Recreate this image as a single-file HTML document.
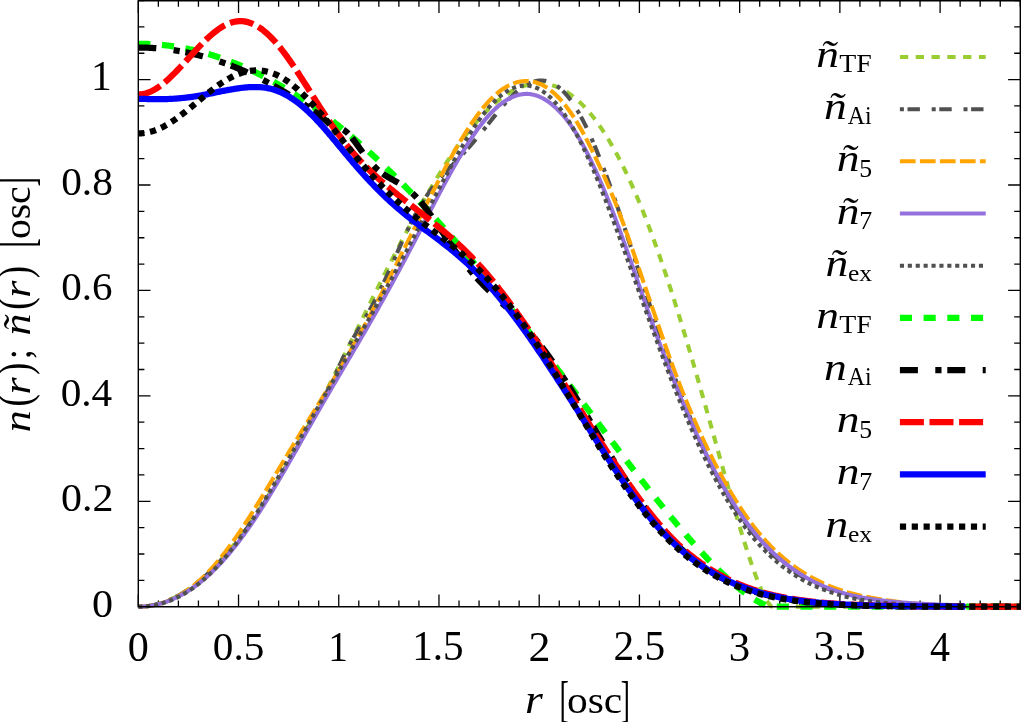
<!DOCTYPE html>
<html lang="en"><head><meta charset="utf-8"><title>density profiles</title>
<style>html,body{margin:0;padding:0;background:#fff}svg{display:block}text{font-family:"Liberation Serif",serif;fill:#000}.it{font-style:italic}</style></head><body>
<svg width="1021" height="722" viewBox="0 0 1021 722">
<rect width="1021" height="722" fill="#fff"/>
<defs><clipPath id="cp"><rect x="138.3" y="0.7" width="882.7" height="609.3"/></clipPath></defs>
<path d="M138.30,606.7 v-12.2 M138.30,0.7 v12.2 M158.35,606.7 v-6.1 M158.35,0.7 v6.1 M178.39,606.7 v-6.1 M178.39,0.7 v6.1 M198.44,606.7 v-6.1 M198.44,0.7 v6.1 M218.48,606.7 v-6.1 M218.48,0.7 v6.1 M238.53,606.7 v-12.2 M238.53,0.7 v12.2 M258.57,606.7 v-6.1 M258.57,0.7 v6.1 M278.62,606.7 v-6.1 M278.62,0.7 v6.1 M298.66,606.7 v-6.1 M298.66,0.7 v6.1 M318.71,606.7 v-6.1 M318.71,0.7 v6.1 M338.75,606.7 v-12.2 M338.75,0.7 v12.2 M358.80,606.7 v-6.1 M358.80,0.7 v6.1 M378.84,606.7 v-6.1 M378.84,0.7 v6.1 M398.88,606.7 v-6.1 M398.88,0.7 v6.1 M418.93,606.7 v-6.1 M418.93,0.7 v6.1 M438.97,606.7 v-12.2 M438.97,0.7 v12.2 M459.02,606.7 v-6.1 M459.02,0.7 v6.1 M479.06,606.7 v-6.1 M479.06,0.7 v6.1 M499.11,606.7 v-6.1 M499.11,0.7 v6.1 M519.15,606.7 v-6.1 M519.15,0.7 v6.1 M539.20,606.7 v-12.2 M539.20,0.7 v12.2 M559.25,606.7 v-6.1 M559.25,0.7 v6.1 M579.29,606.7 v-6.1 M579.29,0.7 v6.1 M599.33,606.7 v-6.1 M599.33,0.7 v6.1 M619.38,606.7 v-6.1 M619.38,0.7 v6.1 M639.42,606.7 v-12.2 M639.42,0.7 v12.2 M659.47,606.7 v-6.1 M659.47,0.7 v6.1 M679.52,606.7 v-6.1 M679.52,0.7 v6.1 M699.56,606.7 v-6.1 M699.56,0.7 v6.1 M719.61,606.7 v-6.1 M719.61,0.7 v6.1 M739.65,606.7 v-12.2 M739.65,0.7 v12.2 M759.69,606.7 v-6.1 M759.69,0.7 v6.1 M779.74,606.7 v-6.1 M779.74,0.7 v6.1 M799.78,606.7 v-6.1 M799.78,0.7 v6.1 M819.83,606.7 v-6.1 M819.83,0.7 v6.1 M839.88,606.7 v-12.2 M839.88,0.7 v12.2 M859.92,606.7 v-6.1 M859.92,0.7 v6.1 M879.96,606.7 v-6.1 M879.96,0.7 v6.1 M900.01,606.7 v-6.1 M900.01,0.7 v6.1 M920.05,606.7 v-6.1 M920.05,0.7 v6.1 M940.10,606.7 v-12.2 M940.10,0.7 v12.2 M960.14,606.7 v-6.1 M960.14,0.7 v6.1 M980.19,606.7 v-6.1 M980.19,0.7 v6.1 M1000.23,606.7 v-6.1 M1000.23,0.7 v6.1 M1020.28,606.7 v-6.1 M1020.28,0.7 v6.1 M138.3,606.70 h12.2 M1020.3,606.70 h-12.2 M138.3,580.35 h6.1 M1020.3,580.35 h-6.1 M138.3,553.99 h6.1 M1020.3,553.99 h-6.1 M138.3,527.63 h6.1 M1020.3,527.63 h-6.1 M138.3,501.28 h12.2 M1020.3,501.28 h-12.2 M138.3,474.93 h6.1 M1020.3,474.93 h-6.1 M138.3,448.57 h6.1 M1020.3,448.57 h-6.1 M138.3,422.22 h6.1 M1020.3,422.22 h-6.1 M138.3,395.86 h12.2 M1020.3,395.86 h-12.2 M138.3,369.50 h6.1 M1020.3,369.50 h-6.1 M138.3,343.15 h6.1 M1020.3,343.15 h-6.1 M138.3,316.80 h6.1 M1020.3,316.80 h-6.1 M138.3,290.44 h12.2 M1020.3,290.44 h-12.2 M138.3,264.09 h6.1 M1020.3,264.09 h-6.1 M138.3,237.73 h6.1 M1020.3,237.73 h-6.1 M138.3,211.38 h6.1 M1020.3,211.38 h-6.1 M138.3,185.02 h12.2 M1020.3,185.02 h-12.2 M138.3,158.66 h6.1 M1020.3,158.66 h-6.1 M138.3,132.31 h6.1 M1020.3,132.31 h-6.1 M138.3,105.95 h6.1 M1020.3,105.95 h-6.1 M138.3,79.60 h12.2 M1020.3,79.60 h-12.2 M138.3,53.25 h6.1 M1020.3,53.25 h-6.1 M138.3,26.89 h6.1 M1020.3,26.89 h-6.1 M138.3,0.53 h6.1 M1020.3,0.53 h-6.1" stroke="#000" stroke-width="1.3" fill="none"/>
<g clip-path="url(#cp)" fill="none" stroke-linejoin="round">
<path d="M138.30,606.70 L139.30,606.69 L140.30,606.67 L141.31,606.64 L142.31,606.59 L143.31,606.52 L144.31,606.45 L145.32,606.36 L146.32,606.25 L147.32,606.13 L148.32,606.00 L149.32,605.85 L150.33,605.69 L151.33,605.51 L152.33,605.32 L153.33,605.12 L154.34,604.90 L155.34,604.67 L156.34,604.42 L157.34,604.16 L158.35,603.89 L159.35,603.60 L160.35,603.30 L161.35,602.98 L162.35,602.66 L163.36,602.31 L164.36,601.96 L165.36,601.58 L166.36,601.20 L167.37,600.80 L168.37,600.39 L169.37,599.96 L170.37,599.52 L171.37,599.07 L172.38,598.60 L173.38,598.12 L174.38,597.62 L175.38,597.12 L176.39,596.59 L177.39,596.06 L178.39,595.51 L179.39,594.95 L180.39,594.37 L181.40,593.78 L182.40,593.18 L183.40,592.56 L184.40,591.93 L185.41,591.28 L186.41,590.63 L187.41,589.96 L188.41,589.27 L189.41,588.58 L190.42,587.86 L191.42,587.14 L192.42,586.40 L193.42,585.65 L194.43,584.89 L195.43,584.12 L196.43,583.33 L197.43,582.52 L198.44,581.71 L199.44,580.88 L200.44,580.04 L201.44,579.19 L202.44,578.32 L203.45,577.44 L204.45,576.55 L205.45,575.64 L206.45,574.72 L207.46,573.79 L208.46,572.85 L209.46,571.90 L210.46,570.93 L211.46,569.95 L212.47,568.95 L213.47,567.95 L214.47,566.93 L215.47,565.90 L216.48,564.86 L217.48,563.81 L218.48,562.74 L219.48,561.66 L220.48,560.57 L221.49,559.47 L222.49,558.36 L223.49,557.23 L224.49,556.09 L225.50,554.94 L226.50,553.78 L227.50,552.61 L228.50,551.42 L229.50,550.23 L230.51,549.02 L231.51,547.80 L232.51,546.57 L233.51,545.33 L234.52,544.08 L235.52,542.81 L236.52,541.54 L237.52,540.25 L238.53,538.95 L239.53,537.64 L240.53,536.33 L241.53,535.00 L242.53,533.65 L243.54,532.30 L244.54,530.94 L245.54,529.57 L246.54,528.19 L247.55,526.79 L248.55,525.39 L249.55,523.97 L250.55,522.55 L251.55,521.11 L252.56,519.67 L253.56,518.21 L254.56,516.75 L255.56,515.27 L256.57,513.79 L257.57,512.29 L258.57,510.79 L259.57,509.28 L260.57,507.75 L261.58,506.22 L262.58,504.68 L263.58,503.13 L264.58,501.57 L265.59,500.00 L266.59,498.42 L267.59,496.83 L268.59,495.23 L269.59,493.63 L270.60,492.01 L271.60,490.39 L272.60,488.76 L273.60,487.12 L274.61,485.47 L275.61,483.81 L276.61,482.14 L277.61,480.47 L278.62,478.79 L279.62,477.10 L280.62,475.40 L281.62,473.69 L282.62,471.98 L283.63,470.26 L284.63,468.53 L285.63,466.79 L286.63,465.05 L287.64,463.30 L288.64,461.54 L289.64,459.77 L290.64,458.00 L291.64,456.22 L292.65,454.43 L293.65,452.64 L294.65,450.84 L295.65,449.03 L296.66,447.22 L297.66,445.40 L298.66,443.57 L299.66,441.74 L300.66,439.90 L301.67,438.05 L302.67,436.20 L303.67,434.34 L304.67,432.48 L305.68,430.61 L306.68,428.74 L307.68,426.86 L308.68,424.97 L309.68,423.08 L310.69,421.18 L311.69,419.28 L312.69,417.38 L313.69,415.46 L314.70,413.55 L315.70,411.63 L316.70,409.70 L317.70,407.77 L318.71,405.84 L319.71,403.90 L320.71,401.95 L321.71,400.01 L322.71,398.06 L323.72,396.10 L324.72,394.14 L325.72,392.18 L326.72,390.21 L327.73,388.24 L328.73,386.27 L329.73,384.29 L330.73,382.31 L331.73,380.33 L332.74,378.34 L333.74,376.35 L334.74,374.36 L335.74,372.37 L336.75,370.37 L337.75,368.37 L338.75,366.37 L339.75,364.37 L340.75,362.36 L341.76,360.35 L342.76,358.34 L343.76,356.33 L344.76,354.32 L345.77,352.30 L346.77,350.29 L347.77,348.27 L348.77,346.25 L349.77,344.23 L350.78,342.21 L351.78,340.19 L352.78,338.17 L353.78,336.14 L354.79,334.12 L355.79,332.09 L356.79,330.07 L357.79,328.05 L358.80,326.02 L359.80,324.00 L360.80,321.97 L361.80,319.95 L362.80,317.92 L363.81,315.90 L364.81,313.88 L365.81,311.86 L366.81,309.83 L367.82,307.81 L368.82,305.79 L369.82,303.78 L370.82,301.76 L371.82,299.75 L372.83,297.73 L373.83,295.72 L374.83,293.71 L375.83,291.70 L376.84,289.70 L377.84,287.69 L378.84,285.69 L379.84,283.69 L380.84,281.70 L381.85,279.70 L382.85,277.71 L383.85,275.73 L384.85,273.74 L385.86,271.76 L386.86,269.78 L387.86,267.81 L388.86,265.83 L389.86,263.87 L390.87,261.90 L391.87,259.94 L392.87,257.99 L393.87,256.04 L394.88,254.09 L395.88,252.15 L396.88,250.21 L397.88,248.27 L398.88,246.35 L399.89,244.42 L400.89,242.50 L401.89,240.59 L402.89,238.68 L403.90,236.78 L404.90,234.88 L405.90,232.99 L406.90,231.10 L407.91,229.22 L408.91,227.35 L409.91,225.48 L410.91,223.62 L411.91,221.77 L412.92,219.92 L413.92,218.08 L414.92,216.24 L415.92,214.42 L416.93,212.59 L417.93,210.78 L418.93,208.98 L419.93,207.18 L420.93,205.39 L421.94,203.60 L422.94,201.83 L423.94,200.06 L424.94,198.30 L425.95,196.55 L426.95,194.81 L427.95,193.08 L428.95,191.35 L429.95,189.64 L430.96,187.93 L431.96,186.23 L432.96,184.54 L433.96,182.86 L434.97,181.19 L435.97,179.53 L436.97,177.88 L437.97,176.24 L438.97,174.61 L439.98,172.99 L440.98,171.38 L441.98,169.77 L442.98,168.18 L443.99,166.61 L444.99,165.04 L445.99,163.48 L446.99,161.93 L448.00,160.40 L449.00,158.87 L450.00,157.36 L451.00,155.86 L452.00,154.37 L453.01,152.89 L454.01,151.42 L455.01,149.97 L456.01,148.53 L457.02,147.10 L458.02,145.68 L459.02,144.27 L460.02,142.88 L461.02,141.50 L462.03,140.14 L463.03,138.78 L464.03,137.44 L465.03,136.12 L466.04,134.80 L467.04,133.50 L468.04,132.22 L469.04,130.95 L470.04,129.69 L471.05,128.44 L472.05,127.21 L473.05,126.00 L474.05,124.80 L475.06,123.61 L476.06,122.44 L477.06,121.28 L478.06,120.14 L479.06,119.01 L480.07,117.90 L481.07,116.80 L482.07,115.72 L483.07,114.65 L484.08,113.60 L485.08,112.57 L486.08,111.55 L487.08,110.55 L488.09,109.56 L489.09,108.59 L490.09,107.64 L491.09,106.70 L492.09,105.78 L493.10,104.88 L494.10,103.99 L495.10,103.12 L496.10,102.27 L497.11,101.44 L498.11,100.62 L499.11,99.82 L500.11,99.04 L501.11,98.27 L502.12,97.52 L503.12,96.79 L504.12,96.08 L505.12,95.39 L506.13,94.72 L507.13,94.06 L508.13,93.42 L509.13,92.80 L510.13,92.20 L511.14,91.62 L512.14,91.06 L513.14,90.51 L514.14,89.99 L515.15,89.49 L516.15,89.00 L517.15,88.53 L518.15,88.09 L519.15,87.66 L520.16,87.25 L521.16,86.87 L522.16,86.50 L523.16,86.15 L524.17,85.83 L525.17,85.52 L526.17,85.23 L527.17,84.97 L528.18,84.72 L529.18,84.50 L530.18,84.30 L531.18,84.12 L532.18,83.96 L533.19,83.82 L534.19,83.70 L535.19,83.60 L536.19,83.52 L537.20,83.47 L538.20,83.44 L539.20,83.43 L540.20,83.44 L541.20,83.47 L542.21,83.52 L543.21,83.60 L544.21,83.70 L545.21,83.82 L546.22,83.97 L547.22,84.13 L548.22,84.32 L549.22,84.53 L550.22,84.77 L551.23,85.02 L552.23,85.30 L553.23,85.60 L554.23,85.93 L555.24,86.28 L556.24,86.65 L557.24,87.04 L558.24,87.46 L559.25,87.90 L560.25,88.37 L561.25,88.85 L562.25,89.37 L563.25,89.90 L564.26,90.46 L565.26,91.04 L566.26,91.65 L567.26,92.28 L568.27,92.94 L569.27,93.61 L570.27,94.32 L571.27,95.04 L572.27,95.80 L573.28,96.57 L574.28,97.37 L575.28,98.19 L576.28,99.04 L577.29,99.92 L578.29,100.81 L579.29,101.73 L580.29,102.68 L581.29,103.65 L582.30,104.65 L583.30,105.67 L584.30,106.71 L585.30,107.78 L586.31,108.88 L587.31,110.00 L588.31,111.14 L589.31,112.31 L590.31,113.51 L591.32,114.73 L592.32,115.97 L593.32,117.24 L594.32,118.54 L595.33,119.86 L596.33,121.20 L597.33,122.57 L598.33,123.97 L599.34,125.39 L600.34,126.83 L601.34,128.30 L602.34,129.80 L603.34,131.32 L604.35,132.86 L605.35,134.44 L606.35,136.03 L607.35,137.65 L608.36,139.30 L609.36,140.97 L610.36,142.67 L611.36,144.39 L612.36,146.14 L613.37,147.91 L614.37,149.71 L615.37,151.53 L616.37,153.38 L617.38,155.26 L618.38,157.15 L619.38,159.08 L620.38,161.02 L621.38,163.00 L622.39,164.99 L623.39,167.02 L624.39,169.06 L625.39,171.14 L626.40,173.23 L627.40,175.35 L628.40,177.50 L629.40,179.67 L630.40,181.87 L631.41,184.09 L632.41,186.33 L633.41,188.60 L634.41,190.89 L635.42,193.21 L636.42,195.55 L637.42,197.91 L638.42,200.30 L639.42,202.71 L640.43,205.15 L641.43,207.61 L642.43,210.09 L643.43,212.60 L644.44,215.13 L645.44,217.68 L646.44,220.25 L647.44,222.85 L648.45,225.47 L649.45,228.12 L650.45,230.79 L651.45,233.48 L652.45,236.19 L653.46,238.92 L654.46,241.68 L655.46,244.45 L656.46,247.25 L657.47,250.08 L658.47,252.92 L659.47,255.78 L660.47,258.67 L661.47,261.57 L662.48,264.50 L663.48,267.45 L664.48,270.41 L665.48,273.40 L666.49,276.41 L667.49,279.43 L668.49,282.48 L669.49,285.55 L670.49,288.63 L671.50,291.74 L672.50,294.86 L673.50,298.00 L674.50,301.16 L675.51,304.34 L676.51,307.53 L677.51,310.74 L678.51,313.97 L679.52,317.22 L680.52,320.48 L681.52,323.76 L682.52,327.05 L683.52,330.36 L684.53,333.69 L685.53,337.03 L686.53,340.38 L687.53,343.75 L688.54,347.14 L689.54,350.53 L690.54,353.94 L691.54,357.37 L692.54,360.80 L693.55,364.25 L694.55,367.71 L695.55,371.18 L696.55,374.66 L697.56,378.15 L698.56,381.66 L699.56,385.17 L700.56,388.69 L701.56,392.22 L702.57,395.76 L703.57,399.30 L704.57,402.85 L705.57,406.41 L706.58,409.98 L707.58,413.55 L708.58,417.12 L709.58,420.70 L710.58,424.29 L711.59,427.88 L712.59,431.47 L713.59,435.06 L714.59,438.65 L715.60,442.25 L716.60,445.84 L717.60,449.43 L718.60,453.03 L719.61,456.62 L720.61,460.20 L721.61,463.79 L722.61,467.37 L723.61,470.94 L724.62,474.51 L725.62,478.07 L726.62,481.62 L727.62,485.16 L728.63,488.69 L729.63,492.22 L730.63,495.73 L731.63,499.22 L732.63,502.71 L733.64,506.17 L734.64,509.62 L735.64,513.06 L736.64,516.47 L737.65,519.87 L738.65,523.24 L739.65,526.59 L740.65,529.92 L741.65,533.22 L742.66,536.49 L743.66,539.73 L744.66,542.94 L745.66,546.12 L746.67,549.26 L747.67,552.37 L748.67,555.44 L749.67,558.47 L750.67,561.45 L751.68,564.39 L752.68,567.28 L753.68,570.11 L754.68,572.90 L755.69,575.62 L756.69,578.28 L757.69,580.88 L758.69,583.41 L759.69,585.87 L760.70,588.24 L761.70,590.54 L762.70,592.74 L763.70,594.84 L764.71,596.84 L765.71,598.72 L766.71,600.47 L767.71,602.08 L768.72,603.53 L769.72,604.79 L770.72,605.83 L771.72,606.55 L772.72,606.70 L773.73,606.70 L774.73,606.70 L775.73,606.70 L776.73,606.70 L777.74,606.70 L778.74,606.70 L779.74,606.70 L780.74,606.70 L781.74,606.70 L782.75,606.70 L783.75,606.70 L784.75,606.70 L785.75,606.70 L786.76,606.70 L787.76,606.70 L788.76,606.70 L789.76,606.70 L790.76,606.70 L791.77,606.70 L792.77,606.70 L793.77,606.70 L794.77,606.70 L795.78,606.70 L796.78,606.70 L797.78,606.70 L798.78,606.70 L799.79,606.70 L800.79,606.70 L801.79,606.70 L802.79,606.70 L803.79,606.70 L804.80,606.70 L805.80,606.70 L806.80,606.70 L807.80,606.70 L808.81,606.70 L809.81,606.70 L810.81,606.70 L811.81,606.70 L812.81,606.70 L813.82,606.70 L814.82,606.70 L815.82,606.70 L816.82,606.70 L817.83,606.70 L818.83,606.70 L819.83,606.70 L820.83,606.70 L821.83,606.70 L822.84,606.70 L823.84,606.70 L824.84,606.70 L825.84,606.70 L826.85,606.70 L827.85,606.70 L828.85,606.70 L829.85,606.70 L830.85,606.70 L831.86,606.70 L832.86,606.70 L833.86,606.70 L834.86,606.70 L835.87,606.70 L836.87,606.70 L837.87,606.70 L838.87,606.70 L839.88,606.70 L840.88,606.70 L841.88,606.70 L842.88,606.70 L843.88,606.70 L844.89,606.70 L845.89,606.70 L846.89,606.70 L847.89,606.70 L848.90,606.70 L849.90,606.70 L850.90,606.70 L851.90,606.70 L852.90,606.70 L853.91,606.70 L854.91,606.70 L855.91,606.70 L856.91,606.70 L857.92,606.70 L858.92,606.70 L859.92,606.70 L860.92,606.70 L861.92,606.70 L862.93,606.70 L863.93,606.70 L864.93,606.70 L865.93,606.70 L866.94,606.70 L867.94,606.70 L868.94,606.70 L869.94,606.70 L870.94,606.70 L871.95,606.70 L872.95,606.70 L873.95,606.70 L874.95,606.70 L875.96,606.70 L876.96,606.70 L877.96,606.70 L878.96,606.70 L879.96,606.70 L880.97,606.70 L881.97,606.70 L882.97,606.70 L883.97,606.70 L884.98,606.70 L885.98,606.70 L886.98,606.70 L887.98,606.70 L888.99,606.70 L889.99,606.70 L890.99,606.70 L891.99,606.70 L892.99,606.70 L894.00,606.70 L895.00,606.70 L896.00,606.70 L897.00,606.70 L898.01,606.70 L899.01,606.70 L900.01,606.70 L901.01,606.70 L902.01,606.70 L903.02,606.70 L904.02,606.70 L905.02,606.70 L906.02,606.70 L907.03,606.70 L908.03,606.70 L909.03,606.70 L910.03,606.70 L911.03,606.70 L912.04,606.70 L913.04,606.70 L914.04,606.70 L915.04,606.70 L916.05,606.70 L917.05,606.70 L918.05,606.70 L919.05,606.70 L920.05,606.70 L921.06,606.70 L922.06,606.70 L923.06,606.70 L924.06,606.70 L925.07,606.70 L926.07,606.70 L927.07,606.70 L928.07,606.70 L929.08,606.70 L930.08,606.70 L931.08,606.70 L932.08,606.70 L933.08,606.70 L934.09,606.70 L935.09,606.70 L936.09,606.70 L937.09,606.70 L938.10,606.70 L939.10,606.70 L940.10,606.70 L941.10,606.70 L942.10,606.70 L943.11,606.70 L944.11,606.70 L945.11,606.70 L946.11,606.70 L947.12,606.70 L948.12,606.70 L949.12,606.70 L950.12,606.70 L951.12,606.70 L952.13,606.70 L953.13,606.70 L954.13,606.70 L955.13,606.70 L956.14,606.70 L957.14,606.70 L958.14,606.70 L959.14,606.70 L960.14,606.70 L961.15,606.70 L962.15,606.70 L963.15,606.70 L964.15,606.70 L965.16,606.70 L966.16,606.70 L967.16,606.70 L968.16,606.70 L969.17,606.70 L970.17,606.70 L971.17,606.70 L972.17,606.70 L973.17,606.70 L974.18,606.70 L975.18,606.70 L976.18,606.70 L977.18,606.70 L978.19,606.70 L979.19,606.70 L980.19,606.70 L981.19,606.70 L982.19,606.70 L983.20,606.70 L984.20,606.70 L985.20,606.70 L986.20,606.70 L987.21,606.70 L988.21,606.70 L989.21,606.70 L990.21,606.70 L991.21,606.70 L992.22,606.70 L993.22,606.70 L994.22,606.70 L995.22,606.70 L996.23,606.70 L997.23,606.70 L998.23,606.70 L999.23,606.70 L1000.23,606.70 L1001.24,606.70 L1002.24,606.70 L1003.24,606.70 L1004.24,606.70 L1005.25,606.70 L1006.25,606.70 L1007.25,606.70 L1008.25,606.70 L1009.26,606.70 L1010.26,606.70 L1011.26,606.70 L1012.26,606.70 L1013.26,606.70 L1014.27,606.70 L1015.27,606.70 L1016.27,606.70 L1017.27,606.70 L1018.28,606.70 L1019.28,606.70 L1020.28,606.70 L1021.28,606.70 L1022.28,606.70 L1023.29,606.70 L1024.29,606.70" stroke="#9acd32" stroke-width="4.1" stroke-dasharray="8.3 7.5"/>
<path d="M138.30,606.70 L139.30,606.69 L140.30,606.67 L141.31,606.64 L142.31,606.59 L143.31,606.53 L144.31,606.45 L145.32,606.36 L146.32,606.25 L147.32,606.13 L148.32,606.00 L149.32,605.85 L150.33,605.69 L151.33,605.52 L152.33,605.33 L153.33,605.13 L154.34,604.91 L155.34,604.68 L156.34,604.44 L157.34,604.18 L158.35,603.91 L159.35,603.62 L160.35,603.32 L161.35,603.01 L162.35,602.68 L163.36,602.34 L164.36,601.99 L165.36,601.62 L166.36,601.24 L167.37,600.84 L168.37,600.43 L169.37,600.01 L170.37,599.57 L171.37,599.12 L172.38,598.66 L173.38,598.18 L174.38,597.69 L175.38,597.18 L176.39,596.66 L177.39,596.13 L178.39,595.58 L179.39,595.03 L180.39,594.45 L181.40,593.87 L182.40,593.27 L183.40,592.65 L184.40,592.03 L185.41,591.39 L186.41,590.74 L187.41,590.07 L188.41,589.39 L189.41,588.70 L190.42,587.99 L191.42,587.27 L192.42,586.54 L193.42,585.80 L194.43,585.04 L195.43,584.27 L196.43,583.49 L197.43,582.69 L198.44,581.88 L199.44,581.06 L200.44,580.22 L201.44,579.37 L202.44,578.51 L203.45,577.64 L204.45,576.75 L205.45,575.86 L206.45,574.94 L207.46,574.02 L208.46,573.08 L209.46,572.14 L210.46,571.18 L211.46,570.20 L212.47,569.22 L213.47,568.22 L214.47,567.21 L215.47,566.19 L216.48,565.15 L217.48,564.10 L218.48,563.05 L219.48,561.98 L220.48,560.89 L221.49,559.80 L222.49,558.69 L223.49,557.58 L224.49,556.45 L225.50,555.30 L226.50,554.15 L227.50,552.99 L228.50,551.81 L229.50,550.62 L230.51,549.43 L231.51,548.22 L232.51,546.99 L233.51,545.76 L234.52,544.52 L235.52,543.26 L236.52,542.00 L237.52,540.72 L238.53,539.43 L239.53,538.14 L240.53,536.83 L241.53,535.51 L242.53,534.18 L243.54,532.83 L244.54,531.48 L245.54,530.12 L246.54,528.75 L247.55,527.36 L248.55,525.97 L249.55,524.57 L250.55,523.15 L251.55,521.73 L252.56,520.30 L253.56,518.85 L254.56,517.40 L255.56,515.93 L256.57,514.46 L257.57,512.98 L258.57,511.49 L259.57,509.98 L260.57,508.47 L261.58,506.95 L262.58,505.42 L263.58,503.88 L264.58,502.34 L265.59,500.78 L266.59,499.21 L267.59,497.64 L268.59,496.05 L269.59,494.46 L270.60,492.86 L271.60,491.25 L272.60,489.63 L273.60,488.00 L274.61,486.37 L275.61,484.72 L276.61,483.07 L277.61,481.41 L278.62,479.74 L279.62,478.07 L280.62,476.38 L281.62,474.69 L282.62,472.99 L283.63,471.28 L284.63,469.57 L285.63,467.85 L286.63,466.12 L287.64,464.38 L288.64,462.64 L289.64,460.89 L290.64,459.13 L291.64,457.36 L292.65,455.59 L293.65,453.81 L294.65,452.03 L295.65,450.24 L296.66,448.44 L297.66,446.64 L298.66,444.82 L299.66,443.01 L300.66,441.18 L301.67,439.36 L302.67,437.52 L303.67,435.68 L304.67,433.83 L305.68,431.98 L306.68,430.12 L307.68,428.26 L308.68,426.39 L309.68,424.52 L310.69,422.64 L311.69,420.76 L312.69,418.87 L313.69,416.98 L314.70,415.08 L315.70,413.18 L316.70,411.27 L317.70,409.36 L318.71,407.44 L319.71,405.53 L320.71,403.62 L321.71,401.73 L322.71,399.84 L323.72,397.95 L324.72,396.05 L325.72,394.15 L326.72,392.24 L327.73,390.30 L328.73,388.34 L329.73,386.35 L330.73,384.33 L331.73,382.28 L332.74,380.19 L333.74,378.08 L334.74,375.93 L335.74,373.76 L336.75,371.58 L337.75,369.37 L338.75,367.17 L339.75,364.96 L340.75,362.76 L341.76,360.58 L342.76,358.42 L343.76,356.29 L344.76,354.20 L345.77,352.15 L346.77,350.15 L347.77,348.19 L348.77,346.28 L349.77,344.41 L350.78,342.57 L351.78,340.75 L352.78,338.96 L353.78,337.20 L354.79,335.45 L355.79,333.73 L356.79,332.02 L357.79,330.32 L358.80,328.63 L359.80,326.95 L360.80,325.27 L361.80,323.59 L362.80,321.91 L363.81,320.22 L364.81,318.52 L365.81,316.82 L366.81,315.10 L367.82,313.36 L368.82,311.61 L369.82,309.83 L370.82,308.04 L371.82,306.22 L372.83,304.37 L373.83,302.50 L374.83,300.61 L375.83,298.69 L376.84,296.74 L377.84,294.76 L378.84,292.76 L379.84,290.73 L380.84,288.67 L381.85,286.59 L382.85,284.49 L383.85,282.36 L384.85,280.21 L385.86,278.04 L386.86,275.85 L387.86,273.65 L388.86,271.43 L389.86,269.20 L390.87,266.95 L391.87,264.70 L392.87,262.44 L393.87,260.18 L394.88,257.92 L395.88,255.65 L396.88,253.39 L397.88,251.14 L398.88,248.89 L399.89,246.65 L400.89,244.42 L401.89,242.20 L402.89,240.00 L403.90,237.82 L404.90,235.66 L405.90,233.52 L406.90,231.40 L407.91,229.30 L408.91,227.23 L409.91,225.19 L410.91,223.18 L411.91,221.19 L412.92,219.24 L413.92,217.31 L414.92,215.42 L415.92,213.56 L416.93,211.74 L417.93,209.94 L418.93,208.18 L419.93,206.46 L420.93,204.77 L421.94,203.11 L422.94,201.49 L423.94,199.89 L424.94,198.34 L425.95,196.81 L426.95,195.32 L427.95,193.85 L428.95,192.42 L429.95,191.02 L430.96,189.64 L431.96,188.30 L432.96,186.98 L433.96,185.68 L434.97,184.41 L435.97,183.17 L436.97,181.94 L437.97,180.74 L438.97,179.56 L439.98,178.39 L440.98,177.24 L441.98,176.11 L442.98,174.99 L443.99,173.89 L444.99,172.79 L445.99,171.71 L446.99,170.64 L448.00,169.57 L449.00,168.51 L450.00,167.46 L451.00,166.41 L452.00,165.36 L453.01,164.32 L454.01,163.28 L455.01,162.23 L456.01,161.19 L457.02,160.14 L458.02,159.09 L459.02,158.04 L460.02,156.98 L461.02,155.92 L462.03,154.85 L463.03,153.77 L464.03,152.69 L465.03,151.60 L466.04,150.50 L467.04,149.39 L468.04,148.28 L469.04,147.15 L470.04,146.02 L471.05,144.87 L472.05,143.72 L473.05,142.56 L474.05,141.39 L475.06,140.21 L476.06,139.02 L477.06,137.82 L478.06,136.61 L479.06,135.40 L480.07,134.17 L481.07,132.94 L482.07,131.71 L483.07,130.47 L484.08,129.22 L485.08,127.97 L486.08,126.71 L487.08,125.45 L488.09,124.19 L489.09,122.93 L490.09,121.66 L491.09,120.40 L492.09,119.14 L493.10,117.88 L494.10,116.62 L495.10,115.37 L496.10,114.13 L497.11,112.89 L498.11,111.66 L499.11,110.44 L500.11,109.23 L501.11,108.03 L502.12,106.84 L503.12,105.66 L504.12,104.50 L505.12,103.36 L506.13,102.23 L507.13,101.13 L508.13,100.04 L509.13,98.97 L510.13,97.92 L511.14,96.89 L512.14,95.89 L513.14,94.92 L514.14,93.96 L515.15,93.04 L516.15,92.14 L517.15,91.27 L518.15,90.43 L519.15,89.62 L520.16,88.84 L521.16,88.09 L522.16,87.37 L523.16,86.68 L524.17,86.03 L525.17,85.41 L526.17,84.82 L527.17,84.27 L528.18,83.76 L529.18,83.28 L530.18,82.84 L531.18,82.43 L532.18,82.06 L533.19,81.73 L534.19,81.44 L535.19,81.19 L536.19,80.97 L537.20,80.79 L538.20,80.66 L539.20,80.56 L540.20,80.50 L541.20,80.49 L542.21,80.51 L543.21,80.58 L544.21,80.69 L545.21,80.85 L546.22,81.04 L547.22,81.28 L548.22,81.56 L549.22,81.89 L550.22,82.27 L551.23,82.68 L552.23,83.15 L553.23,83.66 L554.23,84.21 L555.24,84.82 L556.24,85.46 L557.24,86.16 L558.24,86.91 L559.25,87.70 L560.25,88.54 L561.25,89.43 L562.25,90.37 L563.25,91.36 L564.26,92.39 L565.26,93.48 L566.26,94.61 L567.26,95.80 L568.27,97.03 L569.27,98.31 L570.27,99.64 L571.27,101.01 L572.27,102.44 L573.28,103.91 L574.28,105.43 L575.28,107.00 L576.28,108.61 L577.29,110.27 L578.29,111.98 L579.29,113.73 L580.29,115.53 L581.29,117.37 L582.30,119.25 L583.30,121.18 L584.30,123.14 L585.30,125.15 L586.31,127.20 L587.31,129.29 L588.31,131.42 L589.31,133.59 L590.31,135.80 L591.32,138.04 L592.32,140.32 L593.32,142.63 L594.32,144.98 L595.33,147.36 L596.33,149.78 L597.33,152.22 L598.33,154.70 L599.34,157.21 L600.34,159.75 L601.34,162.31 L602.34,164.91 L603.34,167.53 L604.35,170.18 L605.35,172.85 L606.35,175.55 L607.35,178.27 L608.36,181.01 L609.36,183.78 L610.36,186.57 L611.36,189.38 L612.36,192.20 L613.37,195.05 L614.37,197.92 L615.37,200.80 L616.37,203.70 L617.38,206.61 L618.38,209.54 L619.38,212.48 L620.38,215.44 L621.38,218.41 L622.39,221.39 L623.39,224.38 L624.39,227.39 L625.39,230.40 L626.40,233.42 L627.40,236.45 L628.40,239.49 L629.40,242.53 L630.40,245.58 L631.41,248.64 L632.41,251.70 L633.41,254.76 L634.41,257.83 L635.42,260.90 L636.42,263.97 L637.42,267.04 L638.42,270.12 L639.42,273.19 L640.43,276.26 L641.43,279.34 L642.43,282.41 L643.43,285.48 L644.44,288.54 L645.44,291.60 L646.44,294.66 L647.44,297.71 L648.45,300.76 L649.45,303.81 L650.45,306.84 L651.45,309.87 L652.45,312.89 L653.46,315.91 L654.46,318.92 L655.46,321.91 L656.46,324.90 L657.47,327.88 L658.47,330.85 L659.47,333.81 L660.47,336.76 L661.47,339.69 L662.48,342.62 L663.48,345.53 L664.48,348.43 L665.48,351.32 L666.49,354.19 L667.49,357.05 L668.49,359.90 L669.49,362.73 L670.49,365.55 L671.50,368.35 L672.50,371.14 L673.50,373.91 L674.50,376.67 L675.51,379.41 L676.51,382.13 L677.51,384.84 L678.51,387.53 L679.52,390.20 L680.52,392.86 L681.52,395.50 L682.52,398.12 L683.52,400.72 L684.53,403.30 L685.53,405.87 L686.53,408.42 L687.53,410.95 L688.54,413.46 L689.54,415.95 L690.54,418.42 L691.54,420.88 L692.54,423.31 L693.55,425.72 L694.55,428.12 L695.55,430.49 L696.55,432.85 L697.56,435.18 L698.56,437.50 L699.56,439.79 L700.56,442.07 L701.56,444.32 L702.57,446.55 L703.57,448.77 L704.57,450.96 L705.57,453.13 L706.58,455.29 L707.58,457.42 L708.58,459.53 L709.58,461.62 L710.58,463.69 L711.59,465.74 L712.59,467.77 L713.59,469.78 L714.59,471.77 L715.60,473.74 L716.60,475.68 L717.60,477.61 L718.60,479.52 L719.61,481.41 L720.61,483.27 L721.61,485.12 L722.61,486.94 L723.61,488.75 L724.62,490.53 L725.62,492.30 L726.62,494.04 L727.62,495.77 L728.63,497.48 L729.63,499.16 L730.63,500.83 L731.63,502.48 L732.63,504.10 L733.64,505.71 L734.64,507.30 L735.64,508.87 L736.64,510.42 L737.65,511.95 L738.65,513.46 L739.65,514.96 L740.65,516.43 L741.65,517.89 L742.66,519.33 L743.66,520.75 L744.66,522.15 L745.66,523.53 L746.67,524.90 L747.67,526.25 L748.67,527.58 L749.67,528.89 L750.67,530.18 L751.68,531.46 L752.68,532.72 L753.68,533.97 L754.68,535.19 L755.69,536.40 L756.69,537.60 L757.69,538.77 L758.69,539.93 L759.69,541.08 L760.70,542.21 L761.70,543.32 L762.70,544.42 L763.70,545.50 L764.71,546.56 L765.71,547.61 L766.71,548.65 L767.71,549.67 L768.72,550.67 L769.72,551.66 L770.72,552.64 L771.72,553.60 L772.72,554.55 L773.73,555.48 L774.73,556.40 L775.73,557.30 L776.73,558.20 L777.74,559.07 L778.74,559.94 L779.74,560.79 L780.74,561.63 L781.74,562.45 L782.75,563.26 L783.75,564.06 L784.75,564.85 L785.75,565.62 L786.76,566.39 L787.76,567.14 L788.76,567.88 L789.76,568.60 L790.76,569.32 L791.77,570.02 L792.77,570.71 L793.77,571.39 L794.77,572.06 L795.78,572.72 L796.78,573.37 L797.78,574.00 L798.78,574.63 L799.79,575.25 L800.79,575.85 L801.79,576.45 L802.79,577.03 L803.79,577.61 L804.80,578.17 L805.80,578.73 L806.80,579.28 L807.80,579.82 L808.81,580.34 L809.81,580.86 L810.81,581.37 L811.81,581.87 L812.81,582.37 L813.82,582.85 L814.82,583.33 L815.82,583.79 L816.82,584.25 L817.83,584.70 L818.83,585.14 L819.83,585.58 L820.83,586.01 L821.83,586.43 L822.84,586.84 L823.84,587.24 L824.84,587.64 L825.84,588.03 L826.85,588.41 L827.85,588.79 L828.85,589.16 L829.85,589.52 L830.85,589.87 L831.86,590.22 L832.86,590.56 L833.86,590.90 L834.86,591.23 L835.87,591.55 L836.87,591.87 L837.87,592.18 L838.87,592.49 L839.88,592.79 L840.88,593.08 L841.88,593.37 L842.88,593.65 L843.88,593.93 L844.89,594.20 L845.89,594.47 L846.89,594.73 L847.89,594.99 L848.90,595.24 L849.90,595.49 L850.90,595.73 L851.90,595.97 L852.90,596.20 L853.91,596.43 L854.91,596.65 L855.91,596.87 L856.91,597.09 L857.92,597.30 L858.92,597.50 L859.92,597.70 L860.92,597.90 L861.92,598.10 L862.93,598.29 L863.93,598.47 L864.93,598.66 L865.93,598.84 L866.94,599.01 L867.94,599.18 L868.94,599.35 L869.94,599.52 L870.94,599.68 L871.95,599.83 L872.95,599.99 L873.95,600.14 L874.95,600.29 L875.96,600.44 L876.96,600.58 L877.96,600.72 L878.96,600.85 L879.96,600.99 L880.97,601.12 L881.97,601.25 L882.97,601.37 L883.97,601.49 L884.98,601.61 L885.98,601.73 L886.98,601.85 L887.98,601.96 L888.99,602.07 L889.99,602.18 L890.99,602.28 L891.99,602.39 L892.99,602.49 L894.00,602.59 L895.00,602.68 L896.00,602.78 L897.00,602.87 L898.01,602.96 L899.01,603.05 L900.01,603.13 L901.01,603.22 L902.01,603.30 L903.02,603.38 L904.02,603.46 L905.02,603.54 L906.02,603.61 L907.03,603.69 L908.03,603.76 L909.03,603.83 L910.03,603.90 L911.03,603.97 L912.04,604.03 L913.04,604.10 L914.04,604.16 L915.04,604.22 L916.05,604.28 L917.05,604.34 L918.05,604.40 L919.05,604.46 L920.05,604.51 L921.06,604.57 L922.06,604.62 L923.06,604.67 L924.06,604.72 L925.07,604.77 L926.07,604.82 L927.07,604.86 L928.07,604.91 L929.08,604.95 L930.08,605.00 L931.08,605.04 L932.08,605.08 L933.08,605.12 L934.09,605.16 L935.09,605.20 L936.09,605.24 L937.09,605.27 L938.10,605.31 L939.10,605.34 L940.10,605.38 L941.10,605.41 L942.10,605.45 L943.11,605.48 L944.11,605.51 L945.11,605.54 L946.11,605.57 L947.12,605.60 L948.12,605.63 L949.12,605.65 L950.12,605.68 L951.12,605.71 L952.13,605.73 L953.13,605.76 L954.13,605.78 L955.13,605.81 L956.14,605.83 L957.14,605.85 L958.14,605.87 L959.14,605.89 L960.14,605.92 L961.15,605.94 L962.15,605.96 L963.15,605.98 L964.15,605.99 L965.16,606.01 L966.16,606.03 L967.16,606.05 L968.16,606.07 L969.17,606.08 L970.17,606.10 L971.17,606.11 L972.17,606.13 L973.17,606.15 L974.18,606.16 L975.18,606.17 L976.18,606.19 L977.18,606.20 L978.19,606.22 L979.19,606.23 L980.19,606.24 L981.19,606.25 L982.19,606.27 L983.20,606.28 L984.20,606.29 L985.20,606.30 L986.20,606.31 L987.21,606.32 L988.21,606.33 L989.21,606.34 L990.21,606.35 L991.21,606.36 L992.22,606.37 L993.22,606.38 L994.22,606.39 L995.22,606.40 L996.23,606.40 L997.23,606.41 L998.23,606.42 L999.23,606.43 L1000.23,606.44 L1001.24,606.44 L1002.24,606.45 L1003.24,606.46 L1004.24,606.46 L1005.25,606.47 L1006.25,606.48 L1007.25,606.48 L1008.25,606.49 L1009.26,606.50 L1010.26,606.50 L1011.26,606.51 L1012.26,606.51 L1013.26,606.52 L1014.27,606.52 L1015.27,606.53 L1016.27,606.53 L1017.27,606.54 L1018.28,606.54 L1019.28,606.55 L1020.28,606.55 L1021.28,606.55 L1022.28,606.56 L1023.29,606.56 L1024.29,606.57" stroke="#505050" stroke-width="4.1" stroke-dasharray="4 3.6 12.4 11.8"/>
<path d="M138.30,606.70 L139.30,606.69 L140.30,606.67 L141.31,606.64 L142.31,606.60 L143.31,606.54 L144.31,606.47 L145.32,606.39 L146.32,606.29 L147.32,606.18 L148.32,606.06 L149.32,605.92 L150.33,605.77 L151.33,605.61 L152.33,605.44 L153.33,605.25 L154.34,605.05 L155.34,604.83 L156.34,604.60 L157.34,604.36 L158.35,604.10 L159.35,603.83 L160.35,603.55 L161.35,603.25 L162.35,602.94 L163.36,602.61 L164.36,602.27 L165.36,601.92 L166.36,601.55 L167.37,601.16 L168.37,600.76 L169.37,600.35 L170.37,599.92 L171.37,599.48 L172.38,599.02 L173.38,598.55 L174.38,598.06 L175.38,597.56 L176.39,597.04 L177.39,596.50 L178.39,595.95 L179.39,595.38 L180.39,594.80 L181.40,594.20 L182.40,593.59 L183.40,592.96 L184.40,592.31 L185.41,591.65 L186.41,590.97 L187.41,590.28 L188.41,589.56 L189.41,588.84 L190.42,588.09 L191.42,587.33 L192.42,586.55 L193.42,585.76 L194.43,584.95 L195.43,584.12 L196.43,583.27 L197.43,582.41 L198.44,581.53 L199.44,580.64 L200.44,579.73 L201.44,578.80 L202.44,577.85 L203.45,576.89 L204.45,575.91 L205.45,574.92 L206.45,573.91 L207.46,572.88 L208.46,571.83 L209.46,570.77 L210.46,569.70 L211.46,568.60 L212.47,567.49 L213.47,566.37 L214.47,565.23 L215.47,564.07 L216.48,562.89 L217.48,561.71 L218.48,560.50 L219.48,559.28 L220.48,558.05 L221.49,556.80 L222.49,555.54 L223.49,554.26 L224.49,552.97 L225.50,551.66 L226.50,550.34 L227.50,549.01 L228.50,547.66 L229.50,546.30 L230.51,544.93 L231.51,543.55 L232.51,542.15 L233.51,540.74 L234.52,539.32 L235.52,537.88 L236.52,536.44 L237.52,534.98 L238.53,533.51 L239.53,532.03 L240.53,530.55 L241.53,529.05 L242.53,527.54 L243.54,526.03 L244.54,524.50 L245.54,522.97 L246.54,521.43 L247.55,519.88 L248.55,518.32 L249.55,516.76 L250.55,515.18 L251.55,513.60 L252.56,512.02 L253.56,510.43 L254.56,508.83 L255.56,507.22 L256.57,505.61 L257.57,503.99 L258.57,502.37 L259.57,500.74 L260.57,499.11 L261.58,497.47 L262.58,495.83 L263.58,494.19 L264.58,492.54 L265.59,490.89 L266.59,489.24 L267.59,487.59 L268.59,485.93 L269.59,484.27 L270.60,482.61 L271.60,480.95 L272.60,479.28 L273.60,477.62 L274.61,475.95 L275.61,474.29 L276.61,472.62 L277.61,470.95 L278.62,469.29 L279.62,467.62 L280.62,465.96 L281.62,464.29 L282.62,462.62 L283.63,460.96 L284.63,459.30 L285.63,457.64 L286.63,455.98 L287.64,454.32 L288.64,452.66 L289.64,451.00 L290.64,449.35 L291.64,447.69 L292.65,446.04 L293.65,444.39 L294.65,442.74 L295.65,441.10 L296.66,439.45 L297.66,437.81 L298.66,436.17 L299.66,434.53 L300.66,432.89 L301.67,431.26 L302.67,429.62 L303.67,427.99 L304.67,426.36 L305.68,424.73 L306.68,423.10 L307.68,421.47 L308.68,419.85 L309.68,418.22 L310.69,416.60 L311.69,414.98 L312.69,413.35 L313.69,411.73 L314.70,410.11 L315.70,408.49 L316.70,406.87 L317.70,405.25 L318.71,403.62 L319.71,402.00 L320.71,400.38 L321.71,398.75 L322.71,397.12 L323.72,395.49 L324.72,393.86 L325.72,392.23 L326.72,390.60 L327.73,388.96 L328.73,387.32 L329.73,385.68 L330.73,384.03 L331.73,382.38 L332.74,380.73 L333.74,379.08 L334.74,377.42 L335.74,375.75 L336.75,374.08 L337.75,372.41 L338.75,370.73 L339.75,369.05 L340.75,367.36 L341.76,365.67 L342.76,363.97 L343.76,362.26 L344.76,360.55 L345.77,358.83 L346.77,357.11 L347.77,355.38 L348.77,353.65 L349.77,351.91 L350.78,350.16 L351.78,348.41 L352.78,346.65 L353.78,344.88 L354.79,343.11 L355.79,341.33 L356.79,339.54 L357.79,337.75 L358.80,335.95 L359.80,334.15 L360.80,332.34 L361.80,330.52 L362.80,328.69 L363.81,326.86 L364.81,325.03 L365.81,323.18 L366.81,321.33 L367.82,319.47 L368.82,317.61 L369.82,315.74 L370.82,313.86 L371.82,311.98 L372.83,310.09 L373.83,308.20 L374.83,306.30 L375.83,304.40 L376.84,302.49 L377.84,300.57 L378.84,298.65 L379.84,296.72 L380.84,294.79 L381.85,292.85 L382.85,290.91 L383.85,288.96 L384.85,287.01 L385.86,285.06 L386.86,283.10 L387.86,281.13 L388.86,279.16 L389.86,277.19 L390.87,275.22 L391.87,273.24 L392.87,271.26 L393.87,269.27 L394.88,267.29 L395.88,265.30 L396.88,263.31 L397.88,261.32 L398.88,259.33 L399.89,257.34 L400.89,255.34 L401.89,253.35 L402.89,251.35 L403.90,249.35 L404.90,247.35 L405.90,245.35 L406.90,243.35 L407.91,241.35 L408.91,239.35 L409.91,237.35 L410.91,235.34 L411.91,233.34 L412.92,231.34 L413.92,229.33 L414.92,227.33 L415.92,225.33 L416.93,223.33 L417.93,221.32 L418.93,219.32 L419.93,217.33 L420.93,215.33 L421.94,213.33 L422.94,211.34 L423.94,209.34 L424.94,207.35 L425.95,205.37 L426.95,203.38 L427.95,201.40 L428.95,199.42 L429.95,197.45 L430.96,195.48 L431.96,193.51 L432.96,191.55 L433.96,189.59 L434.97,187.64 L435.97,185.69 L436.97,183.75 L437.97,181.82 L438.97,179.89 L439.98,177.97 L440.98,176.05 L441.98,174.15 L442.98,172.25 L443.99,170.36 L444.99,168.49 L445.99,166.62 L446.99,164.76 L448.00,162.92 L449.00,161.08 L450.00,159.26 L451.00,157.44 L452.00,155.64 L453.01,153.85 L454.01,152.08 L455.01,150.32 L456.01,148.57 L457.02,146.83 L458.02,145.11 L459.02,143.40 L460.02,141.71 L461.02,140.04 L462.03,138.38 L463.03,136.73 L464.03,135.11 L465.03,133.50 L466.04,131.90 L467.04,130.33 L468.04,128.77 L469.04,127.23 L470.04,125.71 L471.05,124.21 L472.05,122.73 L473.05,121.27 L474.05,119.83 L475.06,118.41 L476.06,117.01 L477.06,115.63 L478.06,114.28 L479.06,112.94 L480.07,111.63 L481.07,110.34 L482.07,109.08 L483.07,107.85 L484.08,106.64 L485.08,105.45 L486.08,104.29 L487.08,103.16 L488.09,102.05 L489.09,100.97 L490.09,99.92 L491.09,98.90 L492.09,97.90 L493.10,96.93 L494.10,95.98 L495.10,95.07 L496.10,94.18 L497.11,93.33 L498.11,92.50 L499.11,91.70 L500.11,90.92 L501.11,90.18 L502.12,89.47 L503.12,88.78 L504.12,88.13 L505.12,87.50 L506.13,86.90 L507.13,86.33 L508.13,85.79 L509.13,85.28 L510.13,84.80 L511.14,84.35 L512.14,83.93 L513.14,83.54 L514.14,83.18 L515.15,82.84 L516.15,82.54 L517.15,82.27 L518.15,82.02 L519.15,81.80 L520.16,81.61 L521.16,81.45 L522.16,81.32 L523.16,81.22 L524.17,81.14 L525.17,81.09 L526.17,81.06 L527.17,81.07 L528.18,81.11 L529.18,81.18 L530.18,81.28 L531.18,81.41 L532.18,81.58 L533.19,81.77 L534.19,82.00 L535.19,82.25 L536.19,82.54 L537.20,82.87 L538.20,83.22 L539.20,83.61 L540.20,84.02 L541.20,84.48 L542.21,84.96 L543.21,85.48 L544.21,86.03 L545.21,86.61 L546.22,87.23 L547.22,87.88 L548.22,88.56 L549.22,89.28 L550.22,90.03 L551.23,90.81 L552.23,91.63 L553.23,92.48 L554.23,93.36 L555.24,94.28 L556.24,95.23 L557.24,96.21 L558.24,97.23 L559.25,98.28 L560.25,99.36 L561.25,100.48 L562.25,101.63 L563.25,102.82 L564.26,104.03 L565.26,105.28 L566.26,106.56 L567.26,107.88 L568.27,109.23 L569.27,110.61 L570.27,112.02 L571.27,113.46 L572.27,114.94 L573.28,116.45 L574.28,117.99 L575.28,119.55 L576.28,121.16 L577.29,122.79 L578.29,124.45 L579.29,126.14 L580.29,127.87 L581.29,129.63 L582.30,131.42 L583.30,133.25 L584.30,135.12 L585.30,137.01 L586.31,138.94 L587.31,140.91 L588.31,142.89 L589.31,144.89 L590.31,146.90 L591.32,148.93 L592.32,150.97 L593.32,153.03 L594.32,155.10 L595.33,157.18 L596.33,159.28 L597.33,161.40 L598.33,163.53 L599.34,165.67 L600.34,167.84 L601.34,170.02 L602.34,172.22 L603.34,174.44 L604.35,176.68 L605.35,178.94 L606.35,181.22 L607.35,183.52 L608.36,185.84 L609.36,188.19 L610.36,190.56 L611.36,192.95 L612.36,195.37 L613.37,197.82 L614.37,200.29 L615.37,202.79 L616.37,205.32 L617.38,207.88 L618.38,210.47 L619.38,213.09 L620.38,215.74 L621.38,218.42 L622.39,221.13 L623.39,223.86 L624.39,226.61 L625.39,229.39 L626.40,232.19 L627.40,235.02 L628.40,237.86 L629.40,240.71 L630.40,243.59 L631.41,246.48 L632.41,249.38 L633.41,252.30 L634.41,255.22 L635.42,258.16 L636.42,261.10 L637.42,264.05 L638.42,267.00 L639.42,269.96 L640.43,272.92 L641.43,275.88 L642.43,278.84 L643.43,281.80 L644.44,284.75 L645.44,287.70 L646.44,290.64 L647.44,293.57 L648.45,296.49 L649.45,299.40 L650.45,302.30 L651.45,305.21 L652.45,308.13 L653.46,311.05 L654.46,313.96 L655.46,316.88 L656.46,319.80 L657.47,322.72 L658.47,325.63 L659.47,328.54 L660.47,331.45 L661.47,334.35 L662.48,337.24 L663.48,340.12 L664.48,343.00 L665.48,345.86 L666.49,348.71 L667.49,351.55 L668.49,354.37 L669.49,357.17 L670.49,359.96 L671.50,362.73 L672.50,365.48 L673.50,368.22 L674.50,370.92 L675.51,373.61 L676.51,376.27 L677.51,378.90 L678.51,381.51 L679.52,384.09 L680.52,386.64 L681.52,389.18 L682.52,391.70 L683.52,394.20 L684.53,396.69 L685.53,399.15 L686.53,401.60 L687.53,404.03 L688.54,406.44 L689.54,408.83 L690.54,411.20 L691.54,413.56 L692.54,415.90 L693.55,418.21 L694.55,420.52 L695.55,422.80 L696.55,425.06 L697.56,427.31 L698.56,429.54 L699.56,431.75 L700.56,433.94 L701.56,436.12 L702.57,438.27 L703.57,440.41 L704.57,442.54 L705.57,444.64 L706.58,446.73 L707.58,448.80 L708.58,450.85 L709.58,452.89 L710.58,454.91 L711.59,456.91 L712.59,458.90 L713.59,460.87 L714.59,462.82 L715.60,464.76 L716.60,466.68 L717.60,468.59 L718.60,470.48 L719.61,472.36 L720.61,474.22 L721.61,476.07 L722.61,477.90 L723.61,479.72 L724.62,481.52 L725.62,483.31 L726.62,485.08 L727.62,486.83 L728.63,488.57 L729.63,490.29 L730.63,492.00 L731.63,493.69 L732.63,495.36 L733.64,497.01 L734.64,498.65 L735.64,500.27 L736.64,501.88 L737.65,503.46 L738.65,505.03 L739.65,506.58 L740.65,508.12 L741.65,509.63 L742.66,511.13 L743.66,512.61 L744.66,514.08 L745.66,515.52 L746.67,516.95 L747.67,518.36 L748.67,519.76 L749.67,521.13 L750.67,522.49 L751.68,523.83 L752.68,525.15 L753.68,526.46 L754.68,527.75 L755.69,529.02 L756.69,530.27 L757.69,531.50 L758.69,532.72 L759.69,533.92 L760.70,535.11 L761.70,536.28 L762.70,537.43 L763.70,538.57 L764.71,539.69 L765.71,540.80 L766.71,541.89 L767.71,542.97 L768.72,544.03 L769.72,545.08 L770.72,546.11 L771.72,547.13 L772.72,548.14 L773.73,549.12 L774.73,550.10 L775.73,551.06 L776.73,552.00 L777.74,552.93 L778.74,553.85 L779.74,554.75 L780.74,555.63 L781.74,556.51 L782.75,557.37 L783.75,558.22 L784.75,559.06 L785.75,559.89 L786.76,560.70 L787.76,561.51 L788.76,562.30 L789.76,563.08 L790.76,563.84 L791.77,564.60 L792.77,565.35 L793.77,566.08 L794.77,566.80 L795.78,567.52 L796.78,568.22 L797.78,568.91 L798.78,569.59 L799.79,570.26 L800.79,570.92 L801.79,571.57 L802.79,572.21 L803.79,572.84 L804.80,573.46 L805.80,574.07 L806.80,574.67 L807.80,575.26 L808.81,575.84 L809.81,576.41 L810.81,576.98 L811.81,577.53 L812.81,578.07 L813.82,578.61 L814.82,579.14 L815.82,579.66 L816.82,580.16 L817.83,580.67 L818.83,581.16 L819.83,581.64 L820.83,582.12 L821.83,582.59 L822.84,583.06 L823.84,583.51 L824.84,583.96 L825.84,584.41 L826.85,584.85 L827.85,585.28 L828.85,585.70 L829.85,586.12 L830.85,586.53 L831.86,586.93 L832.86,587.32 L833.86,587.71 L834.86,588.09 L835.87,588.47 L836.87,588.83 L837.87,589.19 L838.87,589.55 L839.88,589.89 L840.88,590.23 L841.88,590.56 L842.88,590.89 L843.88,591.21 L844.89,591.52 L845.89,591.82 L846.89,592.12 L847.89,592.41 L848.90,592.70 L849.90,592.98 L850.90,593.25 L851.90,593.52 L852.90,593.78 L853.91,594.04 L854.91,594.29 L855.91,594.53 L856.91,594.77 L857.92,595.01 L858.92,595.24 L859.92,595.46 L860.92,595.68 L861.92,595.90 L862.93,596.11 L863.93,596.32 L864.93,596.52 L865.93,596.73 L866.94,596.92 L867.94,597.12 L868.94,597.31 L869.94,597.50 L870.94,597.68 L871.95,597.86 L872.95,598.04 L873.95,598.22 L874.95,598.39 L875.96,598.56 L876.96,598.73 L877.96,598.90 L878.96,599.06 L879.96,599.22 L880.97,599.38 L881.97,599.54 L882.97,599.70 L883.97,599.85 L884.98,600.01 L885.98,600.16 L886.98,600.31 L887.98,600.46 L888.99,600.61 L889.99,600.75 L890.99,600.90 L891.99,601.04 L892.99,601.18 L894.00,601.32 L895.00,601.46 L896.00,601.59 L897.00,601.73 L898.01,601.86 L899.01,601.99 L900.01,602.11 L901.01,602.24 L902.01,602.36 L903.02,602.48 L904.02,602.60 L905.02,602.71 L906.02,602.82 L907.03,602.93 L908.03,603.04 L909.03,603.15 L910.03,603.25 L911.03,603.35 L912.04,603.44 L913.04,603.53 L914.04,603.62 L915.04,603.71 L916.05,603.79 L917.05,603.87 L918.05,603.95 L919.05,604.02 L920.05,604.09 L921.06,604.16 L922.06,604.22 L923.06,604.29 L924.06,604.35 L925.07,604.41 L926.07,604.47 L927.07,604.53 L928.07,604.59 L929.08,604.65 L930.08,604.70 L931.08,604.75 L932.08,604.81 L933.08,604.86 L934.09,604.91 L935.09,604.96 L936.09,605.01 L937.09,605.05 L938.10,605.10 L939.10,605.14 L940.10,605.19 L941.10,605.23 L942.10,605.27 L943.11,605.31 L944.11,605.35 L945.11,605.39 L946.11,605.42 L947.12,605.46 L948.12,605.49 L949.12,605.53 L950.12,605.56 L951.12,605.59 L952.13,605.62 L953.13,605.65 L954.13,605.68 L955.13,605.71 L956.14,605.74 L957.14,605.76 L958.14,605.79 L959.14,605.81 L960.14,605.83 L961.15,605.86 L962.15,605.88 L963.15,605.90 L964.15,605.92 L965.16,605.94 L966.16,605.96 L967.16,605.98 L968.16,606.00 L969.17,606.02 L970.17,606.04 L971.17,606.06 L972.17,606.08 L973.17,606.10 L974.18,606.11 L975.18,606.13 L976.18,606.15 L977.18,606.17 L978.19,606.18 L979.19,606.20 L980.19,606.21 L981.19,606.23 L982.19,606.25 L983.20,606.26 L984.20,606.28 L985.20,606.29 L986.20,606.30 L987.21,606.32 L988.21,606.33 L989.21,606.35 L990.21,606.36 L991.21,606.37 L992.22,606.38 L993.22,606.40 L994.22,606.41 L995.22,606.42 L996.23,606.43 L997.23,606.44 L998.23,606.46 L999.23,606.47 L1000.23,606.48 L1001.24,606.49 L1002.24,606.50 L1003.24,606.51 L1004.24,606.52 L1005.25,606.53 L1006.25,606.53 L1007.25,606.54 L1008.25,606.55 L1009.26,606.56 L1010.26,606.57 L1011.26,606.57 L1012.26,606.58 L1013.26,606.59 L1014.27,606.59 L1015.27,606.60 L1016.27,606.61 L1017.27,606.61 L1018.28,606.62 L1019.28,606.62 L1020.28,606.63 L1021.28,606.63 L1022.28,606.64 L1023.29,606.64 L1024.29,606.64" stroke="#ffa500" stroke-width="4.1" stroke-dasharray="15.7 4.3"/>
<path d="M138.30,606.70 L139.30,606.69 L140.30,606.67 L141.31,606.64 L142.31,606.60 L143.31,606.54 L144.31,606.47 L145.32,606.39 L146.32,606.29 L147.32,606.19 L148.32,606.07 L149.32,605.93 L150.33,605.79 L151.33,605.63 L152.33,605.46 L153.33,605.27 L154.34,605.08 L155.34,604.87 L156.34,604.64 L157.34,604.41 L158.35,604.16 L159.35,603.90 L160.35,603.63 L161.35,603.34 L162.35,603.05 L163.36,602.73 L164.36,602.41 L165.36,602.07 L166.36,601.73 L167.37,601.36 L168.37,600.99 L169.37,600.60 L170.37,600.20 L171.37,599.79 L172.38,599.36 L173.38,598.92 L174.38,598.47 L175.38,598.01 L176.39,597.53 L177.39,597.04 L178.39,596.53 L179.39,596.02 L180.39,595.49 L181.40,594.94 L182.40,594.39 L183.40,593.82 L184.40,593.24 L185.41,592.64 L186.41,592.04 L187.41,591.42 L188.41,590.78 L189.41,590.13 L190.42,589.47 L191.42,588.80 L192.42,588.11 L193.42,587.41 L194.43,586.70 L195.43,585.97 L196.43,585.23 L197.43,584.48 L198.44,583.71 L199.44,582.93 L200.44,582.14 L201.44,581.33 L202.44,580.51 L203.45,579.67 L204.45,578.82 L205.45,577.96 L206.45,577.09 L207.46,576.20 L208.46,575.29 L209.46,574.38 L210.46,573.45 L211.46,572.50 L212.47,571.55 L213.47,570.57 L214.47,569.59 L215.47,568.59 L216.48,567.58 L217.48,566.55 L218.48,565.51 L219.48,564.46 L220.48,563.39 L221.49,562.31 L222.49,561.22 L223.49,560.11 L224.49,558.99 L225.50,557.86 L226.50,556.71 L227.50,555.55 L228.50,554.38 L229.50,553.19 L230.51,551.99 L231.51,550.77 L232.51,549.55 L233.51,548.31 L234.52,547.05 L235.52,545.78 L236.52,544.50 L237.52,543.21 L238.53,541.90 L239.53,540.58 L240.53,539.25 L241.53,537.90 L242.53,536.54 L243.54,535.17 L244.54,533.79 L245.54,532.39 L246.54,530.98 L247.55,529.56 L248.55,528.13 L249.55,526.68 L250.55,525.23 L251.55,523.76 L252.56,522.28 L253.56,520.79 L254.56,519.29 L255.56,517.78 L256.57,516.25 L257.57,514.72 L258.57,513.17 L259.57,511.61 L260.57,510.05 L261.58,508.47 L262.58,506.89 L263.58,505.29 L264.58,503.69 L265.59,502.08 L266.59,500.46 L267.59,498.83 L268.59,497.19 L269.59,495.55 L270.60,493.90 L271.60,492.24 L272.60,490.58 L273.60,488.90 L274.61,487.23 L275.61,485.54 L276.61,483.85 L277.61,482.15 L278.62,480.45 L279.62,478.74 L280.62,477.03 L281.62,475.32 L282.62,473.59 L283.63,471.87 L284.63,470.14 L285.63,468.40 L286.63,466.67 L287.64,464.92 L288.64,463.18 L289.64,461.43 L290.64,459.68 L291.64,457.93 L292.65,456.18 L293.65,454.42 L294.65,452.66 L295.65,450.90 L296.66,449.14 L297.66,447.38 L298.66,445.61 L299.66,443.85 L300.66,442.08 L301.67,440.32 L302.67,438.55 L303.67,436.79 L304.67,435.02 L305.68,433.26 L306.68,431.50 L307.68,429.73 L308.68,427.97 L309.68,426.21 L310.69,424.45 L311.69,422.70 L312.69,420.94 L313.69,419.19 L314.70,417.44 L315.70,415.69 L316.70,413.94 L317.70,412.19 L318.71,410.45 L319.71,408.71 L320.71,406.97 L321.71,405.23 L322.71,403.50 L323.72,401.77 L324.72,400.04 L325.72,398.31 L326.72,396.59 L327.73,394.86 L328.73,393.15 L329.73,391.43 L330.73,389.71 L331.73,388.00 L332.74,386.29 L333.74,384.58 L334.74,382.88 L335.74,381.17 L336.75,379.47 L337.75,377.77 L338.75,376.07 L339.75,374.37 L340.75,372.67 L341.76,370.97 L342.76,369.27 L343.76,367.57 L344.76,365.87 L345.77,364.17 L346.77,362.47 L347.77,360.77 L348.77,359.06 L349.77,357.36 L350.78,355.65 L351.78,353.95 L352.78,352.24 L353.78,350.53 L354.79,348.82 L355.79,347.11 L356.79,345.40 L357.79,343.68 L358.80,341.96 L359.80,340.24 L360.80,338.52 L361.80,336.80 L362.80,335.07 L363.81,333.35 L364.81,331.62 L365.81,329.88 L366.81,328.15 L367.82,326.41 L368.82,324.67 L369.82,322.92 L370.82,321.18 L371.82,319.43 L372.83,317.68 L373.83,315.92 L374.83,314.16 L375.83,312.40 L376.84,310.63 L377.84,308.87 L378.84,307.09 L379.84,305.32 L380.84,303.54 L381.85,301.76 L382.85,299.97 L383.85,298.18 L384.85,296.38 L385.86,294.58 L386.86,292.77 L387.86,290.96 L388.86,289.15 L389.86,287.33 L390.87,285.51 L391.87,283.68 L392.87,281.85 L393.87,280.01 L394.88,278.17 L395.88,276.32 L396.88,274.47 L397.88,272.61 L398.88,270.75 L399.89,268.89 L400.89,267.02 L401.89,265.15 L402.89,263.27 L403.90,261.39 L404.90,259.50 L405.90,257.61 L406.90,255.72 L407.91,253.82 L408.91,251.92 L409.91,250.02 L410.91,248.11 L411.91,246.20 L412.92,244.28 L413.92,242.37 L414.92,240.45 L415.92,238.53 L416.93,236.60 L417.93,234.68 L418.93,232.75 L419.93,230.82 L420.93,228.89 L421.94,226.96 L422.94,225.03 L423.94,223.09 L424.94,221.16 L425.95,219.23 L426.95,217.29 L427.95,215.36 L428.95,213.43 L429.95,211.50 L430.96,209.57 L431.96,207.65 L432.96,205.73 L433.96,203.81 L434.97,201.89 L435.97,199.97 L436.97,198.07 L437.97,196.16 L438.97,194.26 L439.98,192.37 L440.98,190.48 L441.98,188.60 L442.98,186.72 L443.99,184.86 L444.99,183.00 L445.99,181.15 L446.99,179.31 L448.00,177.48 L449.00,175.66 L450.00,173.84 L451.00,172.04 L452.00,170.25 L453.01,168.47 L454.01,166.70 L455.01,164.94 L456.01,163.20 L457.02,161.46 L458.02,159.74 L459.02,158.04 L460.02,156.35 L461.02,154.67 L462.03,153.00 L463.03,151.35 L464.03,149.72 L465.03,148.10 L466.04,146.50 L467.04,144.91 L468.04,143.34 L469.04,141.79 L470.04,140.26 L471.05,138.74 L472.05,137.24 L473.05,135.77 L474.05,134.31 L475.06,132.87 L476.06,131.45 L477.06,130.05 L478.06,128.67 L479.06,127.31 L480.07,125.97 L481.07,124.66 L482.07,123.37 L483.07,122.11 L484.08,120.87 L485.08,119.65 L486.08,118.47 L487.08,117.30 L488.09,116.16 L489.09,115.05 L490.09,113.97 L491.09,112.91 L492.09,111.88 L493.10,110.87 L494.10,109.90 L495.10,108.95 L496.10,108.02 L497.11,107.13 L498.11,106.26 L499.11,105.43 L500.11,104.62 L501.11,103.84 L502.12,103.09 L503.12,102.36 L504.12,101.67 L505.12,101.00 L506.13,100.37 L507.13,99.76 L508.13,99.19 L509.13,98.64 L510.13,98.12 L511.14,97.64 L512.14,97.18 L513.14,96.75 L514.14,96.35 L515.15,95.98 L516.15,95.64 L517.15,95.34 L518.15,95.06 L519.15,94.81 L520.16,94.59 L521.16,94.40 L522.16,94.24 L523.16,94.11 L524.17,94.01 L525.17,93.95 L526.17,93.91 L527.17,93.92 L528.18,93.95 L529.18,94.02 L530.18,94.12 L531.18,94.26 L532.18,94.43 L533.19,94.64 L534.19,94.88 L535.19,95.15 L536.19,95.46 L537.20,95.80 L538.20,96.17 L539.20,96.58 L540.20,97.02 L541.20,97.49 L542.21,97.99 L543.21,98.53 L544.21,99.10 L545.21,99.69 L546.22,100.32 L547.22,100.98 L548.22,101.67 L549.22,102.39 L550.22,103.14 L551.23,103.92 L552.23,104.73 L553.23,105.57 L554.23,106.44 L555.24,107.34 L556.24,108.27 L557.24,109.23 L558.24,110.22 L559.25,111.24 L560.25,112.29 L561.25,113.36 L562.25,114.47 L563.25,115.61 L564.26,116.78 L565.26,117.99 L566.26,119.22 L567.26,120.49 L568.27,121.79 L569.27,123.12 L570.27,124.49 L571.27,125.90 L572.27,127.33 L573.28,128.81 L574.28,130.32 L575.28,131.87 L576.28,133.46 L577.29,135.09 L578.29,136.75 L579.29,138.46 L580.29,140.21 L581.29,141.99 L582.30,143.80 L583.30,145.64 L584.30,147.51 L585.30,149.41 L586.31,151.34 L587.31,153.30 L588.31,155.29 L589.31,157.30 L590.31,159.34 L591.32,161.42 L592.32,163.51 L593.32,165.64 L594.32,167.79 L595.33,169.96 L596.33,172.17 L597.33,174.40 L598.33,176.65 L599.34,178.93 L600.34,181.23 L601.34,183.56 L602.34,185.92 L603.34,188.29 L604.35,190.70 L605.35,193.12 L606.35,195.57 L607.35,198.05 L608.36,200.55 L609.36,203.07 L610.36,205.62 L611.36,208.19 L612.36,210.78 L613.37,213.40 L614.37,216.04 L615.37,218.71 L616.37,221.40 L617.38,224.10 L618.38,226.82 L619.38,229.55 L620.38,232.30 L621.38,235.06 L622.39,237.84 L623.39,240.63 L624.39,243.44 L625.39,246.26 L626.40,249.08 L627.40,251.92 L628.40,254.77 L629.40,257.63 L630.40,260.49 L631.41,263.36 L632.41,266.24 L633.41,269.12 L634.41,272.01 L635.42,274.90 L636.42,277.79 L637.42,280.69 L638.42,283.58 L639.42,286.48 L640.43,289.37 L641.43,292.27 L642.43,295.16 L643.43,298.04 L644.44,300.92 L645.44,303.80 L646.44,306.67 L647.44,309.53 L648.45,312.38 L649.45,315.23 L650.45,318.06 L651.45,320.89 L652.45,323.70 L653.46,326.50 L654.46,329.28 L655.46,332.05 L656.46,334.80 L657.47,337.54 L658.47,340.26 L659.47,342.96 L660.47,345.65 L661.47,348.33 L662.48,350.99 L663.48,353.65 L664.48,356.30 L665.48,358.94 L666.49,361.57 L667.49,364.19 L668.49,366.79 L669.49,369.39 L670.49,371.97 L671.50,374.54 L672.50,377.10 L673.50,379.65 L674.50,382.18 L675.51,384.70 L676.51,387.21 L677.51,389.71 L678.51,392.19 L679.52,394.66 L680.52,397.11 L681.52,399.55 L682.52,401.97 L683.52,404.38 L684.53,406.78 L685.53,409.16 L686.53,411.52 L687.53,413.87 L688.54,416.20 L689.54,418.52 L690.54,420.82 L691.54,423.11 L692.54,425.38 L693.55,427.63 L694.55,429.87 L695.55,432.09 L696.55,434.29 L697.56,436.48 L698.56,438.64 L699.56,440.80 L700.56,442.93 L701.56,445.05 L702.57,447.15 L703.57,449.23 L704.57,451.29 L705.57,453.34 L706.58,455.37 L707.58,457.38 L708.58,459.38 L709.58,461.35 L710.58,463.31 L711.59,465.25 L712.59,467.17 L713.59,469.08 L714.59,470.96 L715.60,472.83 L716.60,474.68 L717.60,476.51 L718.60,478.32 L719.61,480.12 L720.61,481.90 L721.61,483.66 L722.61,485.41 L723.61,487.15 L724.62,488.87 L725.62,490.58 L726.62,492.27 L727.62,493.94 L728.63,495.60 L729.63,497.25 L730.63,498.88 L731.63,500.49 L732.63,502.09 L733.64,503.67 L734.64,505.24 L735.64,506.79 L736.64,508.32 L737.65,509.84 L738.65,511.34 L739.65,512.82 L740.65,514.28 L741.65,515.73 L742.66,517.17 L743.66,518.58 L744.66,519.98 L745.66,521.36 L746.67,522.73 L747.67,524.07 L748.67,525.41 L749.67,526.72 L750.67,528.02 L751.68,529.30 L752.68,530.56 L753.68,531.81 L754.68,533.04 L755.69,534.25 L756.69,535.45 L757.69,536.63 L758.69,537.79 L759.69,538.94 L760.70,540.07 L761.70,541.18 L762.70,542.28 L763.70,543.37 L764.71,544.44 L765.71,545.50 L766.71,546.54 L767.71,547.57 L768.72,548.58 L769.72,549.58 L770.72,550.57 L771.72,551.54 L772.72,552.49 L773.73,553.44 L774.73,554.36 L775.73,555.28 L776.73,556.18 L777.74,557.06 L778.74,557.94 L779.74,558.79 L780.74,559.64 L781.74,560.48 L782.75,561.30 L783.75,562.11 L784.75,562.91 L785.75,563.70 L786.76,564.49 L787.76,565.25 L788.76,566.01 L789.76,566.76 L790.76,567.50 L791.77,568.23 L792.77,568.95 L793.77,569.65 L794.77,570.35 L795.78,571.04 L796.78,571.71 L797.78,572.38 L798.78,573.04 L799.79,573.69 L800.79,574.32 L801.79,574.95 L802.79,575.57 L803.79,576.18 L804.80,576.77 L805.80,577.36 L806.80,577.94 L807.80,578.51 L808.81,579.07 L809.81,579.62 L810.81,580.16 L811.81,580.69 L812.81,581.22 L813.82,581.73 L814.82,582.23 L815.82,582.73 L816.82,583.21 L817.83,583.69 L818.83,584.16 L819.83,584.61 L820.83,585.06 L821.83,585.50 L822.84,585.94 L823.84,586.37 L824.84,586.78 L825.84,587.20 L826.85,587.60 L827.85,587.99 L828.85,588.38 L829.85,588.75 L830.85,589.12 L831.86,589.48 L832.86,589.84 L833.86,590.19 L834.86,590.53 L835.87,590.87 L836.87,591.20 L837.87,591.52 L838.87,591.84 L839.88,592.15 L840.88,592.45 L841.88,592.75 L842.88,593.04 L843.88,593.33 L844.89,593.61 L845.89,593.88 L846.89,594.15 L847.89,594.41 L848.90,594.66 L849.90,594.91 L850.90,595.16 L851.90,595.40 L852.90,595.63 L853.91,595.86 L854.91,596.08 L855.91,596.30 L856.91,596.51 L857.92,596.72 L858.92,596.92 L859.92,597.12 L860.92,597.31 L861.92,597.50 L862.93,597.68 L863.93,597.86 L864.93,598.04 L865.93,598.21 L866.94,598.38 L867.94,598.55 L868.94,598.71 L869.94,598.87 L870.94,599.03 L871.95,599.18 L872.95,599.33 L873.95,599.47 L874.95,599.62 L875.96,599.76 L876.96,599.89 L877.96,600.03 L878.96,600.16 L879.96,600.29 L880.97,600.41 L881.97,600.53 L882.97,600.65 L883.97,600.77 L884.98,600.89 L885.98,601.00 L886.98,601.11 L887.98,601.22 L888.99,601.32 L889.99,601.42 L890.99,601.52 L891.99,601.62 L892.99,601.72 L894.00,601.81 L895.00,601.91 L896.00,602.00 L897.00,602.09 L898.01,602.17 L899.01,602.26 L900.01,602.34 L901.01,602.42 L902.01,602.50 L903.02,602.58 L904.02,602.66 L905.02,602.73 L906.02,602.80 L907.03,602.88 L908.03,602.95 L909.03,603.01 L910.03,603.08 L911.03,603.15 L912.04,603.21 L913.04,603.28 L914.04,603.34 L915.04,603.40 L916.05,603.46 L917.05,603.52 L918.05,603.58 L919.05,603.64 L920.05,603.69 L921.06,603.75 L922.06,603.80 L923.06,603.85 L924.06,603.91 L925.07,603.96 L926.07,604.01 L927.07,604.06 L928.07,604.10 L929.08,604.15 L930.08,604.20 L931.08,604.24 L932.08,604.29 L933.08,604.33 L934.09,604.38 L935.09,604.42 L936.09,604.46 L937.09,604.50 L938.10,604.54 L939.10,604.58 L940.10,604.62 L941.10,604.66 L942.10,604.70 L943.11,604.74 L944.11,604.78 L945.11,604.81 L946.11,604.85 L947.12,604.88 L948.12,604.92 L949.12,604.95 L950.12,604.99 L951.12,605.02 L952.13,605.05 L953.13,605.08 L954.13,605.12 L955.13,605.15 L956.14,605.18 L957.14,605.21 L958.14,605.24 L959.14,605.27 L960.14,605.30 L961.15,605.33 L962.15,605.36 L963.15,605.38 L964.15,605.41 L965.16,605.44" stroke="#9370db" stroke-width="4.1"/>
<path d="M138.30,606.70 L139.30,606.69 L140.30,606.68 L141.31,606.65 L142.31,606.61 L143.31,606.55 L144.31,606.49 L145.32,606.41 L146.32,606.32 L147.32,606.22 L148.32,606.11 L149.32,605.98 L150.33,605.85 L151.33,605.70 L152.33,605.54 L153.33,605.36 L154.34,605.18 L155.34,604.98 L156.34,604.77 L157.34,604.55 L158.35,604.31 L159.35,604.06 L160.35,603.80 L161.35,603.53 L162.35,603.25 L163.36,602.95 L164.36,602.64 L165.36,602.32 L166.36,601.98 L167.37,601.63 L168.37,601.27 L169.37,600.89 L170.37,600.50 L171.37,600.10 L172.38,599.69 L173.38,599.26 L174.38,598.82 L175.38,598.36 L176.39,597.89 L177.39,597.41 L178.39,596.91 L179.39,596.40 L180.39,595.87 L181.40,595.33 L182.40,594.78 L183.40,594.21 L184.40,593.63 L185.41,593.03 L186.41,592.42 L187.41,591.80 L188.41,591.16 L189.41,590.50 L190.42,589.84 L191.42,589.15 L192.42,588.45 L193.42,587.74 L194.43,587.01 L195.43,586.27 L196.43,585.51 L197.43,584.74 L198.44,583.95 L199.44,583.14 L200.44,582.32 L201.44,581.49 L202.44,580.64 L203.45,579.78 L204.45,578.90 L205.45,578.00 L206.45,577.09 L207.46,576.16 L208.46,575.22 L209.46,574.27 L210.46,573.29 L211.46,572.31 L212.47,571.30 L213.47,570.29 L214.47,569.25 L215.47,568.21 L216.48,567.14 L217.48,566.07 L218.48,564.97 L219.48,563.87 L220.48,562.74 L221.49,561.61 L222.49,560.45 L223.49,559.29 L224.49,558.11 L225.50,556.91 L226.50,555.70 L227.50,554.48 L228.50,553.24 L229.50,551.99 L230.51,550.73 L231.51,549.45 L232.51,548.15 L233.51,546.85 L234.52,545.53 L235.52,544.19 L236.52,542.85 L237.52,541.48 L238.53,540.11 L239.53,538.72 L240.53,537.32 L241.53,535.91 L242.53,534.49 L243.54,533.05 L244.54,531.61 L245.54,530.15 L246.54,528.67 L247.55,527.19 L248.55,525.70 L249.55,524.19 L250.55,522.68 L251.55,521.15 L252.56,519.61 L253.56,518.07 L254.56,516.51 L255.56,514.94 L256.57,513.36 L257.57,511.77 L258.57,510.17 L259.57,508.57 L260.57,506.95 L261.58,505.33 L262.58,503.69 L263.58,502.05 L264.58,500.41 L265.59,498.75 L266.59,497.09 L267.59,495.42 L268.59,493.74 L269.59,492.06 L270.60,490.37 L271.60,488.67 L272.60,486.97 L273.60,485.27 L274.61,483.55 L275.61,481.84 L276.61,480.12 L277.61,478.39 L278.62,476.66 L279.62,474.92 L280.62,473.18 L281.62,471.44 L282.62,469.70 L283.63,467.95 L284.63,466.19 L285.63,464.44 L286.63,462.68 L287.64,460.92 L288.64,459.16 L289.64,457.40 L290.64,455.63 L291.64,453.86 L292.65,452.09 L293.65,450.32 L294.65,448.55 L295.65,446.78 L296.66,445.00 L297.66,443.23 L298.66,441.46 L299.66,439.68 L300.66,437.91 L301.67,436.13 L302.67,434.36 L303.67,432.58 L304.67,430.81 L305.68,429.03 L306.68,427.26 L307.68,425.49 L308.68,423.71 L309.68,421.94 L310.69,420.17 L311.69,418.40 L312.69,416.63 L313.69,414.86 L314.70,413.10 L315.70,411.33 L316.70,409.57 L317.70,407.81 L318.71,406.05 L319.71,404.29 L320.71,402.53 L321.71,400.77 L322.71,399.02 L323.72,397.27 L324.72,395.51 L325.72,393.77 L326.72,392.02 L327.73,390.27 L328.73,388.53 L329.73,386.78 L330.73,385.04 L331.73,383.30 L332.74,381.56 L333.74,379.83 L334.74,378.09 L335.74,376.36 L336.75,374.63 L337.75,372.90 L338.75,371.17 L339.75,369.44 L340.75,367.71 L341.76,365.98 L342.76,364.25 L343.76,362.53 L344.76,360.80 L345.77,359.07 L346.77,357.35 L347.77,355.62 L348.77,353.89 L349.77,352.16 L350.78,350.44 L351.78,348.71 L352.78,346.98 L353.78,345.25 L354.79,343.52 L355.79,341.79 L356.79,340.06 L357.79,338.33 L358.80,336.59 L359.80,334.86 L360.80,333.12 L361.80,331.39 L362.80,329.65 L363.81,327.91 L364.81,326.17 L365.81,324.42 L366.81,322.68 L367.82,320.93 L368.82,319.18 L369.82,317.43 L370.82,315.67 L371.82,313.92 L372.83,312.16 L373.83,310.40 L374.83,308.64 L375.83,306.87 L376.84,305.10 L377.84,303.33 L378.84,301.56 L379.84,299.78 L380.84,298.00 L381.85,296.22 L382.85,294.43 L383.85,292.64 L384.85,290.85 L385.86,289.05 L386.86,287.25 L387.86,285.44 L388.86,283.63 L389.86,281.81 L390.87,279.99 L391.87,278.17 L392.87,276.34 L393.87,274.51 L394.88,272.68 L395.88,270.84 L396.88,268.99 L397.88,267.14 L398.88,265.29 L399.89,263.43 L400.89,261.57 L401.89,259.71 L402.89,257.84 L403.90,255.96 L404.90,254.09 L405.90,252.20 L406.90,250.32 L407.91,248.43 L408.91,246.53 L409.91,244.64 L410.91,242.74 L411.91,240.83 L412.92,238.93 L413.92,237.02 L414.92,235.10 L415.92,233.19 L416.93,231.27 L417.93,229.35 L418.93,227.42 L419.93,225.50 L420.93,223.57 L421.94,221.64 L422.94,219.71 L423.94,217.78 L424.94,215.84 L425.95,213.91 L426.95,211.97 L427.95,210.04 L428.95,208.10 L429.95,206.17 L430.96,204.24 L431.96,202.30 L432.96,200.37 L433.96,198.44 L434.97,196.51 L435.97,194.58 L436.97,192.66 L437.97,190.74 L438.97,188.82 L439.98,186.91 L440.98,185.00 L441.98,183.09 L442.98,181.20 L443.99,179.30 L444.99,177.42 L445.99,175.54 L446.99,173.67 L448.00,171.80 L449.00,169.95 L450.00,168.10 L451.00,166.26 L452.00,164.43 L453.01,162.61 L454.01,160.80 L455.01,159.00 L456.01,157.21 L457.02,155.43 L458.02,153.66 L459.02,151.91 L460.02,150.17 L461.02,148.44 L462.03,146.72 L463.03,145.02 L464.03,143.34 L465.03,141.66 L466.04,140.01 L467.04,138.37 L468.04,136.74 L469.04,135.13 L470.04,133.54 L471.05,131.97 L472.05,130.41 L473.05,128.87 L474.05,127.36 L475.06,125.86 L476.06,124.38 L477.06,122.92 L478.06,121.48 L479.06,120.06 L480.07,118.66 L481.07,117.29 L482.07,115.94 L483.07,114.62 L484.08,113.32 L485.08,112.05 L486.08,110.80 L487.08,109.58 L488.09,108.39 L489.09,107.22 L490.09,106.08 L491.09,104.97 L492.09,103.89 L493.10,102.83 L494.10,101.80 L495.10,100.81 L496.10,99.84 L497.11,98.90 L498.11,97.99 L499.11,97.11 L500.11,96.26 L501.11,95.44 L502.12,94.65 L503.12,93.90 L504.12,93.17 L505.12,92.48 L506.13,91.82 L507.13,91.19 L508.13,90.59 L509.13,90.03 L510.13,89.50 L511.14,89.00 L512.14,88.53 L513.14,88.10 L514.14,87.70 L515.15,87.34 L516.15,87.00 L517.15,86.71 L518.15,86.44 L519.15,86.21 L520.16,86.02 L521.16,85.86 L522.16,85.73 L523.16,85.64 L524.17,85.58 L525.17,85.56 L526.17,85.57 L527.17,85.62 L528.18,85.71 L529.18,85.84 L530.18,86.00 L531.18,86.20 L532.18,86.44 L533.19,86.72 L534.19,87.04 L535.19,87.40 L536.19,87.79 L537.20,88.22 L538.20,88.70 L539.20,89.21 L540.20,89.75 L541.20,90.34 L542.21,90.97 L543.21,91.63 L544.21,92.33 L545.21,93.07 L546.22,93.85 L547.22,94.66 L548.22,95.51 L549.22,96.41 L550.22,97.33 L551.23,98.30 L552.23,99.30 L553.23,100.34 L554.23,101.42 L555.24,102.54 L556.24,103.69 L557.24,104.87 L558.24,106.10 L559.25,107.36 L560.25,108.65 L561.25,109.98 L562.25,111.35 L563.25,112.75 L564.26,114.18 L565.26,115.65 L566.26,117.15 L567.26,118.69 L568.27,120.26 L569.27,121.86 L570.27,123.50 L571.27,125.17 L572.27,126.87 L573.28,128.60 L574.28,130.37 L575.28,132.16 L576.28,133.99 L577.29,135.84 L578.29,137.73 L579.29,139.65 L580.29,141.59 L581.29,143.58 L582.30,145.59 L583.30,147.64 L584.30,149.73 L585.30,151.84 L586.31,153.99 L587.31,156.16 L588.31,158.37 L589.31,160.60 L590.31,162.86 L591.32,165.15 L592.32,167.47 L593.32,169.81 L594.32,172.17 L595.33,174.56 L596.33,176.98 L597.33,179.41 L598.33,181.87 L599.34,184.34 L600.34,186.84 L601.34,189.36 L602.34,191.89 L603.34,194.44 L604.35,197.01 L605.35,199.60 L606.35,202.20 L607.35,204.82 L608.36,207.44 L609.36,210.09 L610.36,212.74 L611.36,215.41 L612.36,218.08 L613.37,220.77 L614.37,223.47 L615.37,226.18 L616.37,228.89 L617.38,231.61 L618.38,234.34 L619.38,237.07 L620.38,239.81 L621.38,242.56 L622.39,245.32 L623.39,248.08 L624.39,250.85 L625.39,253.63 L626.40,256.41 L627.40,259.19 L628.40,261.98 L629.40,264.78 L630.40,267.58 L631.41,270.38 L632.41,273.18 L633.41,275.99 L634.41,278.79 L635.42,281.60 L636.42,284.41 L637.42,287.22 L638.42,290.03 L639.42,292.84 L640.43,295.65 L641.43,298.46 L642.43,301.27 L643.43,304.07 L644.44,306.87 L645.44,309.67 L646.44,312.46 L647.44,315.25 L648.45,318.04 L649.45,320.82 L650.45,323.60 L651.45,326.37 L652.45,329.14 L653.46,331.90 L654.46,334.65 L655.46,337.40 L656.46,340.13 L657.47,342.87 L658.47,345.59 L659.47,348.31 L660.47,351.01 L661.47,353.71 L662.48,356.40 L663.48,359.08 L664.48,361.75 L665.48,364.41 L666.49,367.06 L667.49,369.70 L668.49,372.32 L669.49,374.94 L670.49,377.54 L671.50,380.14 L672.50,382.72 L673.50,385.29 L674.50,387.84 L675.51,390.38 L676.51,392.91 L677.51,395.43 L678.51,397.93 L679.52,400.42 L680.52,402.89 L681.52,405.35 L682.52,407.80 L683.52,410.23 L684.53,412.65 L685.53,415.05 L686.53,417.44 L687.53,419.81 L688.54,422.16 L689.54,424.50 L690.54,426.82 L691.54,429.13 L692.54,431.42 L693.55,433.70 L694.55,435.96 L695.55,438.20 L696.55,440.42 L697.56,442.63 L698.56,444.82 L699.56,446.99 L700.56,449.15 L701.56,451.29 L702.57,453.41 L703.57,455.52 L704.57,457.60 L705.57,459.67 L706.58,461.73 L707.58,463.76 L708.58,465.78 L709.58,467.77 L710.58,469.76 L711.59,471.72 L712.59,473.66 L713.59,475.59 L714.59,477.50 L715.60,479.39 L716.60,481.26 L717.60,483.11 L718.60,484.95 L719.61,486.77 L720.61,488.57 L721.61,490.35 L722.61,492.12 L723.61,493.87 L724.62,495.60 L725.62,497.32 L726.62,499.02 L727.62,500.71 L728.63,502.37 L729.63,504.02 L730.63,505.65 L731.63,507.26 L732.63,508.86 L733.64,510.43 L734.64,511.99 L735.64,513.53 L736.64,515.05 L737.65,516.56 L738.65,518.04 L739.65,519.51 L740.65,520.96 L741.65,522.39 L742.66,523.80 L743.66,525.20 L744.66,526.57 L745.66,527.93 L746.67,529.27 L747.67,530.59 L748.67,531.90 L749.67,533.18 L750.67,534.45 L751.68,535.70 L752.68,536.93 L753.68,538.15 L754.68,539.34 L755.69,540.52 L756.69,541.69 L757.69,542.83 L758.69,543.96 L759.69,545.07 L760.70,546.16 L761.70,547.24 L762.70,548.31 L763.70,549.36 L764.71,550.39 L765.71,551.41 L766.71,552.41 L767.71,553.40 L768.72,554.38 L769.72,555.34 L770.72,556.29 L771.72,557.22 L772.72,558.14 L773.73,559.04 L774.73,559.93 L775.73,560.81 L776.73,561.68 L777.74,562.53 L778.74,563.37 L779.74,564.19 L780.74,565.00 L781.74,565.80 L782.75,566.59 L783.75,567.37 L784.75,568.13 L785.75,568.88 L786.76,569.62 L787.76,570.34 L788.76,571.06 L789.76,571.76 L790.76,572.45 L791.77,573.13 L792.77,573.80 L793.77,574.46 L794.77,575.11 L795.78,575.74 L796.78,576.37 L797.78,576.98 L798.78,577.59 L799.79,578.18 L800.79,578.77 L801.79,579.34 L802.79,579.90 L803.79,580.46 L804.80,581.00 L805.80,581.54 L806.80,582.06 L807.80,582.58 L808.81,583.09 L809.81,583.58 L810.81,584.07 L811.81,584.55 L812.81,585.03 L813.82,585.49 L814.82,585.94 L815.82,586.39 L816.82,586.83 L817.83,587.26 L818.83,587.68 L819.83,588.09 L820.83,588.50 L821.83,588.90 L822.84,589.30 L823.84,589.69 L824.84,590.07 L825.84,590.45 L826.85,590.82 L827.85,591.18 L828.85,591.54 L829.85,591.89 L830.85,592.24 L831.86,592.57 L832.86,592.91 L833.86,593.23 L834.86,593.55 L835.87,593.87 L836.87,594.17 L837.87,594.47 L838.87,594.77 L839.88,595.06 L840.88,595.34 L841.88,595.62 L842.88,595.89 L843.88,596.15 L844.89,596.41 L845.89,596.66 L846.89,596.91 L847.89,597.15 L848.90,597.39 L849.90,597.62 L850.90,597.84 L851.90,598.06 L852.90,598.27 L853.91,598.48 L854.91,598.69 L855.91,598.89 L856.91,599.08 L857.92,599.27 L858.92,599.45 L859.92,599.63 L860.92,599.81 L861.92,599.98 L862.93,600.14 L863.93,600.31 L864.93,600.47 L865.93,600.62 L866.94,600.78 L867.94,600.93 L868.94,601.07 L869.94,601.21 L870.94,601.35 L871.95,601.49 L872.95,601.62 L873.95,601.75 L874.95,601.88 L875.96,602.00 L876.96,602.12 L877.96,602.24 L878.96,602.36 L879.96,602.47 L880.97,602.58 L881.97,602.69 L882.97,602.79 L883.97,602.89 L884.98,602.99 L885.98,603.09 L886.98,603.19 L887.98,603.28 L888.99,603.37 L889.99,603.46 L890.99,603.54 L891.99,603.63 L892.99,603.71 L894.00,603.79 L895.00,603.87 L896.00,603.94 L897.00,604.02 L898.01,604.09 L899.01,604.16 L900.01,604.23 L901.01,604.30 L902.01,604.36 L903.02,604.43 L904.02,604.49 L905.02,604.55 L906.02,604.61 L907.03,604.67 L908.03,604.72 L909.03,604.78 L910.03,604.83 L911.03,604.88 L912.04,604.93 L913.04,604.98 L914.04,605.03 L915.04,605.08 L916.05,605.12 L917.05,605.17 L918.05,605.21 L919.05,605.25 L920.05,605.29 L921.06,605.33 L922.06,605.37 L923.06,605.41 L924.06,605.45 L925.07,605.48 L926.07,605.52 L927.07,605.55 L928.07,605.59 L929.08,605.62 L930.08,605.65 L931.08,605.68 L932.08,605.71 L933.08,605.74 L934.09,605.77 L935.09,605.79 L936.09,605.82 L937.09,605.85 L938.10,605.87 L939.10,605.90 L940.10,605.92 L941.10,605.94 L942.10,605.97 L943.11,605.99 L944.11,606.01 L945.11,606.03 L946.11,606.05 L947.12,606.07 L948.12,606.09 L949.12,606.11 L950.12,606.12 L951.12,606.14 L952.13,606.16 L953.13,606.17 L954.13,606.19 L955.13,606.21 L956.14,606.22 L957.14,606.24 L958.14,606.25 L959.14,606.26 L960.14,606.28 L961.15,606.29 L962.15,606.30 L963.15,606.32 L964.15,606.33 L965.16,606.34 L966.16,606.35 L967.16,606.36 L968.16,606.37 L969.17,606.38 L970.17,606.39 L971.17,606.40 L972.17,606.41 L973.17,606.42 L974.18,606.43 L975.18,606.44 L976.18,606.45 L977.18,606.45 L978.19,606.46 L979.19,606.47 L980.19,606.48 L981.19,606.48 L982.19,606.49 L983.20,606.50 L984.20,606.50 L985.20,606.51 L986.20,606.52 L987.21,606.52 L988.21,606.53 L989.21,606.53 L990.21,606.54 L991.21,606.54 L992.22,606.55 L993.22,606.55 L994.22,606.56 L995.22,606.56 L996.23,606.57 L997.23,606.57 L998.23,606.58 L999.23,606.58 L1000.23,606.58 L1001.24,606.59 L1002.24,606.59 L1003.24,606.60 L1004.24,606.60 L1005.25,606.60 L1006.25,606.61 L1007.25,606.61 L1008.25,606.61 L1009.26,606.61 L1010.26,606.62 L1011.26,606.62 L1012.26,606.62 L1013.26,606.63 L1014.27,606.63 L1015.27,606.63 L1016.27,606.63 L1017.27,606.64 L1018.28,606.64 L1019.28,606.64 L1020.28,606.64 L1021.28,606.64 L1022.28,606.65 L1023.29,606.65 L1024.29,606.65" stroke="#505050" stroke-width="4.1" stroke-dasharray="4.1 3.8"/>
<path d="M138.30,43.75 L139.30,43.75 L140.30,43.76 L141.31,43.77 L142.31,43.78 L143.31,43.80 L144.31,43.82 L145.32,43.85 L146.32,43.88 L147.32,43.92 L148.32,43.96 L149.32,44.00 L150.33,44.05 L151.33,44.10 L152.33,44.16 L153.33,44.22 L154.34,44.29 L155.34,44.36 L156.34,44.43 L157.34,44.51 L158.35,44.59 L159.35,44.68 L160.35,44.77 L161.35,44.86 L162.35,44.96 L163.36,45.07 L164.36,45.17 L165.36,45.29 L166.36,45.40 L167.37,45.52 L168.37,45.65 L169.37,45.77 L170.37,45.91 L171.37,46.04 L172.38,46.19 L173.38,46.33 L174.38,46.48 L175.38,46.63 L176.39,46.79 L177.39,46.96 L178.39,47.12 L179.39,47.29 L180.39,47.47 L181.40,47.65 L182.40,47.83 L183.40,48.02 L184.40,48.21 L185.41,48.40 L186.41,48.60 L187.41,48.81 L188.41,49.02 L189.41,49.23 L190.42,49.45 L191.42,49.67 L192.42,49.89 L193.42,50.12 L194.43,50.35 L195.43,50.59 L196.43,50.83 L197.43,51.08 L198.44,51.33 L199.44,51.58 L200.44,51.84 L201.44,52.11 L202.44,52.37 L203.45,52.64 L204.45,52.92 L205.45,53.20 L206.45,53.48 L207.46,53.77 L208.46,54.06 L209.46,54.36 L210.46,54.66 L211.46,54.96 L212.47,55.27 L213.47,55.58 L214.47,55.90 L215.47,56.22 L216.48,56.54 L217.48,56.87 L218.48,57.20 L219.48,57.54 L220.48,57.88 L221.49,58.23 L222.49,58.58 L223.49,58.93 L224.49,59.29 L225.50,59.65 L226.50,60.02 L227.50,60.39 L228.50,60.76 L229.50,61.14 L230.51,61.52 L231.51,61.91 L232.51,62.30 L233.51,62.69 L234.52,63.09 L235.52,63.49 L236.52,63.90 L237.52,64.31 L238.53,64.73 L239.53,65.14 L240.53,65.57 L241.53,65.99 L242.53,66.43 L243.54,66.86 L244.54,67.30 L245.54,67.74 L246.54,68.19 L247.55,68.64 L248.55,69.10 L249.55,69.56 L250.55,70.02 L251.55,70.49 L252.56,70.96 L253.56,71.43 L254.56,71.91 L255.56,72.40 L256.57,72.88 L257.57,73.38 L258.57,73.87 L259.57,74.37 L260.57,74.87 L261.58,75.38 L262.58,75.89 L263.58,76.41 L264.58,76.93 L265.59,77.45 L266.59,77.98 L267.59,78.51 L268.59,79.04 L269.59,79.58 L270.60,80.13 L271.60,80.67 L272.60,81.22 L273.60,81.78 L274.61,82.34 L275.61,82.90 L276.61,83.47 L277.61,84.04 L278.62,84.61 L279.62,85.19 L280.62,85.77 L281.62,86.36 L282.62,86.95 L283.63,87.54 L284.63,88.14 L285.63,88.74 L286.63,89.35 L287.64,89.96 L288.64,90.57 L289.64,91.19 L290.64,91.81 L291.64,92.44 L292.65,93.06 L293.65,93.70 L294.65,94.33 L295.65,94.97 L296.66,95.62 L297.66,96.26 L298.66,96.92 L299.66,97.57 L300.66,98.23 L301.67,98.89 L302.67,99.56 L303.67,100.23 L304.67,100.91 L305.68,101.58 L306.68,102.27 L307.68,102.95 L308.68,103.64 L309.68,104.33 L310.69,105.03 L311.69,105.73 L312.69,106.44 L313.69,107.15 L314.70,107.86 L315.70,108.57 L316.70,109.29 L317.70,110.01 L318.71,110.74 L319.71,111.47 L320.71,112.21 L321.71,112.94 L322.71,113.69 L323.72,114.43 L324.72,115.18 L325.72,115.93 L326.72,116.69 L327.73,117.45 L328.73,118.21 L329.73,118.98 L330.73,119.75 L331.73,120.52 L332.74,121.30 L333.74,122.08 L334.74,122.87 L335.74,123.66 L336.75,124.45 L337.75,125.24 L338.75,126.04 L339.75,126.85 L340.75,127.65 L341.76,128.46 L342.76,129.28 L343.76,130.09 L344.76,130.91 L345.77,131.74 L346.77,132.56 L347.77,133.40 L348.77,134.23 L349.77,135.07 L350.78,135.91 L351.78,136.75 L352.78,137.60 L353.78,138.46 L354.79,139.31 L355.79,140.17 L356.79,141.03 L357.79,141.90 L358.80,142.77 L359.80,143.64 L360.80,144.52 L361.80,145.39 L362.80,146.28 L363.81,147.16 L364.81,148.05 L365.81,148.95 L366.81,149.84 L367.82,150.74 L368.82,151.64 L369.82,152.55 L370.82,153.46 L371.82,154.37 L372.83,155.29 L373.83,156.21 L374.83,157.13 L375.83,158.06 L376.84,158.99 L377.84,159.92 L378.84,160.86 L379.84,161.80 L380.84,162.74 L381.85,163.68 L382.85,164.63 L383.85,165.58 L384.85,166.54 L385.86,167.50 L386.86,168.46 L387.86,169.42 L388.86,170.39 L389.86,171.36 L390.87,172.34 L391.87,173.32 L392.87,174.30 L393.87,175.28 L394.88,176.27 L395.88,177.26 L396.88,178.25 L397.88,179.25 L398.88,180.24 L399.89,181.25 L400.89,182.25 L401.89,183.26 L402.89,184.27 L403.90,185.29 L404.90,186.30 L405.90,187.32 L406.90,188.35 L407.91,189.37 L408.91,190.40 L409.91,191.44 L410.91,192.47 L411.91,193.51 L412.92,194.55 L413.92,195.59 L414.92,196.64 L415.92,197.69 L416.93,198.74 L417.93,199.80 L418.93,200.86 L419.93,201.92 L420.93,202.98 L421.94,204.05 L422.94,205.12 L423.94,206.19 L424.94,207.27 L425.95,208.35 L426.95,209.43 L427.95,210.51 L428.95,211.60 L429.95,212.69 L430.96,213.78 L431.96,214.88 L432.96,215.97 L433.96,217.08 L434.97,218.18 L435.97,219.28 L436.97,220.39 L437.97,221.50 L438.97,222.62 L439.98,223.73 L440.98,224.85 L441.98,225.97 L442.98,227.10 L443.99,228.23 L444.99,229.35 L445.99,230.49 L446.99,231.62 L448.00,232.76 L449.00,233.90 L450.00,235.04 L451.00,236.18 L452.00,237.33 L453.01,238.48 L454.01,239.63 L455.01,240.79 L456.01,241.95 L457.02,243.10 L458.02,244.27 L459.02,245.43 L460.02,246.60 L461.02,247.77 L462.03,248.94 L463.03,250.11 L464.03,251.29 L465.03,252.47 L466.04,253.65 L467.04,254.83 L468.04,256.01 L469.04,257.20 L470.04,258.39 L471.05,259.58 L472.05,260.78 L473.05,261.97 L474.05,263.17 L475.06,264.37 L476.06,265.58 L477.06,266.78 L478.06,267.99 L479.06,269.20 L480.07,270.41 L481.07,271.62 L482.07,272.84 L483.07,274.06 L484.08,275.28 L485.08,276.50 L486.08,277.72 L487.08,278.95 L488.09,280.18 L489.09,281.41 L490.09,282.64 L491.09,283.87 L492.09,285.11 L493.10,286.34 L494.10,287.58 L495.10,288.83 L496.10,290.07 L497.11,291.31 L498.11,292.56 L499.11,293.81 L500.11,295.06 L501.11,296.31 L502.12,297.57 L503.12,298.82 L504.12,300.08 L505.12,301.34 L506.13,302.60 L507.13,303.86 L508.13,305.13 L509.13,306.39 L510.13,307.66 L511.14,308.93 L512.14,310.20 L513.14,311.48 L514.14,312.75 L515.15,314.03 L516.15,315.30 L517.15,316.58 L518.15,317.86 L519.15,319.14 L520.16,320.43 L521.16,321.71 L522.16,323.00 L523.16,324.29 L524.17,325.57 L525.17,326.86 L526.17,328.16 L527.17,329.45 L528.18,330.74 L529.18,332.04 L530.18,333.34 L531.18,334.63 L532.18,335.93 L533.19,337.23 L534.19,338.54 L535.19,339.84 L536.19,341.14 L537.20,342.45 L538.20,343.76 L539.20,345.06 L540.20,346.37 L541.20,347.68 L542.21,348.99 L543.21,350.30 L544.21,351.62 L545.21,352.93 L546.22,354.25 L547.22,355.56 L548.22,356.88 L549.22,358.20 L550.22,359.51 L551.23,360.83 L552.23,362.15 L553.23,363.48 L554.23,364.80 L555.24,366.12 L556.24,367.44 L557.24,368.77 L558.24,370.09 L559.25,371.42 L560.25,372.74 L561.25,374.07 L562.25,375.40 L563.25,376.73 L564.26,378.05 L565.26,379.38 L566.26,380.71 L567.26,382.04 L568.27,383.37 L569.27,384.71 L570.27,386.04 L571.27,387.37 L572.27,388.70 L573.28,390.03 L574.28,391.37 L575.28,392.70 L576.28,394.03 L577.29,395.37 L578.29,396.70 L579.29,398.04 L580.29,399.37 L581.29,400.71 L582.30,402.04 L583.30,403.38 L584.30,404.71 L585.30,406.05 L586.31,407.38 L587.31,408.72 L588.31,410.05 L589.31,411.39 L590.31,412.72 L591.32,414.06 L592.32,415.39 L593.32,416.73 L594.32,418.06 L595.33,419.39 L596.33,420.73 L597.33,422.06 L598.33,423.40 L599.34,424.73 L600.34,426.06 L601.34,427.39 L602.34,428.73 L603.34,430.06 L604.35,431.39 L605.35,432.72 L606.35,434.05 L607.35,435.38 L608.36,436.71 L609.36,438.03 L610.36,439.36 L611.36,440.69 L612.36,442.02 L613.37,443.34 L614.37,444.67 L615.37,445.99 L616.37,447.31 L617.38,448.63 L618.38,449.95 L619.38,451.28 L620.38,452.59 L621.38,453.91 L622.39,455.23 L623.39,456.55 L624.39,457.86 L625.39,459.17 L626.40,460.49 L627.40,461.80 L628.40,463.11 L629.40,464.42 L630.40,465.72 L631.41,467.03 L632.41,468.33 L633.41,469.64 L634.41,470.94 L635.42,472.24 L636.42,473.54 L637.42,474.83 L638.42,476.13 L639.42,477.42 L640.43,478.72 L641.43,480.01 L642.43,481.29 L643.43,482.58 L644.44,483.87 L645.44,485.15 L646.44,486.43 L647.44,487.71 L648.45,488.98 L649.45,490.26 L650.45,491.53 L651.45,492.80 L652.45,494.07 L653.46,495.33 L654.46,496.60 L655.46,497.86 L656.46,499.12 L657.47,500.37 L658.47,501.63 L659.47,502.88 L660.47,504.13 L661.47,505.37 L662.48,506.62 L663.48,507.86 L664.48,509.09 L665.48,510.33 L666.49,511.56 L667.49,512.79 L668.49,514.01 L669.49,515.24 L670.49,516.46 L671.50,517.67 L672.50,518.88 L673.50,520.09 L674.50,521.30 L675.51,522.50 L676.51,523.70 L677.51,524.90 L678.51,526.09 L679.52,527.28 L680.52,528.47 L681.52,529.65 L682.52,530.82 L683.52,532.00 L684.53,533.17 L685.53,534.33 L686.53,535.49 L687.53,536.65 L688.54,537.80 L689.54,538.95 L690.54,540.10 L691.54,541.24 L692.54,542.37 L693.55,543.50 L694.55,544.63 L695.55,545.75 L696.55,546.87 L697.56,547.98 L698.56,549.09 L699.56,550.19 L700.56,551.28 L701.56,552.37 L702.57,553.46 L703.57,554.54 L704.57,555.61 L705.57,556.68 L706.58,557.75 L707.58,558.80 L708.58,559.86 L709.58,560.90 L710.58,561.94 L711.59,562.98 L712.59,564.00 L713.59,565.02 L714.59,566.04 L715.60,567.05 L716.60,568.05 L717.60,569.04 L718.60,570.03 L719.61,571.01 L720.61,571.98 L721.61,572.95 L722.61,573.90 L723.61,574.85 L724.62,575.80 L725.62,576.73 L726.62,577.66 L727.62,578.58 L728.63,579.49 L729.63,580.39 L730.63,581.28 L731.63,582.17 L732.63,583.04 L733.64,583.91 L734.64,584.76 L735.64,585.61 L736.64,586.45 L737.65,587.27 L738.65,588.09 L739.65,588.90 L740.65,589.69 L741.65,590.48 L742.66,591.25 L743.66,592.01 L744.66,592.76 L745.66,593.50 L746.67,594.23 L747.67,594.94 L748.67,595.64 L749.67,596.33 L750.67,597.00 L751.68,597.66 L752.68,598.31 L753.68,598.94 L754.68,599.55 L755.69,600.15 L756.69,600.73 L757.69,601.29 L758.69,601.84 L759.69,602.36 L760.70,602.87 L761.70,603.36 L762.70,603.82 L763.70,604.26 L764.71,604.68 L765.71,605.07 L766.71,605.43 L767.71,605.76 L768.72,606.06 L769.72,606.32 L770.72,606.52 L771.72,606.67 L772.72,606.70 L773.73,606.70 L774.73,606.70 L775.73,606.70 L776.73,606.70 L777.74,606.70 L778.74,606.70 L779.74,606.70 L780.74,606.70 L781.74,606.70 L782.75,606.70 L783.75,606.70 L784.75,606.70 L785.75,606.70 L786.76,606.70 L787.76,606.70 L788.76,606.70 L789.76,606.70 L790.76,606.70 L791.77,606.70 L792.77,606.70 L793.77,606.70 L794.77,606.70 L795.78,606.70 L796.78,606.70 L797.78,606.70 L798.78,606.70 L799.79,606.70 L800.79,606.70 L801.79,606.70 L802.79,606.70 L803.79,606.70 L804.80,606.70 L805.80,606.70 L806.80,606.70 L807.80,606.70 L808.81,606.70 L809.81,606.70 L810.81,606.70 L811.81,606.70 L812.81,606.70 L813.82,606.70 L814.82,606.70 L815.82,606.70 L816.82,606.70 L817.83,606.70 L818.83,606.70 L819.83,606.70 L820.83,606.70 L821.83,606.70 L822.84,606.70 L823.84,606.70 L824.84,606.70 L825.84,606.70 L826.85,606.70 L827.85,606.70 L828.85,606.70 L829.85,606.70 L830.85,606.70 L831.86,606.70 L832.86,606.70 L833.86,606.70 L834.86,606.70 L835.87,606.70 L836.87,606.70 L837.87,606.70 L838.87,606.70 L839.88,606.70 L840.88,606.70 L841.88,606.70 L842.88,606.70 L843.88,606.70 L844.89,606.70 L845.89,606.70 L846.89,606.70 L847.89,606.70 L848.90,606.70 L849.90,606.70 L850.90,606.70 L851.90,606.70 L852.90,606.70 L853.91,606.70 L854.91,606.70 L855.91,606.70 L856.91,606.70 L857.92,606.70 L858.92,606.70 L859.92,606.70 L860.92,606.70 L861.92,606.70 L862.93,606.70 L863.93,606.70 L864.93,606.70 L865.93,606.70 L866.94,606.70 L867.94,606.70 L868.94,606.70 L869.94,606.70 L870.94,606.70 L871.95,606.70 L872.95,606.70 L873.95,606.70 L874.95,606.70 L875.96,606.70 L876.96,606.70 L877.96,606.70 L878.96,606.70 L879.96,606.70 L880.97,606.70 L881.97,606.70 L882.97,606.70 L883.97,606.70 L884.98,606.70 L885.98,606.70 L886.98,606.70 L887.98,606.70 L888.99,606.70 L889.99,606.70 L890.99,606.70 L891.99,606.70 L892.99,606.70 L894.00,606.70 L895.00,606.70 L896.00,606.70 L897.00,606.70 L898.01,606.70 L899.01,606.70 L900.01,606.70 L901.01,606.70 L902.01,606.70 L903.02,606.70 L904.02,606.70 L905.02,606.70 L906.02,606.70 L907.03,606.70 L908.03,606.70 L909.03,606.70 L910.03,606.70 L911.03,606.70 L912.04,606.70 L913.04,606.70 L914.04,606.70 L915.04,606.70 L916.05,606.70 L917.05,606.70 L918.05,606.70 L919.05,606.70 L920.05,606.70 L921.06,606.70 L922.06,606.70 L923.06,606.70 L924.06,606.70 L925.07,606.70 L926.07,606.70 L927.07,606.70 L928.07,606.70 L929.08,606.70 L930.08,606.70 L931.08,606.70 L932.08,606.70 L933.08,606.70 L934.09,606.70 L935.09,606.70 L936.09,606.70 L937.09,606.70 L938.10,606.70 L939.10,606.70 L940.10,606.70 L941.10,606.70 L942.10,606.70 L943.11,606.70 L944.11,606.70 L945.11,606.70 L946.11,606.70 L947.12,606.70 L948.12,606.70 L949.12,606.70 L950.12,606.70 L951.12,606.70 L952.13,606.70 L953.13,606.70 L954.13,606.70 L955.13,606.70 L956.14,606.70 L957.14,606.70 L958.14,606.70 L959.14,606.70 L960.14,606.70 L961.15,606.70 L962.15,606.70 L963.15,606.70 L964.15,606.70 L965.16,606.70 L966.16,606.70 L967.16,606.70 L968.16,606.70 L969.17,606.70 L970.17,606.70 L971.17,606.70 L972.17,606.70 L973.17,606.70 L974.18,606.70 L975.18,606.70 L976.18,606.70 L977.18,606.70 L978.19,606.70 L979.19,606.70 L980.19,606.70 L981.19,606.70 L982.19,606.70 L983.20,606.70 L984.20,606.70 L985.20,606.70 L986.20,606.70 L987.21,606.70 L988.21,606.70 L989.21,606.70 L990.21,606.70 L991.21,606.70 L992.22,606.70 L993.22,606.70 L994.22,606.70 L995.22,606.70 L996.23,606.70 L997.23,606.70 L998.23,606.70 L999.23,606.70 L1000.23,606.70 L1001.24,606.70 L1002.24,606.70 L1003.24,606.70 L1004.24,606.70 L1005.25,606.70 L1006.25,606.70 L1007.25,606.70 L1008.25,606.70 L1009.26,606.70 L1010.26,606.70 L1011.26,606.70 L1012.26,606.70 L1013.26,606.70 L1014.27,606.70 L1015.27,606.70 L1016.27,606.70 L1017.27,606.70 L1018.28,606.70 L1019.28,606.70 L1020.28,606.70 L1021.28,606.70 L1022.28,606.70 L1023.29,606.70 L1024.29,606.70" stroke="#00ff00" stroke-width="6.25" stroke-dasharray="12.1 11.6"/>
<path d="M138.30,47.54 L139.30,47.54 L140.30,47.55 L141.31,47.56 L142.31,47.58 L143.31,47.60 L144.31,47.62 L145.32,47.65 L146.32,47.68 L147.32,47.71 L148.32,47.75 L149.32,47.80 L150.33,47.85 L151.33,47.90 L152.33,47.96 L153.33,48.02 L154.34,48.08 L155.34,48.15 L156.34,48.23 L157.34,48.31 L158.35,48.39 L159.35,48.48 L160.35,48.57 L161.35,48.66 L162.35,48.76 L163.36,48.86 L164.36,48.97 L165.36,49.08 L166.36,49.20 L167.37,49.32 L168.37,49.45 L169.37,49.57 L170.37,49.71 L171.37,49.84 L172.38,49.99 L173.38,50.13 L174.38,50.28 L175.38,50.44 L176.39,50.59 L177.39,50.76 L178.39,50.92 L179.39,51.10 L180.39,51.27 L181.40,51.45 L182.40,51.63 L183.40,51.82 L184.40,52.01 L185.41,52.21 L186.41,52.41 L187.41,52.61 L188.41,52.82 L189.41,53.04 L190.42,53.25 L191.42,53.48 L192.42,53.70 L193.42,53.93 L194.43,54.16 L195.43,54.40 L196.43,54.65 L197.43,54.89 L198.44,55.14 L199.44,55.40 L200.44,55.66 L201.44,55.92 L202.44,56.19 L203.45,56.46 L204.45,56.73 L205.45,57.01 L206.45,57.30 L207.46,57.59 L208.46,57.88 L209.46,58.17 L210.46,58.48 L211.46,58.78 L212.47,59.09 L213.47,59.40 L214.47,59.72 L215.47,60.04 L216.48,60.37 L217.48,60.70 L218.48,61.03 L219.48,61.37 L220.48,61.71 L221.49,62.06 L222.49,62.41 L223.49,62.76 L224.49,63.12 L225.50,63.48 L226.50,63.85 L227.50,64.22 L228.50,64.59 L229.50,64.97 L230.51,65.36 L231.51,65.74 L232.51,66.13 L233.51,66.53 L234.52,66.93 L235.52,67.33 L236.52,67.74 L237.52,68.15 L238.53,68.57 L239.53,68.99 L240.53,69.41 L241.53,69.84 L242.53,70.27 L243.54,70.71 L244.54,71.15 L245.54,71.59 L246.54,72.04 L247.55,72.49 L248.55,72.95 L249.55,73.41 L250.55,73.88 L251.55,74.34 L252.56,74.82 L253.56,75.29 L254.56,75.77 L255.56,76.26 L256.57,76.75 L257.57,77.24 L258.57,77.74 L259.57,78.24 L260.57,78.74 L261.58,79.25 L262.58,79.76 L263.58,80.28 L264.58,80.80 L265.59,81.33 L266.59,81.85 L267.59,82.39 L268.59,82.92 L269.59,83.46 L270.60,84.01 L271.60,84.56 L272.60,85.11 L273.60,85.66 L274.61,86.22 L275.61,86.79 L276.61,87.36 L277.61,87.93 L278.62,88.50 L279.62,89.08 L280.62,89.67 L281.62,90.26 L282.62,90.85 L283.63,91.44 L284.63,92.04 L285.63,92.65 L286.63,93.25 L287.64,93.86 L288.64,94.48 L289.64,95.10 L290.64,95.72 L291.64,96.35 L292.65,96.98 L293.65,97.61 L294.65,98.25 L295.65,98.89 L296.66,99.54 L297.66,100.19 L298.66,100.84 L299.66,101.50 L300.66,102.16 L301.67,102.82 L302.67,103.49 L303.67,104.16 L304.67,104.84 L305.68,105.52 L306.68,106.20 L307.68,106.89 L308.68,107.58 L309.68,108.28 L310.69,108.98 L311.69,109.68 L312.69,110.38 L313.69,111.09 L314.70,111.81 L315.70,112.53 L316.70,113.25 L317.70,113.97 L318.71,114.70 L319.71,115.45 L320.71,116.24 L321.71,117.05 L322.71,117.89 L323.72,118.75 L324.72,119.60 L325.72,120.45 L326.72,121.27 L327.73,122.05 L328.73,122.80 L329.73,123.49 L330.73,124.13 L331.73,124.71 L332.74,125.23 L333.74,125.71 L334.74,126.14 L335.74,126.53 L336.75,126.90 L337.75,127.27 L338.75,127.63 L339.75,128.02 L340.75,128.43 L341.76,128.90 L342.76,129.42 L343.76,130.02 L344.76,130.70 L345.77,131.46 L346.77,132.31 L347.77,133.25 L348.77,134.29 L349.77,135.39 L350.78,136.55 L351.78,137.75 L352.78,139.00 L353.78,140.28 L354.79,141.60 L355.79,142.94 L356.79,144.31 L357.79,145.69 L358.80,147.08 L359.80,148.47 L360.80,149.87 L361.80,151.25 L362.80,152.63 L363.81,153.99 L364.81,155.33 L365.81,156.65 L366.81,157.94 L367.82,159.20 L368.82,160.43 L369.82,161.63 L370.82,162.79 L371.82,163.91 L372.83,164.99 L373.83,166.04 L374.83,167.04 L375.83,168.00 L376.84,168.93 L377.84,169.82 L378.84,170.67 L379.84,171.48 L380.84,172.27 L381.85,173.02 L382.85,173.73 L383.85,174.43 L384.85,175.09 L385.86,175.73 L386.86,176.36 L387.86,176.96 L388.86,177.55 L389.86,178.13 L390.87,178.70 L391.87,179.26 L392.87,179.82 L393.87,180.38 L394.88,180.94 L395.88,181.51 L396.88,182.08 L397.88,182.66 L398.88,183.25 L399.89,183.86 L400.89,184.49 L401.89,185.13 L402.89,185.79 L403.90,186.48 L404.90,187.18 L405.90,187.92 L406.90,188.68 L407.91,189.46 L408.91,190.27 L409.91,191.12 L410.91,191.99 L411.91,192.89 L412.92,193.82 L413.92,194.79 L414.92,195.78 L415.92,196.80 L416.93,197.85 L417.93,198.94 L418.93,200.05 L419.93,201.19 L420.93,202.36 L421.94,203.56 L422.94,204.78 L423.94,206.03 L424.94,207.30 L425.95,208.60 L426.95,209.92 L427.95,211.26 L428.95,212.62 L429.95,214.00 L430.96,215.39 L431.96,216.80 L432.96,218.23 L433.96,219.67 L434.97,221.12 L435.97,222.58 L436.97,224.05 L437.97,225.53 L438.97,227.02 L439.98,228.51 L440.98,230.00 L441.98,231.50 L442.98,232.99 L443.99,234.49 L444.99,235.98 L445.99,237.47 L446.99,238.96 L448.00,240.45 L449.00,241.92 L450.00,243.39 L451.00,244.86 L452.00,246.31 L453.01,247.76 L454.01,249.19 L455.01,250.61 L456.01,252.02 L457.02,253.42 L458.02,254.81 L459.02,256.18 L460.02,257.54 L461.02,258.89 L462.03,260.22 L463.03,261.53 L464.03,262.83 L465.03,264.12 L466.04,265.39 L467.04,266.64 L468.04,267.88 L469.04,269.11 L470.04,270.31 L471.05,271.51 L472.05,272.69 L473.05,273.85 L474.05,275.00 L475.06,276.13 L476.06,277.25 L477.06,278.36 L478.06,279.46 L479.06,280.54 L480.07,281.61 L481.07,282.66 L482.07,283.71 L483.07,284.75 L484.08,285.77 L485.08,286.79 L486.08,287.79 L487.08,288.79 L488.09,289.78 L489.09,290.77 L490.09,291.74 L491.09,292.72 L492.09,293.68 L493.10,294.64 L494.10,295.60 L495.10,296.56 L496.10,297.51 L497.11,298.46 L498.11,299.41 L499.11,300.37 L500.11,301.32 L501.11,302.27 L502.12,303.22 L503.12,304.18 L504.12,305.14 L505.12,306.10 L506.13,307.07 L507.13,308.04 L508.13,309.01 L509.13,310.00 L510.13,310.99 L511.14,311.98 L512.14,312.98 L513.14,313.99 L514.14,315.01 L515.15,316.04 L516.15,317.07 L517.15,318.11 L518.15,319.17 L519.15,320.23 L520.16,321.30 L521.16,322.38 L522.16,323.47 L523.16,324.57 L524.17,325.68 L525.17,326.80 L526.17,327.94 L527.17,329.08 L528.18,330.23 L529.18,331.40 L530.18,332.57 L531.18,333.76 L532.18,334.95 L533.19,336.16 L534.19,337.38 L535.19,338.61 L536.19,339.85 L537.20,341.10 L538.20,342.36 L539.20,343.63 L540.20,344.91 L541.20,346.21 L542.21,347.51 L543.21,348.82 L544.21,350.15 L545.21,351.49 L546.22,352.83 L547.22,354.19 L548.22,355.56 L549.22,356.94 L550.22,358.33 L551.23,359.73 L552.23,361.14 L553.23,362.57 L554.23,364.00 L555.24,365.44 L556.24,366.90 L557.24,368.36 L558.24,369.84 L559.25,371.33 L560.25,372.82 L561.25,374.33 L562.25,375.85 L563.25,377.37 L564.26,378.91 L565.26,380.46 L566.26,382.01 L567.26,383.58 L568.27,385.15 L569.27,386.74 L570.27,388.33 L571.27,389.93 L572.27,391.54 L573.28,393.15 L574.28,394.78 L575.28,396.41 L576.28,398.04 L577.29,399.69 L578.29,401.34 L579.29,402.99 L580.29,404.66 L581.29,406.32 L582.30,407.99 L583.30,409.67 L584.30,411.35 L585.30,413.03 L586.31,414.72 L587.31,416.41 L588.31,418.10 L589.31,419.79 L590.31,421.49 L591.32,423.18 L592.32,424.88 L593.32,426.58 L594.32,428.28 L595.33,429.98 L596.33,431.67 L597.33,433.37 L598.33,435.07 L599.34,436.76 L600.34,438.45 L601.34,440.14 L602.34,441.83 L603.34,443.51 L604.35,445.19 L605.35,446.87 L606.35,448.54 L607.35,450.21 L608.36,451.88 L609.36,453.54 L610.36,455.19 L611.36,456.84 L612.36,458.49 L613.37,460.12 L614.37,461.76 L615.37,463.38 L616.37,465.00 L617.38,466.62 L618.38,468.22 L619.38,469.82 L620.38,471.41 L621.38,472.99 L622.39,474.57 L623.39,476.14 L624.39,477.70 L625.39,479.25 L626.40,480.79 L627.40,482.32 L628.40,483.85 L629.40,485.36 L630.40,486.87 L631.41,488.36 L632.41,489.85 L633.41,491.33 L634.41,492.79 L635.42,494.25 L636.42,495.70 L637.42,497.13 L638.42,498.56 L639.42,499.98 L640.43,501.38 L641.43,502.78 L642.43,504.16 L643.43,505.53 L644.44,506.90 L645.44,508.25 L646.44,509.59 L647.44,510.91 L648.45,512.23 L649.45,513.54 L650.45,514.83 L651.45,516.12 L652.45,517.39 L653.46,518.65 L654.46,519.90 L655.46,521.13 L656.46,522.36 L657.47,523.57 L658.47,524.77 L659.47,525.96 L660.47,527.14 L661.47,528.31 L662.48,529.46 L663.48,530.61 L664.48,531.74 L665.48,532.86 L666.49,533.96 L667.49,535.06 L668.49,536.15 L669.49,537.22 L670.49,538.28 L671.50,539.33 L672.50,540.37 L673.50,541.39 L674.50,542.41 L675.51,543.41 L676.51,544.40 L677.51,545.38 L678.51,546.35 L679.52,547.30 L680.52,548.25 L681.52,549.18 L682.52,550.11 L683.52,551.02 L684.53,551.92 L685.53,552.81 L686.53,553.69 L687.53,554.55 L688.54,555.41 L689.54,556.25 L690.54,557.09 L691.54,557.91 L692.54,558.72 L693.55,559.53 L694.55,560.32 L695.55,561.10 L696.55,561.87 L697.56,562.63 L698.56,563.38 L699.56,564.12 L700.56,564.85 L701.56,565.57 L702.57,566.28 L703.57,566.98 L704.57,567.67 L705.57,568.35 L706.58,569.02 L707.58,569.68 L708.58,570.34 L709.58,570.98 L710.58,571.61 L711.59,572.23 L712.59,572.85 L713.59,573.45 L714.59,574.05 L715.60,574.64 L716.60,575.22 L717.60,575.79 L718.60,576.35 L719.61,576.90 L720.61,577.45 L721.61,577.98 L722.61,578.51 L723.61,579.03 L724.62,579.54 L725.62,580.05 L726.62,580.54 L727.62,581.03 L728.63,581.51 L729.63,581.99 L730.63,582.45 L731.63,582.91 L732.63,583.36 L733.64,583.80 L734.64,584.24 L735.64,584.67 L736.64,585.09 L737.65,585.50 L738.65,585.91 L739.65,586.31 L740.65,586.71 L741.65,587.10 L742.66,587.48 L743.66,587.85 L744.66,588.22 L745.66,588.58 L746.67,588.94 L747.67,589.29 L748.67,589.63 L749.67,589.97 L750.67,590.30 L751.68,590.63 L752.68,590.95 L753.68,591.27 L754.68,591.58 L755.69,591.88 L756.69,592.18 L757.69,592.47 L758.69,592.76 L759.69,593.04 L760.70,593.32 L761.70,593.59 L762.70,593.86 L763.70,594.13 L764.71,594.38 L765.71,594.64 L766.71,594.89 L767.71,595.13 L768.72,595.37 L769.72,595.61 L770.72,595.84 L771.72,596.06 L772.72,596.29 L773.73,596.51 L774.73,596.72 L775.73,596.93 L776.73,597.14 L777.74,597.34 L778.74,597.54 L779.74,597.73 L780.74,597.92 L781.74,598.11 L782.75,598.30 L783.75,598.48 L784.75,598.65 L785.75,598.83 L786.76,599.00 L787.76,599.16 L788.76,599.33 L789.76,599.49 L790.76,599.64 L791.77,599.80 L792.77,599.95 L793.77,600.10 L794.77,600.24 L795.78,600.38 L796.78,600.52 L797.78,600.66 L798.78,600.79 L799.79,600.92 L800.79,601.05 L801.79,601.18 L802.79,601.30 L803.79,601.42 L804.80,601.54 L805.80,601.66 L806.80,601.77 L807.80,601.88 L808.81,601.99 L809.81,602.10 L810.81,602.20 L811.81,602.30 L812.81,602.40 L813.82,602.50 L814.82,602.60 L815.82,602.69 L816.82,602.78 L817.83,602.87 L818.83,602.96 L819.83,603.05 L820.83,603.13 L821.83,603.21 L822.84,603.29 L823.84,603.37 L824.84,603.45 L825.84,603.53 L826.85,603.60 L827.85,603.67 L828.85,603.74 L829.85,603.81 L830.85,603.88 L831.86,603.95 L832.86,604.01 L833.86,604.08 L834.86,604.14 L835.87,604.20 L836.87,604.26 L837.87,604.32 L838.87,604.37 L839.88,604.43 L840.88,604.48 L841.88,604.54 L842.88,604.59 L843.88,604.64 L844.89,604.69 L845.89,604.74 L846.89,604.78 L847.89,604.83 L848.90,604.88 L849.90,604.92 L850.90,604.96 L851.90,605.01 L852.90,605.05 L853.91,605.09 L854.91,605.13 L855.91,605.17 L856.91,605.20 L857.92,605.24 L858.92,605.28 L859.92,605.31 L860.92,605.35 L861.92,605.38 L862.93,605.41 L863.93,605.44 L864.93,605.48 L865.93,605.51 L866.94,605.54 L867.94,605.57 L868.94,605.59 L869.94,605.62 L870.94,605.65 L871.95,605.68 L872.95,605.70 L873.95,605.73 L874.95,605.75 L875.96,605.77 L876.96,605.80 L877.96,605.82 L878.96,605.84 L879.96,605.87 L880.97,605.89 L881.97,605.91 L882.97,605.93 L883.97,605.95 L884.98,605.97 L885.98,605.99 L886.98,606.00 L887.98,606.02 L888.99,606.04 L889.99,606.06 L890.99,606.07 L891.99,606.09 L892.99,606.11 L894.00,606.12 L895.00,606.14 L896.00,606.15 L897.00,606.17 L898.01,606.18 L899.01,606.19 L900.01,606.21 L901.01,606.22 L902.01,606.23 L903.02,606.24 L904.02,606.26 L905.02,606.27 L906.02,606.28 L907.03,606.29 L908.03,606.30 L909.03,606.31 L910.03,606.32 L911.03,606.33 L912.04,606.34 L913.04,606.35 L914.04,606.36 L915.04,606.37 L916.05,606.38 L917.05,606.39 L918.05,606.40 L919.05,606.40 L920.05,606.41 L921.06,606.42 L922.06,606.43 L923.06,606.44 L924.06,606.44 L925.07,606.45 L926.07,606.46 L927.07,606.46 L928.07,606.47 L929.08,606.48 L930.08,606.48 L931.08,606.49 L932.08,606.49 L933.08,606.50 L934.09,606.50 L935.09,606.51 L936.09,606.52 L937.09,606.52 L938.10,606.53 L939.10,606.53 L940.10,606.53 L941.10,606.54 L942.10,606.54 L943.11,606.55 L944.11,606.55 L945.11,606.56 L946.11,606.56 L947.12,606.56 L948.12,606.57 L949.12,606.57 L950.12,606.58 L951.12,606.58 L952.13,606.58 L953.13,606.59 L954.13,606.59 L955.13,606.59 L956.14,606.60 L957.14,606.60 L958.14,606.60 L959.14,606.60 L960.14,606.61 L961.15,606.61 L962.15,606.61 L963.15,606.61 L964.15,606.62 L965.16,606.62 L966.16,606.62 L967.16,606.62 L968.16,606.63 L969.17,606.63 L970.17,606.63 L971.17,606.63 L972.17,606.63 L973.17,606.64 L974.18,606.64 L975.18,606.64 L976.18,606.64 L977.18,606.64 L978.19,606.64 L979.19,606.65 L980.19,606.65 L981.19,606.65 L982.19,606.65 L983.20,606.65 L984.20,606.65 L985.20,606.66 L986.20,606.66 L987.21,606.66 L988.21,606.66 L989.21,606.66 L990.21,606.66 L991.21,606.66 L992.22,606.66 L993.22,606.66 L994.22,606.67 L995.22,606.67 L996.23,606.67 L997.23,606.67 L998.23,606.67 L999.23,606.67 L1000.23,606.67 L1001.24,606.67 L1002.24,606.67 L1003.24,606.67 L1004.24,606.67 L1005.25,606.68 L1006.25,606.68 L1007.25,606.68 L1008.25,606.68 L1009.26,606.68 L1010.26,606.68 L1011.26,606.68 L1012.26,606.68 L1013.26,606.68 L1014.27,606.68 L1015.27,606.68 L1016.27,606.68 L1017.27,606.68 L1018.28,606.68 L1019.28,606.68 L1020.28,606.68 L1021.28,606.69 L1022.28,606.69 L1023.29,606.69 L1024.29,606.69" stroke="#000000" stroke-width="6.25" stroke-dasharray="18 17.4 6.2 5.8"/>
<path d="M138.30,94.41 L139.30,94.39 L140.30,94.32 L141.31,94.22 L142.31,94.08 L143.31,93.91 L144.31,93.70 L145.32,93.45 L146.32,93.16 L147.32,92.84 L148.32,92.49 L149.32,92.10 L150.33,91.68 L151.33,91.22 L152.33,90.73 L153.33,90.21 L154.34,89.66 L155.34,89.08 L156.34,88.47 L157.34,87.83 L158.35,87.16 L159.35,86.46 L160.35,85.74 L161.35,84.99 L162.35,84.22 L163.36,83.42 L164.36,82.61 L165.36,81.76 L166.36,80.90 L167.37,80.02 L168.37,79.12 L169.37,78.20 L170.37,77.26 L171.37,76.30 L172.38,75.33 L173.38,74.34 L174.38,73.34 L175.38,72.32 L176.39,71.29 L177.39,70.25 L178.39,69.19 L179.39,68.13 L180.39,67.06 L181.40,65.98 L182.40,64.90 L183.40,63.81 L184.40,62.72 L185.41,61.63 L186.41,60.53 L187.41,59.43 L188.41,58.33 L189.41,57.23 L190.42,56.14 L191.42,55.04 L192.42,53.94 L193.42,52.85 L194.43,51.77 L195.43,50.68 L196.43,49.61 L197.43,48.54 L198.44,47.47 L199.44,46.42 L200.44,45.37 L201.44,44.34 L202.44,43.31 L203.45,42.30 L204.45,41.31 L205.45,40.32 L206.45,39.35 L207.46,38.40 L208.46,37.47 L209.46,36.55 L210.46,35.65 L211.46,34.77 L212.47,33.91 L213.47,33.07 L214.47,32.26 L215.47,31.46 L216.48,30.69 L217.48,29.95 L218.48,29.23 L219.48,28.54 L220.48,27.87 L221.49,27.24 L222.49,26.63 L223.49,26.05 L224.49,25.51 L225.50,24.99 L226.50,24.50 L227.50,24.05 L228.50,23.63 L229.50,23.23 L230.51,22.88 L231.51,22.55 L232.51,22.26 L233.51,21.99 L234.52,21.77 L235.52,21.57 L236.52,21.41 L237.52,21.29 L238.53,21.19 L239.53,21.14 L240.53,21.12 L241.53,21.15 L242.53,21.21 L243.54,21.31 L244.54,21.45 L245.54,21.63 L246.54,21.84 L247.55,22.09 L248.55,22.37 L249.55,22.69 L250.55,23.05 L251.55,23.44 L252.56,23.86 L253.56,24.32 L254.56,24.81 L255.56,25.33 L256.57,25.89 L257.57,26.47 L258.57,27.09 L259.57,27.73 L260.57,28.41 L261.58,29.12 L262.58,29.87 L263.58,30.65 L264.58,31.46 L265.59,32.30 L266.59,33.17 L267.59,34.07 L268.59,35.00 L269.59,35.96 L270.60,36.95 L271.60,37.97 L272.60,39.01 L273.60,40.09 L274.61,41.19 L275.61,42.31 L276.61,43.46 L277.61,44.63 L278.62,45.83 L279.62,47.06 L280.62,48.30 L281.62,49.57 L282.62,50.85 L283.63,52.16 L284.63,53.49 L285.63,54.84 L286.63,56.21 L287.64,57.59 L288.64,58.99 L289.64,60.41 L290.64,61.84 L291.64,63.29 L292.65,64.76 L293.65,66.23 L294.65,67.72 L295.65,69.22 L296.66,70.73 L297.66,72.25 L298.66,73.79 L299.66,75.33 L300.66,76.88 L301.67,78.43 L302.67,79.99 L303.67,81.56 L304.67,83.14 L305.68,84.71 L306.68,86.29 L307.68,87.88 L308.68,89.46 L309.68,91.05 L310.69,92.64 L311.69,94.23 L312.69,95.81 L313.69,97.40 L314.70,98.98 L315.70,100.56 L316.70,102.14 L317.70,103.71 L318.71,105.28 L319.71,106.84 L320.71,108.39 L321.71,109.94 L322.71,111.48 L323.72,113.01 L324.72,114.53 L325.72,116.05 L326.72,117.55 L327.73,119.05 L328.73,120.54 L329.73,122.01 L330.73,123.48 L331.73,124.93 L332.74,126.37 L333.74,127.80 L334.74,129.22 L335.74,130.63 L336.75,132.02 L337.75,133.40 L338.75,134.76 L339.75,136.11 L340.75,137.45 L341.76,138.78 L342.76,140.09 L343.76,141.38 L344.76,142.66 L345.77,143.93 L346.77,145.18 L347.77,146.42 L348.77,147.65 L349.77,148.86 L350.78,150.06 L351.78,151.25 L352.78,152.42 L353.78,153.58 L354.79,154.73 L355.79,155.86 L356.79,156.98 L357.79,158.09 L358.80,159.19 L359.80,160.27 L360.80,161.34 L361.80,162.40 L362.80,163.45 L363.81,164.49 L364.81,165.51 L365.81,166.53 L366.81,167.53 L367.82,168.53 L368.82,169.51 L369.82,170.49 L370.82,171.45 L371.82,172.41 L372.83,173.35 L373.83,174.29 L374.83,175.22 L375.83,176.14 L376.84,177.05 L377.84,177.95 L378.84,178.85 L379.84,179.74 L380.84,180.62 L381.85,181.50 L382.85,182.37 L383.85,183.23 L384.85,184.08 L385.86,184.93 L386.86,185.78 L387.86,186.62 L388.86,187.45 L389.86,188.28 L390.87,189.11 L391.87,189.93 L392.87,190.75 L393.87,191.56 L394.88,192.38 L395.88,193.19 L396.88,194.00 L397.88,194.81 L398.88,195.61 L399.89,196.42 L400.89,197.22 L401.89,198.02 L402.89,198.82 L403.90,199.61 L404.90,200.41 L405.90,201.20 L406.90,201.99 L407.91,202.78 L408.91,203.57 L409.91,204.36 L410.91,205.15 L411.91,205.93 L412.92,206.72 L413.92,207.50 L414.92,208.29 L415.92,209.07 L416.93,209.85 L417.93,210.64 L418.93,211.42 L419.93,212.20 L420.93,212.98 L421.94,213.77 L422.94,214.55 L423.94,215.34 L424.94,216.12 L425.95,216.91 L426.95,217.70 L427.95,218.49 L428.95,219.28 L429.95,220.07 L430.96,220.86 L431.96,221.66 L432.96,222.46 L433.96,223.26 L434.97,224.07 L435.97,224.87 L436.97,225.68 L437.97,226.49 L438.97,227.31 L439.98,228.13 L440.98,228.96 L441.98,229.78 L442.98,230.62 L443.99,231.46 L444.99,232.30 L445.99,233.15 L446.99,234.01 L448.00,234.87 L449.00,235.74 L450.00,236.61 L451.00,237.49 L452.00,238.37 L453.01,239.26 L454.01,240.16 L455.01,241.07 L456.01,241.98 L457.02,242.89 L458.02,243.82 L459.02,244.75 L460.02,245.69 L461.02,246.63 L462.03,247.59 L463.03,248.55 L464.03,249.52 L465.03,250.49 L466.04,251.48 L467.04,252.47 L468.04,253.47 L469.04,254.47 L470.04,255.49 L471.05,256.51 L472.05,257.54 L473.05,258.58 L474.05,259.63 L475.06,260.69 L476.06,261.75 L477.06,262.83 L478.06,263.91 L479.06,265.00 L480.07,266.10 L481.07,267.21 L482.07,268.33 L483.07,269.45 L484.08,270.59 L485.08,271.74 L486.08,272.90 L487.08,274.07 L488.09,275.24 L489.09,276.43 L490.09,277.63 L491.09,278.83 L492.09,280.04 L493.10,281.27 L494.10,282.50 L495.10,283.74 L496.10,284.99 L497.11,286.25 L498.11,287.52 L499.11,288.80 L500.11,290.08 L501.11,291.37 L502.12,292.68 L503.12,293.98 L504.12,295.30 L505.12,296.63 L506.13,297.96 L507.13,299.30 L508.13,300.65 L509.13,302.00 L510.13,303.36 L511.14,304.73 L512.14,306.11 L513.14,307.49 L514.14,308.87 L515.15,310.27 L516.15,311.67 L517.15,313.07 L518.15,314.48 L519.15,315.90 L520.16,317.32 L521.16,318.74 L522.16,320.17 L523.16,321.61 L524.17,323.04 L525.17,324.48 L526.17,325.93 L527.17,327.38 L528.18,328.83 L529.18,330.29 L530.18,331.76 L531.18,333.23 L532.18,334.70 L533.19,336.18 L534.19,337.66 L535.19,339.15 L536.19,340.65 L537.20,342.14 L538.20,343.65 L539.20,345.15 L540.20,346.66 L541.20,348.18 L542.21,349.70 L543.21,351.22 L544.21,352.75 L545.21,354.28 L546.22,355.82 L547.22,357.36 L548.22,358.91 L549.22,360.45 L550.22,362.01 L551.23,363.56 L552.23,365.12 L553.23,366.68 L554.23,368.25 L555.24,369.82 L556.24,371.39 L557.24,372.96 L558.24,374.54 L559.25,376.12 L560.25,377.71 L561.25,379.29 L562.25,380.88 L563.25,382.47 L564.26,384.07 L565.26,385.66 L566.26,387.26 L567.26,388.86 L568.27,390.46 L569.27,392.06 L570.27,393.66 L571.27,395.26 L572.27,396.87 L573.28,398.48 L574.28,400.08 L575.28,401.69 L576.28,403.30 L577.29,404.91 L578.29,406.51 L579.29,408.12 L580.29,409.73 L581.29,411.34 L582.30,412.96 L583.30,414.57 L584.30,416.19 L585.30,417.80 L586.31,419.42 L587.31,421.04 L588.31,422.65 L589.31,424.26 L590.31,425.86 L591.32,427.45 L592.32,429.04 L593.32,430.62 L594.32,432.19 L595.33,433.76 L596.33,435.32 L597.33,436.87 L598.33,438.42 L599.34,439.96 L600.34,441.50 L601.34,443.03 L602.34,444.56 L603.34,446.08 L604.35,447.60 L605.35,449.11 L606.35,450.62 L607.35,452.13 L608.36,453.63 L609.36,455.13 L610.36,456.63 L611.36,458.13 L612.36,459.62 L613.37,461.11 L614.37,462.60 L615.37,464.09 L616.37,465.57 L617.38,467.06 L618.38,468.54 L619.38,470.03 L620.38,471.51 L621.38,473.00 L622.39,474.48 L623.39,475.96 L624.39,477.43 L625.39,478.91 L626.40,480.37 L627.40,481.84 L628.40,483.30 L629.40,484.76 L630.40,486.21 L631.41,487.65 L632.41,489.09 L633.41,490.52 L634.41,491.94 L635.42,493.36 L636.42,494.77 L637.42,496.17 L638.42,497.56 L639.42,498.94 L640.43,500.32 L641.43,501.68 L642.43,503.03 L643.43,504.38 L644.44,505.71 L645.44,507.03 L646.44,508.33 L647.44,509.63 L648.45,510.91 L649.45,512.18 L650.45,513.44 L651.45,514.69 L652.45,515.94 L653.46,517.17 L654.46,518.40 L655.46,519.62 L656.46,520.83 L657.47,522.03 L658.47,523.22 L659.47,524.41 L660.47,525.58 L661.47,526.74 L662.48,527.89 L663.48,529.03 L664.48,530.16 L665.48,531.28 L666.49,532.39 L667.49,533.48 L668.49,534.56 L669.49,535.64 L670.49,536.69 L671.50,537.74 L672.50,538.77 L673.50,539.79 L674.50,540.80 L675.51,541.79 L676.51,542.77 L677.51,543.74 L678.51,544.69 L679.52,545.63 L680.52,546.55 L681.52,547.46 L682.52,548.37 L683.52,549.26 L684.53,550.14 L685.53,551.00 L686.53,551.86 L687.53,552.71 L688.54,553.54 L689.54,554.37 L690.54,555.19 L691.54,555.99 L692.54,556.79 L693.55,557.57 L694.55,558.34 L695.55,559.11 L696.55,559.86 L697.56,560.61 L698.56,561.34 L699.56,562.07 L700.56,562.79 L701.56,563.49 L702.57,564.19 L703.57,564.88 L704.57,565.56 L705.57,566.23 L706.58,566.89 L707.58,567.55 L708.58,568.19 L709.58,568.83 L710.58,569.45 L711.59,570.07 L712.59,570.69 L713.59,571.29 L714.59,571.89 L715.60,572.47 L716.60,573.05 L717.60,573.63 L718.60,574.19 L719.61,574.75 L720.61,575.30 L721.61,575.85 L722.61,576.38 L723.61,576.91 L724.62,577.44 L725.62,577.95 L726.62,578.46 L727.62,578.96 L728.63,579.46 L729.63,579.95 L730.63,580.43 L731.63,580.90 L732.63,581.37 L733.64,581.83 L734.64,582.28 L735.64,582.73 L736.64,583.17 L737.65,583.60 L738.65,584.03 L739.65,584.45 L740.65,584.87 L741.65,585.27 L742.66,585.67 L743.66,586.07 L744.66,586.46 L745.66,586.84 L746.67,587.21 L747.67,587.58 L748.67,587.95 L749.67,588.30 L750.67,588.65 L751.68,589.00 L752.68,589.34 L753.68,589.67 L754.68,590.00 L755.69,590.32 L756.69,590.64 L757.69,590.95 L758.69,591.25 L759.69,591.55 L760.70,591.85 L761.70,592.14 L762.70,592.42 L763.70,592.70 L764.71,592.98 L765.71,593.25 L766.71,593.51 L767.71,593.77 L768.72,594.03 L769.72,594.28 L770.72,594.53 L771.72,594.77 L772.72,595.01 L773.73,595.24 L774.73,595.47 L775.73,595.69 L776.73,595.92 L777.74,596.13 L778.74,596.34 L779.74,596.55 L780.74,596.76 L781.74,596.96 L782.75,597.16 L783.75,597.35 L784.75,597.54 L785.75,597.73 L786.76,597.91 L787.76,598.09 L788.76,598.27 L789.76,598.44 L790.76,598.61 L791.77,598.78 L792.77,598.94 L793.77,599.10 L794.77,599.26 L795.78,599.42 L796.78,599.57 L797.78,599.72 L798.78,599.86 L799.79,600.01 L800.79,600.15 L801.79,600.29 L802.79,600.42 L803.79,600.56 L804.80,600.69 L805.80,600.81 L806.80,600.94 L807.80,601.06 L808.81,601.18 L809.81,601.30 L810.81,601.42 L811.81,601.53 L812.81,601.64 L813.82,601.75 L814.82,601.86 L815.82,601.97 L816.82,602.07 L817.83,602.17 L818.83,602.27 L819.83,602.36 L820.83,602.46 L821.83,602.55 L822.84,602.65 L823.84,602.74 L824.84,602.82 L825.84,602.91 L826.85,603.00 L827.85,603.08 L828.85,603.16 L829.85,603.24 L830.85,603.32 L831.86,603.40 L832.86,603.47 L833.86,603.55 L834.86,603.62 L835.87,603.69 L836.87,603.76 L837.87,603.83 L838.87,603.89 L839.88,603.96 L840.88,604.02 L841.88,604.08 L842.88,604.14 L843.88,604.20 L844.89,604.26 L845.89,604.31 L846.89,604.37 L847.89,604.42 L848.90,604.47 L849.90,604.52 L850.90,604.57 L851.90,604.62 L852.90,604.67 L853.91,604.71 L854.91,604.76 L855.91,604.80 L856.91,604.84 L857.92,604.89 L858.92,604.93 L859.92,604.97 L860.92,605.00 L861.92,605.04 L862.93,605.08 L863.93,605.12 L864.93,605.15 L865.93,605.19 L866.94,605.22 L867.94,605.25 L868.94,605.29 L869.94,605.32 L870.94,605.35 L871.95,605.38 L872.95,605.41 L873.95,605.44 L874.95,605.47 L875.96,605.50 L876.96,605.53 L877.96,605.55 L878.96,605.58 L879.96,605.61 L880.97,605.63 L881.97,605.66 L882.97,605.69 L883.97,605.71 L884.98,605.74 L885.98,605.76 L886.98,605.78 L887.98,605.81 L888.99,605.83 L889.99,605.85 L890.99,605.88 L891.99,605.90 L892.99,605.92 L894.00,605.94 L895.00,605.96 L896.00,605.99 L897.00,606.01 L898.01,606.03 L899.01,606.05 L900.01,606.06 L901.01,606.08 L902.01,606.10 L903.02,606.12 L904.02,606.14 L905.02,606.15 L906.02,606.17 L907.03,606.19 L908.03,606.20 L909.03,606.22 L910.03,606.23 L911.03,606.25 L912.04,606.26 L913.04,606.28 L914.04,606.29 L915.04,606.30 L916.05,606.31 L917.05,606.33 L918.05,606.34 L919.05,606.35 L920.05,606.36 L921.06,606.37 L922.06,606.38 L923.06,606.39 L924.06,606.39 L925.07,606.40 L926.07,606.41 L927.07,606.42 L928.07,606.43 L929.08,606.44 L930.08,606.44 L931.08,606.45 L932.08,606.46 L933.08,606.47 L934.09,606.47 L935.09,606.48 L936.09,606.49 L937.09,606.49 L938.10,606.50 L939.10,606.50 L940.10,606.51 L941.10,606.52 L942.10,606.52 L943.11,606.53 L944.11,606.53 L945.11,606.54 L946.11,606.54 L947.12,606.55 L948.12,606.55 L949.12,606.56 L950.12,606.56 L951.12,606.57 L952.13,606.57 L953.13,606.57 L954.13,606.58 L955.13,606.58 L956.14,606.58 L957.14,606.59 L958.14,606.59 L959.14,606.59 L960.14,606.60 L961.15,606.60 L962.15,606.60 L963.15,606.61 L964.15,606.61 L965.16,606.61 L966.16,606.61 L967.16,606.62 L968.16,606.62 L969.17,606.62 L970.17,606.62 L971.17,606.63 L972.17,606.63 L973.17,606.63 L974.18,606.63 L975.18,606.63 L976.18,606.64 L977.18,606.64 L978.19,606.64 L979.19,606.64 L980.19,606.64 L981.19,606.65 L982.19,606.65 L983.20,606.65 L984.20,606.65 L985.20,606.65 L986.20,606.66 L987.21,606.66 L988.21,606.66 L989.21,606.66 L990.21,606.66 L991.21,606.66 L992.22,606.67 L993.22,606.67 L994.22,606.67 L995.22,606.67 L996.23,606.67 L997.23,606.67 L998.23,606.67 L999.23,606.67 L1000.23,606.68 L1001.24,606.68 L1002.24,606.68 L1003.24,606.68 L1004.24,606.68 L1005.25,606.68 L1006.25,606.68 L1007.25,606.68 L1008.25,606.68 L1009.26,606.69 L1010.26,606.69 L1011.26,606.69 L1012.26,606.69 L1013.26,606.69 L1014.27,606.69 L1015.27,606.69 L1016.27,606.69 L1017.27,606.69 L1018.28,606.69 L1019.28,606.69 L1020.28,606.69 L1021.28,606.69 L1022.28,606.69 L1023.29,606.69 L1024.29,606.69" stroke="#ff0000" stroke-width="6.25" stroke-dasharray="24 5.6"/>
<path d="M138.30,98.81 L139.30,98.83 L140.30,98.85 L141.31,98.87 L142.31,98.89 L143.31,98.92 L144.31,98.94 L145.32,98.97 L146.32,99.00 L147.32,99.03 L148.32,99.05 L149.32,99.08 L150.33,99.10 L151.33,99.12 L152.33,99.14 L153.33,99.16 L154.34,99.17 L155.34,99.18 L156.34,99.19 L157.34,99.19 L158.35,99.19 L159.35,99.19 L160.35,99.18 L161.35,99.17 L162.35,99.16 L163.36,99.14 L164.36,99.12 L165.36,99.10 L166.36,99.07 L167.37,99.04 L168.37,99.00 L169.37,98.96 L170.37,98.91 L171.37,98.86 L172.38,98.81 L173.38,98.75 L174.38,98.68 L175.38,98.61 L176.39,98.54 L177.39,98.45 L178.39,98.37 L179.39,98.28 L180.39,98.19 L181.40,98.09 L182.40,97.99 L183.40,97.89 L184.40,97.78 L185.41,97.67 L186.41,97.56 L187.41,97.44 L188.41,97.32 L189.41,97.19 L190.42,97.06 L191.42,96.93 L192.42,96.79 L193.42,96.64 L194.43,96.50 L195.43,96.34 L196.43,96.18 L197.43,96.02 L198.44,95.85 L199.44,95.68 L200.44,95.50 L201.44,95.32 L202.44,95.13 L203.45,94.95 L204.45,94.75 L205.45,94.56 L206.45,94.36 L207.46,94.16 L208.46,93.96 L209.46,93.75 L210.46,93.54 L211.46,93.33 L212.47,93.12 L213.47,92.91 L214.47,92.69 L215.47,92.48 L216.48,92.27 L217.48,92.06 L218.48,91.85 L219.48,91.64 L220.48,91.43 L221.49,91.23 L222.49,91.03 L223.49,90.84 L224.49,90.65 L225.50,90.46 L226.50,90.27 L227.50,90.09 L228.50,89.91 L229.50,89.74 L230.51,89.57 L231.51,89.40 L232.51,89.24 L233.51,89.07 L234.52,88.91 L235.52,88.76 L236.52,88.60 L237.52,88.45 L238.53,88.30 L239.53,88.16 L240.53,88.02 L241.53,87.89 L242.53,87.77 L243.54,87.66 L244.54,87.55 L245.54,87.46 L246.54,87.37 L247.55,87.29 L248.55,87.22 L249.55,87.16 L250.55,87.11 L251.55,87.07 L252.56,87.04 L253.56,87.02 L254.56,87.01 L255.56,87.01 L256.57,87.03 L257.57,87.05 L258.57,87.09 L259.57,87.14 L260.57,87.20 L261.58,87.28 L262.58,87.38 L263.58,87.49 L264.58,87.63 L265.59,87.77 L266.59,87.94 L267.59,88.13 L268.59,88.33 L269.59,88.55 L270.60,88.79 L271.60,89.05 L272.60,89.33 L273.60,89.63 L274.61,89.94 L275.61,90.28 L276.61,90.63 L277.61,91.01 L278.62,91.40 L279.62,91.82 L280.62,92.25 L281.62,92.70 L282.62,93.17 L283.63,93.66 L284.63,94.17 L285.63,94.70 L286.63,95.25 L287.64,95.82 L288.64,96.40 L289.64,97.01 L290.64,97.64 L291.64,98.28 L292.65,98.94 L293.65,99.62 L294.65,100.32 L295.65,101.04 L296.66,101.78 L297.66,102.53 L298.66,103.30 L299.66,104.09 L300.66,104.90 L301.67,105.72 L302.67,106.57 L303.67,107.42 L304.67,108.30 L305.68,109.19 L306.68,110.09 L307.68,111.02 L308.68,111.95 L309.68,112.91 L310.69,113.88 L311.69,114.86 L312.69,115.86 L313.69,116.87 L314.70,117.90 L315.70,118.94 L316.70,119.99 L317.70,121.05 L318.71,122.13 L319.71,123.21 L320.71,124.31 L321.71,125.42 L322.71,126.54 L323.72,127.67 L324.72,128.81 L325.72,129.96 L326.72,131.11 L327.73,132.28 L328.73,133.45 L329.73,134.63 L330.73,135.81 L331.73,137.00 L332.74,138.20 L333.74,139.40 L334.74,140.60 L335.74,141.80 L336.75,143.01 L337.75,144.22 L338.75,145.44 L339.75,146.65 L340.75,147.86 L341.76,149.07 L342.76,150.28 L343.76,151.49 L344.76,152.69 L345.77,153.89 L346.77,155.09 L347.77,156.28 L348.77,157.47 L349.77,158.66 L350.78,159.84 L351.78,161.02 L352.78,162.19 L353.78,163.36 L354.79,164.52 L355.79,165.68 L356.79,166.83 L357.79,167.98 L358.80,169.12 L359.80,170.25 L360.80,171.38 L361.80,172.51 L362.80,173.62 L363.81,174.73 L364.81,175.84 L365.81,176.93 L366.81,178.03 L367.82,179.11 L368.82,180.19 L369.82,181.26 L370.82,182.32 L371.82,183.38 L372.83,184.43 L373.83,185.47 L374.83,186.51 L375.83,187.54 L376.84,188.56 L377.84,189.57 L378.84,190.58 L379.84,191.58 L380.84,192.57 L381.85,193.56 L382.85,194.54 L383.85,195.51 L384.85,196.47 L385.86,197.42 L386.86,198.37 L387.86,199.30 L388.86,200.23 L389.86,201.16 L390.87,202.07 L391.87,202.98 L392.87,203.88 L393.87,204.77 L394.88,205.66 L395.88,206.54 L396.88,207.41 L397.88,208.27 L398.88,209.13 L399.89,209.98 L400.89,210.83 L401.89,211.66 L402.89,212.50 L403.90,213.32 L404.90,214.14 L405.90,214.96 L406.90,215.77 L407.91,216.57 L408.91,217.37 L409.91,218.16 L410.91,218.95 L411.91,219.73 L412.92,220.51 L413.92,221.29 L414.92,222.06 L415.92,222.83 L416.93,223.60 L417.93,224.36 L418.93,225.12 L419.93,225.87 L420.93,226.63 L421.94,227.38 L422.94,228.13 L423.94,228.88 L424.94,229.62 L425.95,230.37 L426.95,231.12 L427.95,231.86 L428.95,232.60 L429.95,233.35 L430.96,234.09 L431.96,234.84 L432.96,235.58 L433.96,236.33 L434.97,237.08 L435.97,237.83 L436.97,238.58 L437.97,239.33 L438.97,240.09 L439.98,240.85 L440.98,241.61 L441.98,242.38 L442.98,243.15 L443.99,243.92 L444.99,244.70 L445.99,245.49 L446.99,246.28 L448.00,247.07 L449.00,247.87 L450.00,248.67 L451.00,249.48 L452.00,250.30 L453.01,251.12 L454.01,251.95 L455.01,252.78 L456.01,253.62 L457.02,254.47 L458.02,255.32 L459.02,256.18 L460.02,257.05 L461.02,257.92 L462.03,258.80 L463.03,259.69 L464.03,260.58 L465.03,261.49 L466.04,262.40 L467.04,263.31 L468.04,264.24 L469.04,265.17 L470.04,266.11 L471.05,267.06 L472.05,268.01 L473.05,268.98 L474.05,269.95 L475.06,270.93 L476.06,271.92 L477.06,272.92 L478.06,273.93 L479.06,274.94 L480.07,275.96 L481.07,277.00 L482.07,278.04 L483.07,279.10 L484.08,280.16 L485.08,281.23 L486.08,282.32 L487.08,283.41 L488.09,284.51 L489.09,285.62 L490.09,286.75 L491.09,287.88 L492.09,289.02 L493.10,290.17 L494.10,291.33 L495.10,292.50 L496.10,293.68 L497.11,294.87 L498.11,296.07 L499.11,297.27 L500.11,298.49 L501.11,299.71 L502.12,300.94 L503.12,302.19 L504.12,303.44 L505.12,304.69 L506.13,305.96 L507.13,307.23 L508.13,308.52 L509.13,309.81 L510.13,311.10 L511.14,312.41 L512.14,313.72 L513.14,315.04 L514.14,316.37 L515.15,317.70 L516.15,319.04 L517.15,320.39 L518.15,321.74 L519.15,323.10 L520.16,324.47 L521.16,325.84 L522.16,327.22 L523.16,328.60 L524.17,329.99 L525.17,331.39 L526.17,332.79 L527.17,334.20 L528.18,335.62 L529.18,337.05 L530.18,338.48 L531.18,339.92 L532.18,341.36 L533.19,342.81 L534.19,344.27 L535.19,345.73 L536.19,347.20 L537.20,348.68 L538.20,350.16 L539.20,351.64 L540.20,353.13 L541.20,354.62 L542.21,356.12 L543.21,357.62 L544.21,359.13 L545.21,360.63 L546.22,362.15 L547.22,363.66 L548.22,365.18 L549.22,366.70 L550.22,368.22 L551.23,369.74 L552.23,371.27 L553.23,372.80 L554.23,374.33 L555.24,375.86 L556.24,377.39 L557.24,378.93 L558.24,380.46 L559.25,382.00 L560.25,383.54 L561.25,385.08 L562.25,386.62 L563.25,388.17 L564.26,389.71 L565.26,391.26 L566.26,392.81 L567.26,394.36 L568.27,395.92 L569.27,397.47 L570.27,399.03 L571.27,400.59 L572.27,402.16 L573.28,403.73 L574.28,405.30 L575.28,406.87 L576.28,408.45 L577.29,410.03 L578.29,411.62 L579.29,413.21 L580.29,414.81 L581.29,416.40 L582.30,418.00 L583.30,419.60 L584.30,421.19 L585.30,422.79 L586.31,424.38 L587.31,425.98 L588.31,427.57 L589.31,429.16 L590.31,430.75 L591.32,432.34 L592.32,433.93 L593.32,435.51 L594.32,437.09 L595.33,438.67 L596.33,440.25 L597.33,441.83 L598.33,443.40 L599.34,444.97 L600.34,446.54 L601.34,448.11 L602.34,449.67 L603.34,451.23 L604.35,452.79 L605.35,454.34 L606.35,455.89 L607.35,457.44 L608.36,458.98 L609.36,460.52 L610.36,462.06 L611.36,463.60 L612.36,465.13 L613.37,466.66 L614.37,468.18 L615.37,469.71 L616.37,471.23 L617.38,472.74 L618.38,474.25 L619.38,475.75 L620.38,477.24 L621.38,478.73 L622.39,480.21 L623.39,481.69 L624.39,483.15 L625.39,484.62 L626.40,486.07 L627.40,487.52 L628.40,488.96 L629.40,490.39 L630.40,491.81 L631.41,493.23 L632.41,494.64 L633.41,496.04 L634.41,497.42 L635.42,498.80 L636.42,500.18 L637.42,501.54 L638.42,502.89 L639.42,504.23 L640.43,505.56 L641.43,506.88 L642.43,508.19 L643.43,509.49 L644.44,510.78 L645.44,512.06 L646.44,513.32 L647.44,514.58 L648.45,515.82 L649.45,517.05 L650.45,518.27 L651.45,519.48 L652.45,520.67 L653.46,521.85 L654.46,523.02 L655.46,524.18 L656.46,525.32 L657.47,526.45 L658.47,527.57 L659.47,528.67 L660.47,529.76 L661.47,530.84 L662.48,531.91 L663.48,532.97 L664.48,534.02 L665.48,535.06 L666.49,536.09 L667.49,537.11 L668.49,538.12 L669.49,539.11 L670.49,540.10 L671.50,541.08 L672.50,542.04 L673.50,543.00 L674.50,543.95 L675.51,544.88 L676.51,545.81 L677.51,546.73 L678.51,547.63 L679.52,548.53 L680.52,549.41 L681.52,550.29 L682.52,551.15 L683.52,552.01 L684.53,552.85 L685.53,553.69 L686.53,554.51 L687.53,555.33 L688.54,556.14 L689.54,556.93 L690.54,557.72 L691.54,558.50 L692.54,559.27 L693.55,560.02 L694.55,560.77 L695.55,561.51 L696.55,562.24 L697.56,562.96 L698.56,563.68 L699.56,564.38 L700.56,565.07 L701.56,565.76 L702.57,566.43 L703.57,567.10 L704.57,567.75 L705.57,568.40 L706.58,569.04 L707.58,569.67 L708.58,570.30 L709.58,570.91 L710.58,571.52 L711.59,572.11 L712.59,572.70 L713.59,573.28 L714.59,573.86 L715.60,574.42 L716.60,574.98 L717.60,575.52 L718.60,576.06 L719.61,576.60 L720.61,577.12 L721.61,577.64 L722.61,578.15 L723.61,578.66 L724.62,579.16 L725.62,579.65 L726.62,580.13 L727.62,580.61 L728.63,581.08 L729.63,581.55 L730.63,582.00 L731.63,582.46 L732.63,582.90 L733.64,583.34 L734.64,583.77 L735.64,584.20 L736.64,584.62 L737.65,585.03 L738.65,585.44 L739.65,585.84 L740.65,586.23 L741.65,586.62 L742.66,587.00 L743.66,587.38 L744.66,587.75 L745.66,588.11 L746.67,588.47 L747.67,588.82 L748.67,589.16 L749.67,589.50 L750.67,589.84 L751.68,590.17 L752.68,590.49 L753.68,590.81 L754.68,591.12 L755.69,591.43 L756.69,591.73 L757.69,592.02 L758.69,592.31 L759.69,592.60 L760.70,592.88 L761.70,593.15 L762.70,593.42 L763.70,593.69 L764.71,593.95 L765.71,594.21 L766.71,594.46 L767.71,594.71 L768.72,594.95 L769.72,595.19 L770.72,595.42 L771.72,595.65 L772.72,595.88 L773.73,596.10 L774.73,596.32 L775.73,596.53 L776.73,596.74 L777.74,596.94 L778.74,597.15 L779.74,597.34 L780.74,597.54 L781.74,597.73 L782.75,597.92 L783.75,598.10 L784.75,598.28 L785.75,598.46 L786.76,598.63 L787.76,598.80 L788.76,598.97 L789.76,599.14 L790.76,599.30 L791.77,599.46 L792.77,599.62 L793.77,599.77 L794.77,599.92 L795.78,600.07 L796.78,600.22 L797.78,600.36 L798.78,600.50 L799.79,600.64 L800.79,600.77 L801.79,600.90 L802.79,601.03 L803.79,601.16 L804.80,601.29 L805.80,601.41 L806.80,601.53 L807.80,601.65 L808.81,601.76 L809.81,601.87 L810.81,601.98 L811.81,602.09 L812.81,602.20 L813.82,602.30 L814.82,602.40 L815.82,602.50 L816.82,602.60 L817.83,602.70 L818.83,602.79 L819.83,602.88 L820.83,602.97 L821.83,603.05 L822.84,603.14 L823.84,603.22 L824.84,603.30 L825.84,603.38 L826.85,603.46 L827.85,603.54 L828.85,603.61 L829.85,603.68 L830.85,603.75 L831.86,603.82 L832.86,603.89 L833.86,603.96 L834.86,604.02 L835.87,604.09 L836.87,604.15 L837.87,604.21 L838.87,604.27 L839.88,604.32 L840.88,604.38 L841.88,604.44 L842.88,604.49 L843.88,604.54 L844.89,604.59 L845.89,604.64 L846.89,604.69 L847.89,604.74 L848.90,604.78 L849.90,604.83 L850.90,604.87 L851.90,604.92 L852.90,604.96 L853.91,605.00 L854.91,605.04 L855.91,605.08 L856.91,605.11 L857.92,605.15 L858.92,605.19 L859.92,605.22 L860.92,605.25 L861.92,605.29 L862.93,605.32 L863.93,605.35 L864.93,605.38 L865.93,605.41 L866.94,605.44 L867.94,605.47 L868.94,605.50 L869.94,605.52 L870.94,605.55 L871.95,605.58 L872.95,605.60 L873.95,605.63 L874.95,605.65 L875.96,605.67 L876.96,605.70 L877.96,605.72 L878.96,605.74 L879.96,605.76 L880.97,605.78 L881.97,605.80 L882.97,605.82 L883.97,605.84 L884.98,605.86 L885.98,605.88 L886.98,605.90 L887.98,605.92 L888.99,605.93 L889.99,605.95 L890.99,605.97 L891.99,605.98 L892.99,606.00 L894.00,606.01 L895.00,606.03 L896.00,606.04 L897.00,606.06 L898.01,606.07 L899.01,606.08 L900.01,606.10 L901.01,606.11 L902.01,606.12 L903.02,606.13 L904.02,606.15 L905.02,606.16 L906.02,606.17 L907.03,606.18 L908.03,606.19 L909.03,606.20 L910.03,606.21 L911.03,606.22 L912.04,606.23 L913.04,606.24 L914.04,606.25 L915.04,606.26 L916.05,606.27 L917.05,606.28 L918.05,606.29 L919.05,606.30 L920.05,606.30 L921.06,606.31 L922.06,606.32 L923.06,606.33 L924.06,606.34 L925.07,606.34 L926.07,606.35 L927.07,606.36 L928.07,606.37 L929.08,606.37 L930.08,606.38 L931.08,606.39 L932.08,606.39 L933.08,606.40 L934.09,606.41 L935.09,606.41 L936.09,606.42 L937.09,606.42 L938.10,606.43 L939.10,606.43 L940.10,606.44 L941.10,606.45 L942.10,606.45 L943.11,606.46 L944.11,606.46 L945.11,606.47 L946.11,606.47 L947.12,606.48 L948.12,606.48 L949.12,606.49 L950.12,606.49 L951.12,606.50 L952.13,606.50 L953.13,606.50 L954.13,606.51 L955.13,606.51 L956.14,606.52 L957.14,606.52 L958.14,606.53 L959.14,606.53 L960.14,606.53 L961.15,606.54 L962.15,606.54 L963.15,606.54 L964.15,606.55 L965.16,606.55" stroke="#0000ff" stroke-width="6.25"/>
<path d="M138.30,133.40 L139.30,133.39 L140.30,133.36 L141.31,133.31 L142.31,133.24 L143.31,133.14 L144.31,133.02 L145.32,132.88 L146.32,132.72 L147.32,132.53 L148.32,132.33 L149.32,132.10 L150.33,131.84 L151.33,131.57 L152.33,131.28 L153.33,130.96 L154.34,130.62 L155.34,130.26 L156.34,129.88 L157.34,129.48 L158.35,129.06 L159.35,128.62 L160.35,128.16 L161.35,127.68 L162.35,127.19 L163.36,126.68 L164.36,126.15 L165.36,125.60 L166.36,125.04 L167.37,124.46 L168.37,123.86 L169.37,123.25 L170.37,122.63 L171.37,121.99 L172.38,121.33 L173.38,120.66 L174.38,119.98 L175.38,119.28 L176.39,118.58 L177.39,117.86 L178.39,117.12 L179.39,116.38 L180.39,115.63 L181.40,114.87 L182.40,114.11 L183.40,113.33 L184.40,112.55 L185.41,111.77 L186.41,110.97 L187.41,110.17 L188.41,109.37 L189.41,108.56 L190.42,107.74 L191.42,106.92 L192.42,106.10 L193.42,105.27 L194.43,104.44 L195.43,103.61 L196.43,102.77 L197.43,101.93 L198.44,101.09 L199.44,100.25 L200.44,99.41 L201.44,98.57 L202.44,97.73 L203.45,96.90 L204.45,96.06 L205.45,95.24 L206.45,94.41 L207.46,93.59 L208.46,92.78 L209.46,91.97 L210.46,91.17 L211.46,90.38 L212.47,89.60 L213.47,88.82 L214.47,88.06 L215.47,87.30 L216.48,86.56 L217.48,85.83 L218.48,85.11 L219.48,84.40 L220.48,83.71 L221.49,83.03 L222.49,82.37 L223.49,81.73 L224.49,81.10 L225.50,80.48 L226.50,79.88 L227.50,79.30 L228.50,78.74 L229.50,78.19 L230.51,77.65 L231.51,77.14 L232.51,76.63 L233.51,76.15 L234.52,75.68 L235.52,75.23 L236.52,74.80 L237.52,74.38 L238.53,73.98 L239.53,73.60 L240.53,73.25 L241.53,72.91 L242.53,72.59 L243.54,72.30 L244.54,72.03 L245.54,71.78 L246.54,71.55 L247.55,71.34 L248.55,71.15 L249.55,70.99 L250.55,70.84 L251.55,70.72 L252.56,70.62 L253.56,70.54 L254.56,70.48 L255.56,70.44 L256.57,70.42 L257.57,70.42 L258.57,70.45 L259.57,70.49 L260.57,70.56 L261.58,70.65 L262.58,70.77 L263.58,70.91 L264.58,71.08 L265.59,71.27 L266.59,71.48 L267.59,71.72 L268.59,71.98 L269.59,72.27 L270.60,72.58 L271.60,72.91 L272.60,73.27 L273.60,73.66 L274.61,74.06 L275.61,74.49 L276.61,74.94 L277.61,75.42 L278.62,75.92 L279.62,76.44 L280.62,76.98 L281.62,77.55 L282.62,78.14 L283.63,78.75 L284.63,79.38 L285.63,80.03 L286.63,80.70 L287.64,81.40 L288.64,82.11 L289.64,82.85 L290.64,83.60 L291.64,84.38 L292.65,85.17 L293.65,85.98 L294.65,86.81 L295.65,87.66 L296.66,88.53 L297.66,89.41 L298.66,90.31 L299.66,91.23 L300.66,92.17 L301.67,93.11 L302.67,94.08 L303.67,95.06 L304.67,96.05 L305.68,97.06 L306.68,98.08 L307.68,99.11 L308.68,100.16 L309.68,101.22 L310.69,102.29 L311.69,103.38 L312.69,104.47 L313.69,105.58 L314.70,106.69 L315.70,107.82 L316.70,108.96 L317.70,110.10 L318.71,111.26 L319.71,112.42 L320.71,113.59 L321.71,114.77 L322.71,115.96 L323.72,117.15 L324.72,118.35 L325.72,119.56 L326.72,120.77 L327.73,121.99 L328.73,123.21 L329.73,124.44 L330.73,125.67 L331.73,126.91 L332.74,128.15 L333.74,129.39 L334.74,130.63 L335.74,131.88 L336.75,133.13 L337.75,134.38 L338.75,135.63 L339.75,136.88 L340.75,138.14 L341.76,139.39 L342.76,140.64 L343.76,141.88 L344.76,143.13 L345.77,144.37 L346.77,145.61 L347.77,146.85 L348.77,148.09 L349.77,149.32 L350.78,150.55 L351.78,151.78 L352.78,153.00 L353.78,154.22 L354.79,155.43 L355.79,156.64 L356.79,157.85 L357.79,159.05 L358.80,160.24 L359.80,161.43 L360.80,162.62 L361.80,163.80 L362.80,164.97 L363.81,166.14 L364.81,167.30 L365.81,168.46 L366.81,169.61 L367.82,170.75 L368.82,171.89 L369.82,173.02 L370.82,174.14 L371.82,175.26 L372.83,176.37 L373.83,177.47 L374.83,178.57 L375.83,179.66 L376.84,180.75 L377.84,181.82 L378.84,182.89 L379.84,183.96 L380.84,185.01 L381.85,186.06 L382.85,187.10 L383.85,188.13 L384.85,189.15 L385.86,190.17 L386.86,191.18 L387.86,192.18 L388.86,193.17 L389.86,194.15 L390.87,195.13 L391.87,196.10 L392.87,197.06 L393.87,198.01 L394.88,198.96 L395.88,199.90 L396.88,200.83 L397.88,201.75 L398.88,202.67 L399.89,203.57 L400.89,204.48 L401.89,205.37 L402.89,206.26 L403.90,207.14 L404.90,208.02 L405.90,208.89 L406.90,209.75 L407.91,210.61 L408.91,211.46 L409.91,212.30 L410.91,213.14 L411.91,213.98 L412.92,214.80 L413.92,215.63 L414.92,216.45 L415.92,217.26 L416.93,218.07 L417.93,218.88 L418.93,219.68 L419.93,220.48 L420.93,221.28 L421.94,222.07 L422.94,222.86 L423.94,223.64 L424.94,224.42 L425.95,225.21 L426.95,225.98 L427.95,226.76 L428.95,227.54 L429.95,228.31 L430.96,229.08 L431.96,229.85 L432.96,230.63 L433.96,231.40 L434.97,232.17 L435.97,232.94 L436.97,233.71 L437.97,234.48 L438.97,235.25 L439.98,236.03 L440.98,236.80 L441.98,237.58 L442.98,238.36 L443.99,239.15 L444.99,239.93 L445.99,240.72 L446.99,241.52 L448.00,242.31 L449.00,243.12 L450.00,243.92 L451.00,244.73 L452.00,245.55 L453.01,246.37 L454.01,247.19 L455.01,248.02 L456.01,248.86 L457.02,249.70 L458.02,250.54 L459.02,251.39 L460.02,252.25 L461.02,253.12 L462.03,253.99 L463.03,254.87 L464.03,255.75 L465.03,256.64 L466.04,257.54 L467.04,258.44 L468.04,259.36 L469.04,260.28 L470.04,261.21 L471.05,262.14 L472.05,263.09 L473.05,264.04 L474.05,265.00 L475.06,265.97 L476.06,266.94 L477.06,267.93 L478.06,268.92 L479.06,269.92 L480.07,270.94 L481.07,271.96 L482.07,272.99 L483.07,274.03 L484.08,275.09 L485.08,276.15 L486.08,277.23 L487.08,278.31 L488.09,279.41 L489.09,280.51 L490.09,281.63 L491.09,282.75 L492.09,283.89 L493.10,285.04 L494.10,286.19 L495.10,287.36 L496.10,288.54 L497.11,289.73 L498.11,290.93 L499.11,292.14 L500.11,293.36 L501.11,294.59 L502.12,295.82 L503.12,297.07 L504.12,298.33 L505.12,299.60 L506.13,300.88 L507.13,302.17 L508.13,303.47 L509.13,304.77 L510.13,306.09 L511.14,307.41 L512.14,308.75 L513.14,310.09 L514.14,311.45 L515.15,312.81 L516.15,314.18 L517.15,315.56 L518.15,316.95 L519.15,318.34 L520.16,319.75 L521.16,321.16 L522.16,322.58 L523.16,324.01 L524.17,325.44 L525.17,326.88 L526.17,328.34 L527.17,329.80 L528.18,331.26 L529.18,332.74 L530.18,334.23 L531.18,335.72 L532.18,337.22 L533.19,338.73 L534.19,340.25 L535.19,341.78 L536.19,343.31 L537.20,344.85 L538.20,346.40 L539.20,347.95 L540.20,349.51 L541.20,351.08 L542.21,352.66 L543.21,354.24 L544.21,355.83 L545.21,357.42 L546.22,359.02 L547.22,360.62 L548.22,362.23 L549.22,363.85 L550.22,365.47 L551.23,367.09 L552.23,368.72 L553.23,370.36 L554.23,371.99 L555.24,373.64 L556.24,375.28 L557.24,376.93 L558.24,378.58 L559.25,380.24 L560.25,381.90 L561.25,383.56 L562.25,385.22 L563.25,386.89 L564.26,388.56 L565.26,390.23 L566.26,391.90 L567.26,393.58 L568.27,395.25 L569.27,396.93 L570.27,398.60 L571.27,400.28 L572.27,401.96 L573.28,403.64 L574.28,405.32 L575.28,407.00 L576.28,408.67 L577.29,410.35 L578.29,412.03 L579.29,413.70 L580.29,415.38 L581.29,417.05 L582.30,418.73 L583.30,420.41 L584.30,422.09 L585.30,423.76 L586.31,425.44 L587.31,427.12 L588.31,428.79 L589.31,430.46 L590.31,432.13 L591.32,433.80 L592.32,435.47 L593.32,437.13 L594.32,438.79 L595.33,440.44 L596.33,442.09 L597.33,443.74 L598.33,445.38 L599.34,447.02 L600.34,448.65 L601.34,450.28 L602.34,451.90 L603.34,453.51 L604.35,455.12 L605.35,456.72 L606.35,458.32 L607.35,459.91 L608.36,461.49 L609.36,463.06 L610.36,464.63 L611.36,466.19 L612.36,467.74 L613.37,469.28 L614.37,470.82 L615.37,472.34 L616.37,473.86 L617.38,475.37 L618.38,476.87 L619.38,478.36 L620.38,479.84 L621.38,481.31 L622.39,482.77 L623.39,484.23 L624.39,485.68 L625.39,487.11 L626.40,488.54 L627.40,489.96 L628.40,491.37 L629.40,492.77 L630.40,494.17 L631.41,495.55 L632.41,496.92 L633.41,498.29 L634.41,499.64 L635.42,500.98 L636.42,502.32 L637.42,503.64 L638.42,504.96 L639.42,506.27 L640.43,507.56 L641.43,508.85 L642.43,510.12 L643.43,511.39 L644.44,512.64 L645.44,513.89 L646.44,515.13 L647.44,516.35 L648.45,517.57 L649.45,518.77 L650.45,519.97 L651.45,521.15 L652.45,522.32 L653.46,523.49 L654.46,524.64 L655.46,525.78 L656.46,526.92 L657.47,528.04 L658.47,529.15 L659.47,530.25 L660.47,531.34 L661.47,532.42 L662.48,533.49 L663.48,534.55 L664.48,535.60 L665.48,536.64 L666.49,537.67 L667.49,538.69 L668.49,539.70 L669.49,540.70 L670.49,541.68 L671.50,542.66 L672.50,543.63 L673.50,544.58 L674.50,545.53 L675.51,546.46 L676.51,547.39 L677.51,548.31 L678.51,549.21 L679.52,550.11 L680.52,550.99 L681.52,551.87 L682.52,552.73 L683.52,553.59 L684.53,554.43 L685.53,555.27 L686.53,556.10 L687.53,556.91 L688.54,557.72 L689.54,558.51 L690.54,559.30 L691.54,560.08 L692.54,560.85 L693.55,561.61 L694.55,562.35 L695.55,563.09 L696.55,563.82 L697.56,564.54 L698.56,565.26 L699.56,565.96 L700.56,566.65 L701.56,567.34 L702.57,568.01 L703.57,568.68 L704.57,569.34 L705.57,569.98 L706.58,570.62 L707.58,571.26 L708.58,571.88 L709.58,572.49 L710.58,573.10 L711.59,573.70 L712.59,574.28 L713.59,574.86 L714.59,575.44 L715.60,576.00 L716.60,576.56 L717.60,577.11 L718.60,577.65 L719.61,578.18 L720.61,578.70 L721.61,579.22 L722.61,579.73 L723.61,580.23 L724.62,580.73 L725.62,581.22 L726.62,581.70 L727.62,582.17 L728.63,582.64 L729.63,583.10 L730.63,583.56 L731.63,584.00 L732.63,584.44 L733.64,584.87 L734.64,585.30 L735.64,585.72 L736.64,586.13 L737.65,586.53 L738.65,586.93 L739.65,587.32 L740.65,587.71 L741.65,588.09 L742.66,588.46 L743.66,588.83 L744.66,589.19 L745.66,589.54 L746.67,589.89 L747.67,590.23 L748.67,590.57 L749.67,590.89 L750.67,591.22 L751.68,591.54 L752.68,591.85 L753.68,592.15 L754.68,592.45 L755.69,592.75 L756.69,593.04 L757.69,593.32 L758.69,593.60 L759.69,593.87 L760.70,594.14 L761.70,594.41 L762.70,594.66 L763.70,594.92 L764.71,595.17 L765.71,595.41 L766.71,595.65 L767.71,595.89 L768.72,596.12 L769.72,596.35 L770.72,596.57 L771.72,596.79 L772.72,597.00 L773.73,597.21 L774.73,597.42 L775.73,597.62 L776.73,597.82 L777.74,598.02 L778.74,598.21 L779.74,598.40 L780.74,598.58 L781.74,598.76 L782.75,598.94 L783.75,599.11 L784.75,599.28 L785.75,599.45 L786.76,599.61 L787.76,599.77 L788.76,599.93 L789.76,600.08 L790.76,600.24 L791.77,600.38 L792.77,600.53 L793.77,600.67 L794.77,600.81 L795.78,600.95 L796.78,601.08 L797.78,601.21 L798.78,601.34 L799.79,601.46 L800.79,601.59 L801.79,601.71 L802.79,601.82 L803.79,601.94 L804.80,602.05 L805.80,602.16 L806.80,602.27 L807.80,602.38 L808.81,602.48 L809.81,602.58 L810.81,602.68 L811.81,602.78 L812.81,602.87 L813.82,602.96 L814.82,603.06 L815.82,603.14 L816.82,603.23 L817.83,603.32 L818.83,603.40 L819.83,603.48 L820.83,603.56 L821.83,603.64 L822.84,603.72 L823.84,603.79 L824.84,603.86 L825.84,603.94 L826.85,604.01 L827.85,604.08 L828.85,604.14 L829.85,604.21 L830.85,604.28 L831.86,604.34 L832.86,604.40 L833.86,604.46 L834.86,604.52 L835.87,604.58 L836.87,604.64 L837.87,604.69 L838.87,604.75 L839.88,604.80 L840.88,604.85 L841.88,604.90 L842.88,604.95 L843.88,605.00 L844.89,605.04 L845.89,605.09 L846.89,605.13 L847.89,605.18 L848.90,605.22 L849.90,605.26 L850.90,605.30 L851.90,605.34 L852.90,605.37 L853.91,605.41 L854.91,605.45 L855.91,605.48 L856.91,605.51 L857.92,605.55 L858.92,605.58 L859.92,605.61 L860.92,605.64 L861.92,605.67 L862.93,605.70 L863.93,605.72 L864.93,605.75 L865.93,605.78 L866.94,605.80 L867.94,605.83 L868.94,605.85 L869.94,605.88 L870.94,605.90 L871.95,605.92 L872.95,605.94 L873.95,605.97 L874.95,605.99 L875.96,606.01 L876.96,606.03 L877.96,606.05 L878.96,606.06 L879.96,606.08 L880.97,606.10 L881.97,606.12 L882.97,606.13 L883.97,606.15 L884.98,606.17 L885.98,606.18 L886.98,606.20 L887.98,606.21 L888.99,606.23 L889.99,606.24 L890.99,606.25 L891.99,606.27 L892.99,606.28 L894.00,606.29 L895.00,606.30 L896.00,606.31 L897.00,606.33 L898.01,606.34 L899.01,606.35 L900.01,606.36 L901.01,606.37 L902.01,606.38 L903.02,606.39 L904.02,606.40 L905.02,606.41 L906.02,606.42 L907.03,606.42 L908.03,606.43 L909.03,606.44 L910.03,606.45 L911.03,606.46 L912.04,606.46 L913.04,606.47 L914.04,606.48 L915.04,606.48 L916.05,606.49 L917.05,606.50 L918.05,606.50 L919.05,606.51 L920.05,606.52 L921.06,606.52 L922.06,606.53 L923.06,606.53 L924.06,606.54 L925.07,606.54 L926.07,606.55 L927.07,606.55 L928.07,606.56 L929.08,606.56 L930.08,606.57 L931.08,606.57 L932.08,606.57 L933.08,606.58 L934.09,606.58 L935.09,606.59 L936.09,606.59 L937.09,606.59 L938.10,606.60 L939.10,606.60 L940.10,606.60 L941.10,606.61 L942.10,606.61 L943.11,606.61 L944.11,606.61 L945.11,606.62 L946.11,606.62 L947.12,606.62 L948.12,606.62 L949.12,606.63 L950.12,606.63 L951.12,606.63 L952.13,606.63 L953.13,606.64 L954.13,606.64 L955.13,606.64 L956.14,606.64 L957.14,606.64 L958.14,606.65 L959.14,606.65 L960.14,606.65 L961.15,606.65 L962.15,606.65 L963.15,606.65 L964.15,606.66 L965.16,606.66 L966.16,606.66 L967.16,606.66 L968.16,606.66 L969.17,606.66 L970.17,606.66 L971.17,606.67 L972.17,606.67 L973.17,606.67 L974.18,606.67 L975.18,606.67 L976.18,606.67 L977.18,606.67 L978.19,606.67 L979.19,606.67 L980.19,606.67 L981.19,606.68 L982.19,606.68 L983.20,606.68 L984.20,606.68 L985.20,606.68 L986.20,606.68 L987.21,606.68 L988.21,606.68 L989.21,606.68 L990.21,606.68 L991.21,606.68 L992.22,606.68 L993.22,606.68 L994.22,606.68 L995.22,606.69 L996.23,606.69 L997.23,606.69 L998.23,606.69 L999.23,606.69 L1000.23,606.69 L1001.24,606.69 L1002.24,606.69 L1003.24,606.69 L1004.24,606.69 L1005.25,606.69 L1006.25,606.69 L1007.25,606.69 L1008.25,606.69 L1009.26,606.69 L1010.26,606.69 L1011.26,606.69 L1012.26,606.69 L1013.26,606.69 L1014.27,606.69 L1015.27,606.69 L1016.27,606.69 L1017.27,606.69 L1018.28,606.69 L1019.28,606.69 L1020.28,606.69 L1021.28,606.69 L1022.28,606.69 L1023.29,606.69 L1024.29,606.69" stroke="#000000" stroke-width="6.25" stroke-dasharray="6.2 5.63"/>
</g>
<path d="M138.3,606.7 H1023 M138.3,0.7 H1023 M138.3,607.4000000000001 V0 M1020.3,606.7 V0" stroke="#000" stroke-width="1.4" fill="none"/>
<text font-size="100" transform="matrix(0.4214,0,0,0.4119,127.76,660.69)">0</text>
<text font-size="100" transform="matrix(0.4120,0,0,0.4088,212.78,660.49)">0.5</text>
<text font-size="100" transform="matrix(0.3943,0,0,0.4244,328.30,661.10)">1</text>
<text font-size="100" transform="matrix(0.4116,0,0,0.4149,412.22,660.48)">1.5</text>
<text font-size="100" transform="matrix(0.4400,0,0,0.4212,528.42,661.10)">2</text>
<text font-size="100" transform="matrix(0.4137,0,0,0.4119,613.46,660.48)">2.5</text>
<text font-size="100" transform="matrix(0.4293,0,0,0.4149,728.70,660.69)">3</text>
<text font-size="100" transform="matrix(0.4155,0,0,0.4119,813.70,660.48)">3.5</text>
<text font-size="100" transform="matrix(0.4000,0,0,0.4277,930.00,661.31)">4</text>
<text font-size="100" transform="matrix(0.4214,0,0,0.4059,91.91,616.89)">0</text>
<text font-size="100" transform="matrix(0.4199,0,0,0.4029,61.12,511.28)">0.2</text>
<text font-size="100" transform="matrix(0.4126,0,0,0.4029,60.65,405.86)">0.4</text>
<text font-size="100" transform="matrix(0.4110,0,0,0.4029,61.16,300.44)">0.6</text>
<text font-size="100" transform="matrix(0.4145,0,0,0.4029,61.14,195.02)">0.8</text>
<text font-size="100" transform="matrix(0.4143,0,0,0.4183,91.07,90.20)">1</text>
<g aria-label="r [osc]">
<text class="it" font-size="100" transform="matrix(0.4579,0,0,0.3914,525.00,712.90)">r</text>
<text font-size="100" transform="matrix(0.2818,0,0,0.5067,559.59,716.46)">[</text>
<text font-size="100" transform="matrix(0.4143,0,0,0.3896,567.04,712.61)">osc</text>
<text font-size="100" transform="matrix(0.2756,0,0,0.5067,620.64,716.46)">]</text>
</g>
<g aria-label="n(r); ñ(r) [osc]">
<text class="it" font-size="100" transform="rotate(-90) matrix(0.4378,0,0,0.3742,-432.19,30.09)">n</text>
<text font-size="100" transform="rotate(-90) matrix(0.3804,0,0,0.4644,-406.81,30.45)">(</text>
<text class="it" font-size="100" transform="rotate(-90) matrix(0.4378,0,0,0.3742,-394.41,30.09)">r</text>
<text font-size="100" transform="rotate(-90) matrix(0.3731,0,0,0.4644,-375.02,30.45)">)</text>
<text font-size="100" transform="rotate(-90) matrix(0.3667,0,0,0.4033,-359.13,31.25)">;</text>
<text class="it" font-size="100" transform="rotate(-90) matrix(0.4378,0,0,0.3742,-335.44,30.09)">ñ</text>
<text font-size="100" transform="rotate(-90) matrix(0.3804,0,0,0.4644,-310.01,30.45)">(</text>
<text class="it" font-size="100" transform="rotate(-90) matrix(0.4378,0,0,0.3742,-297.66,30.09)">r</text>
<text font-size="100" transform="rotate(-90) matrix(0.3731,0,0,0.4644,-278.32,30.45)">)</text>
<text font-size="100" transform="rotate(-90) matrix(0.2818,0,0,0.5067,-247.41,33.36)">[</text>
<text font-size="100" transform="rotate(-90) matrix(0.3960,0,0,0.3729,-239.08,29.83)">osc</text>
<text font-size="100" transform="rotate(-90) matrix(0.2756,0,0,0.5067,-186.56,33.36)">]</text>
</g>
<path d="M899.9,57.0 H985.7" stroke="#9acd32" stroke-width="4.1" fill="none" stroke-dasharray="8.3 7.5"/>
<text class="it" font-size="100" transform="matrix(0.4554,0,0,0.3892,816.23,66.99)">ñ</text>
<text font-size="100" transform="matrix(0.2784,0,0,0.2473,839.34,72.00)">TF</text>
<path d="M899.9,109.2 H985.7" stroke="#505050" stroke-width="4.1" fill="none" stroke-dasharray="4 3.6 12.4 11.8"/>
<text class="it" font-size="100" transform="matrix(0.4554,0,0,0.3892,824.03,119.16)">ñ</text>
<text font-size="100" transform="matrix(0.2381,0,0,0.2606,847.76,124.47)">Ai</text>
<path d="M899.9,161.3 H985.7" stroke="#ffa500" stroke-width="4.1" fill="none" stroke-dasharray="15.7 4.3"/>
<text class="it" font-size="100" transform="matrix(0.4554,0,0,0.3892,836.78,171.33)">ñ</text>
<text font-size="100" transform="matrix(0.2575,0,0,0.2586,859.25,177.08)">5</text>
<path d="M899.9,213.5 H985.7" stroke="#9370db" stroke-width="4.1" fill="none"/>
<text class="it" font-size="100" transform="matrix(0.4554,0,0,0.3892,836.78,223.50)">ñ</text>
<text font-size="100" transform="matrix(0.2593,0,0,0.2569,859.21,229.34)">7</text>
<path d="M899.9,265.7 H985.7" stroke="#505050" stroke-width="4.1" fill="none" stroke-dasharray="4.1 3.8"/>
<text class="it" font-size="100" transform="matrix(0.4554,0,0,0.3892,825.53,275.67)">ñ</text>
<text font-size="100" transform="matrix(0.2551,0,0,0.2271,847.98,280.75)">ex</text>
<path d="M899.9,317.9 H985.7" stroke="#00ff00" stroke-width="6.25" fill="none" stroke-dasharray="12.1 11.6"/>
<text class="it" font-size="100" transform="matrix(0.4554,0,0,0.3892,816.23,327.84)">n</text>
<text font-size="100" transform="matrix(0.2784,0,0,0.2473,839.34,332.85)">TF</text>
<path d="M899.9,370.0 H985.7" stroke="#000000" stroke-width="6.25" fill="none" stroke-dasharray="18 17.4 6.2 5.8"/>
<text class="it" font-size="100" transform="matrix(0.4554,0,0,0.3892,824.03,380.01)">n</text>
<text font-size="100" transform="matrix(0.2381,0,0,0.2606,847.76,385.32)">Ai</text>
<path d="M899.9,422.2 H985.7" stroke="#ff0000" stroke-width="6.25" fill="none" stroke-dasharray="24 5.6"/>
<text class="it" font-size="100" transform="matrix(0.4554,0,0,0.3892,836.78,432.18)">n</text>
<text font-size="100" transform="matrix(0.2575,0,0,0.2586,859.25,437.93)">5</text>
<path d="M899.9,474.4 H985.7" stroke="#0000ff" stroke-width="6.25" fill="none"/>
<text class="it" font-size="100" transform="matrix(0.4554,0,0,0.3892,836.78,484.35)">n</text>
<text font-size="100" transform="matrix(0.2593,0,0,0.2569,859.21,490.19)">7</text>
<path d="M899.9,526.5 H985.7" stroke="#000000" stroke-width="6.25" fill="none" stroke-dasharray="6.2 5.63"/>
<text class="it" font-size="100" transform="matrix(0.4554,0,0,0.3892,825.53,536.52)">n</text>
<text font-size="100" transform="matrix(0.2551,0,0,0.2271,847.98,541.60)">ex</text>
</svg></body></html>
